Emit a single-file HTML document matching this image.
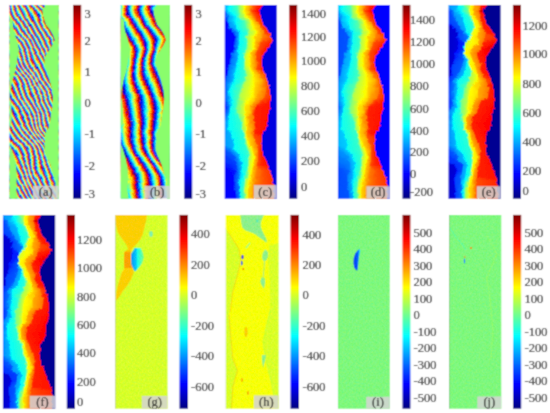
<!DOCTYPE html><html><head><meta charset="utf-8"><style>html,body{margin:0;padding:0;background:#fff;width:550px;height:413px;overflow:hidden}svg{position:absolute;left:0;top:0}text{font-family:"Liberation Serif",serif}.t{font-size:12.5px;fill:#262626;stroke:#262626;stroke-width:0.2px}.l{font-size:12.5px;fill:#1e1e1e;stroke:#1e1e1e;stroke-width:0.15px;text-anchor:middle}</style></head><body>
<svg id="m" width="550" height="413" viewBox="0 0 550 413" xmlns="http://www.w3.org/2000/svg">
<defs><linearGradient id="r0"><stop offset="0.000" stop-color="#333333"/><stop offset="0.153" stop-color="#545454"/><stop offset="0.194" stop-color="#616161"/><stop offset="0.274" stop-color="#6b6b6b"/><stop offset="0.302" stop-color="#737373"/><stop offset="0.323" stop-color="#808080"/><stop offset="0.485" stop-color="#b8b8b8"/><stop offset="0.558" stop-color="#cccccc"/><stop offset="0.617" stop-color="#d6d6d6"/><stop offset="0.657" stop-color="#dbdbdb"/><stop offset="1.000" stop-color="#fdfdfd"/></linearGradient><linearGradient id="r1"><stop offset="0.000" stop-color="#2d2d2d"/><stop offset="0.155" stop-color="#545454"/><stop offset="0.193" stop-color="#616161"/><stop offset="0.277" stop-color="#6b6b6b"/><stop offset="0.306" stop-color="#737373"/><stop offset="0.326" stop-color="#808080"/><stop offset="0.406" stop-color="#9e9e9e"/><stop offset="0.479" stop-color="#b8b8b8"/><stop offset="0.543" stop-color="#cccccc"/><stop offset="0.598" stop-color="#d6d6d6"/><stop offset="0.922" stop-color="#ffffff"/><stop offset="1.000" stop-color="#ffffff"/></linearGradient><linearGradient id="r2"><stop offset="0.000" stop-color="#252525"/><stop offset="0.137" stop-color="#4c4c4c"/><stop offset="0.192" stop-color="#616161"/><stop offset="0.281" stop-color="#6b6b6b"/><stop offset="0.311" stop-color="#737373"/><stop offset="0.328" stop-color="#808080"/><stop offset="0.401" stop-color="#9e9e9e"/><stop offset="0.529" stop-color="#cccccc"/><stop offset="0.579" stop-color="#d6d6d6"/><stop offset="0.827" stop-color="#ffffff"/><stop offset="1.000" stop-color="#ffffff"/></linearGradient><linearGradient id="r3"><stop offset="0.000" stop-color="#1a1a1a"/><stop offset="0.147" stop-color="#4c4c4c"/><stop offset="0.160" stop-color="#545454"/><stop offset="0.191" stop-color="#616161"/><stop offset="0.285" stop-color="#6b6b6b"/><stop offset="0.315" stop-color="#737373"/><stop offset="0.331" stop-color="#808080"/><stop offset="0.355" stop-color="#8c8c8c"/><stop offset="0.396" stop-color="#9e9e9e"/><stop offset="0.467" stop-color="#b8b8b8"/><stop offset="0.514" stop-color="#cccccc"/><stop offset="0.732" stop-color="#ffffff"/><stop offset="1.000" stop-color="#ffffff"/></linearGradient><linearGradient id="r4"><stop offset="0.000" stop-color="#171717"/><stop offset="0.105" stop-color="#363636"/><stop offset="0.163" stop-color="#4c4c4c"/><stop offset="0.230" stop-color="#616161"/><stop offset="0.296" stop-color="#6b6b6b"/><stop offset="0.318" stop-color="#737373"/><stop offset="0.333" stop-color="#808080"/><stop offset="0.409" stop-color="#9e9e9e"/><stop offset="0.483" stop-color="#b8b8b8"/><stop offset="0.534" stop-color="#cccccc"/><stop offset="0.584" stop-color="#d6d6d6"/><stop offset="0.819" stop-color="#ffffff"/><stop offset="1.000" stop-color="#ffffff"/></linearGradient><linearGradient id="r5"><stop offset="0.000" stop-color="#161616"/><stop offset="0.129" stop-color="#363636"/><stop offset="0.149" stop-color="#3d3d3d"/><stop offset="0.178" stop-color="#4c4c4c"/><stop offset="0.269" stop-color="#616161"/><stop offset="0.307" stop-color="#6b6b6b"/><stop offset="0.322" stop-color="#737373"/><stop offset="0.336" stop-color="#808080"/><stop offset="0.376" stop-color="#8c8c8c"/><stop offset="0.421" stop-color="#9e9e9e"/><stop offset="0.498" stop-color="#b8b8b8"/><stop offset="0.553" stop-color="#cccccc"/><stop offset="0.608" stop-color="#d6d6d6"/><stop offset="0.906" stop-color="#ffffff"/><stop offset="1.000" stop-color="#ffffff"/></linearGradient><linearGradient id="r6"><stop offset="0.000" stop-color="#141414"/><stop offset="0.153" stop-color="#363636"/><stop offset="0.172" stop-color="#3d3d3d"/><stop offset="0.194" stop-color="#4c4c4c"/><stop offset="0.308" stop-color="#616161"/><stop offset="0.338" stop-color="#808080"/><stop offset="0.387" stop-color="#8c8c8c"/><stop offset="0.433" stop-color="#9e9e9e"/><stop offset="0.514" stop-color="#b8b8b8"/><stop offset="0.573" stop-color="#cccccc"/><stop offset="0.632" stop-color="#d6d6d6"/><stop offset="1.000" stop-color="#ffffff"/></linearGradient><linearGradient id="r7"><stop offset="0.000" stop-color="#0d0d0d"/><stop offset="0.118" stop-color="#262626"/><stop offset="0.156" stop-color="#363636"/><stop offset="0.167" stop-color="#3d3d3d"/><stop offset="0.175" stop-color="#474747"/><stop offset="0.196" stop-color="#4c4c4c"/><stop offset="0.244" stop-color="#545454"/><stop offset="0.294" stop-color="#616161"/><stop offset="0.346" stop-color="#6b6b6b"/><stop offset="0.367" stop-color="#737373"/><stop offset="0.389" stop-color="#808080"/><stop offset="0.428" stop-color="#8c8c8c"/><stop offset="0.469" stop-color="#9e9e9e"/><stop offset="0.587" stop-color="#cccccc"/><stop offset="0.651" stop-color="#d6d6d6"/><stop offset="0.966" stop-color="#ffffff"/><stop offset="1.000" stop-color="#ffffff"/></linearGradient><linearGradient id="r8"><stop offset="0.000" stop-color="#060606"/><stop offset="0.154" stop-color="#262626"/><stop offset="0.164" stop-color="#474747"/><stop offset="0.251" stop-color="#545454"/><stop offset="0.279" stop-color="#616161"/><stop offset="0.373" stop-color="#6b6b6b"/><stop offset="0.409" stop-color="#737373"/><stop offset="0.441" stop-color="#808080"/><stop offset="0.506" stop-color="#9e9e9e"/><stop offset="0.534" stop-color="#adadad"/><stop offset="0.602" stop-color="#cccccc"/><stop offset="0.940" stop-color="#ffffff"/><stop offset="1.000" stop-color="#ffffff"/></linearGradient><linearGradient id="r9"><stop offset="0.000" stop-color="#080808"/><stop offset="0.117" stop-color="#1f1f1f"/><stop offset="0.146" stop-color="#212121"/><stop offset="0.163" stop-color="#262626"/><stop offset="0.174" stop-color="#474747"/><stop offset="0.226" stop-color="#4c4c4c"/><stop offset="0.262" stop-color="#545454"/><stop offset="0.284" stop-color="#616161"/><stop offset="0.371" stop-color="#6b6b6b"/><stop offset="0.414" stop-color="#737373"/><stop offset="0.468" stop-color="#8c8c8c"/><stop offset="0.517" stop-color="#9e9e9e"/><stop offset="0.549" stop-color="#adadad"/><stop offset="0.583" stop-color="#b8b8b8"/><stop offset="0.622" stop-color="#cccccc"/><stop offset="0.957" stop-color="#ffffff"/><stop offset="1.000" stop-color="#ffffff"/></linearGradient><linearGradient id="r10"><stop offset="0.000" stop-color="#090909"/><stop offset="0.117" stop-color="#1f1f1f"/><stop offset="0.163" stop-color="#212121"/><stop offset="0.172" stop-color="#262626"/><stop offset="0.184" stop-color="#474747"/><stop offset="0.252" stop-color="#4c4c4c"/><stop offset="0.273" stop-color="#545454"/><stop offset="0.289" stop-color="#616161"/><stop offset="0.370" stop-color="#6b6b6b"/><stop offset="0.419" stop-color="#737373"/><stop offset="0.467" stop-color="#8c8c8c"/><stop offset="0.528" stop-color="#9e9e9e"/><stop offset="0.565" stop-color="#adadad"/><stop offset="0.612" stop-color="#b8b8b8"/><stop offset="0.641" stop-color="#cccccc"/><stop offset="0.974" stop-color="#ffffff"/><stop offset="1.000" stop-color="#ffffff"/></linearGradient><linearGradient id="r11"><stop offset="0.000" stop-color="#0a0a0a"/><stop offset="0.117" stop-color="#1f1f1f"/><stop offset="0.179" stop-color="#212121"/><stop offset="0.194" stop-color="#474747"/><stop offset="0.279" stop-color="#4c4c4c"/><stop offset="0.294" stop-color="#616161"/><stop offset="0.424" stop-color="#737373"/><stop offset="0.467" stop-color="#8c8c8c"/><stop offset="0.539" stop-color="#9e9e9e"/><stop offset="0.580" stop-color="#adadad"/><stop offset="0.640" stop-color="#b8b8b8"/><stop offset="0.661" stop-color="#cccccc"/><stop offset="0.991" stop-color="#ffffff"/><stop offset="1.000" stop-color="#ffffff"/></linearGradient><linearGradient id="r12"><stop offset="0.000" stop-color="#0a0a0a"/><stop offset="0.117" stop-color="#1f1f1f"/><stop offset="0.198" stop-color="#212121"/><stop offset="0.210" stop-color="#363636"/><stop offset="0.220" stop-color="#3d3d3d"/><stop offset="0.237" stop-color="#474747"/><stop offset="0.295" stop-color="#4c4c4c"/><stop offset="0.308" stop-color="#616161"/><stop offset="0.397" stop-color="#6b6b6b"/><stop offset="0.437" stop-color="#737373"/><stop offset="0.477" stop-color="#8c8c8c"/><stop offset="0.554" stop-color="#9e9e9e"/><stop offset="0.589" stop-color="#adadad"/><stop offset="0.643" stop-color="#b8b8b8"/><stop offset="0.664" stop-color="#c2c2c2"/><stop offset="0.675" stop-color="#cccccc"/><stop offset="1.000" stop-color="#fbfbfb"/></linearGradient><linearGradient id="r13"><stop offset="0.000" stop-color="#0a0a0a"/><stop offset="0.117" stop-color="#1f1f1f"/><stop offset="0.217" stop-color="#212121"/><stop offset="0.232" stop-color="#363636"/><stop offset="0.249" stop-color="#3d3d3d"/><stop offset="0.280" stop-color="#474747"/><stop offset="0.310" stop-color="#4c4c4c"/><stop offset="0.323" stop-color="#616161"/><stop offset="0.425" stop-color="#6b6b6b"/><stop offset="0.451" stop-color="#737373"/><stop offset="0.487" stop-color="#8c8c8c"/><stop offset="0.568" stop-color="#9e9e9e"/><stop offset="0.599" stop-color="#adadad"/><stop offset="0.647" stop-color="#b8b8b8"/><stop offset="0.677" stop-color="#c2c2c2"/><stop offset="0.690" stop-color="#cccccc"/><stop offset="1.000" stop-color="#f6f6f6"/></linearGradient><linearGradient id="r14"><stop offset="0.000" stop-color="#0a0a0a"/><stop offset="0.117" stop-color="#1f1f1f"/><stop offset="0.236" stop-color="#212121"/><stop offset="0.255" stop-color="#363636"/><stop offset="0.279" stop-color="#3d3d3d"/><stop offset="0.323" stop-color="#474747"/><stop offset="0.338" stop-color="#616161"/><stop offset="0.454" stop-color="#6b6b6b"/><stop offset="0.496" stop-color="#8c8c8c"/><stop offset="0.583" stop-color="#9e9e9e"/><stop offset="0.608" stop-color="#adadad"/><stop offset="0.690" stop-color="#c2c2c2"/><stop offset="0.705" stop-color="#cccccc"/><stop offset="1.000" stop-color="#f2f2f2"/></linearGradient><linearGradient id="r15"><stop offset="0.000" stop-color="#0a0a0a"/><stop offset="0.117" stop-color="#1f1f1f"/><stop offset="0.251" stop-color="#212121"/><stop offset="0.269" stop-color="#363636"/><stop offset="0.287" stop-color="#3d3d3d"/><stop offset="0.318" stop-color="#474747"/><stop offset="0.325" stop-color="#4c4c4c"/><stop offset="0.338" stop-color="#616161"/><stop offset="0.439" stop-color="#6b6b6b"/><stop offset="0.475" stop-color="#8c8c8c"/><stop offset="0.561" stop-color="#9e9e9e"/><stop offset="0.583" stop-color="#adadad"/><stop offset="0.652" stop-color="#b8b8b8"/><stop offset="0.684" stop-color="#c2c2c2"/><stop offset="0.759" stop-color="#cccccc"/><stop offset="1.000" stop-color="#e2e2e2"/></linearGradient><linearGradient id="r16"><stop offset="0.000" stop-color="#0a0a0a"/><stop offset="0.117" stop-color="#1f1f1f"/><stop offset="0.266" stop-color="#212121"/><stop offset="0.284" stop-color="#363636"/><stop offset="0.296" stop-color="#3d3d3d"/><stop offset="0.323" stop-color="#4c4c4c"/><stop offset="0.338" stop-color="#616161"/><stop offset="0.424" stop-color="#6b6b6b"/><stop offset="0.454" stop-color="#8c8c8c"/><stop offset="0.539" stop-color="#9e9e9e"/><stop offset="0.558" stop-color="#adadad"/><stop offset="0.655" stop-color="#b8b8b8"/><stop offset="0.677" stop-color="#c2c2c2"/><stop offset="1.000" stop-color="#d9d9d9"/></linearGradient><linearGradient id="r17"><stop offset="0.000" stop-color="#0a0a0a"/><stop offset="0.117" stop-color="#1f1f1f"/><stop offset="0.261" stop-color="#212121"/><stop offset="0.279" stop-color="#363636"/><stop offset="0.292" stop-color="#3d3d3d"/><stop offset="0.323" stop-color="#4c4c4c"/><stop offset="0.338" stop-color="#616161"/><stop offset="0.429" stop-color="#6b6b6b"/><stop offset="0.458" stop-color="#8c8c8c"/><stop offset="0.539" stop-color="#9e9e9e"/><stop offset="0.559" stop-color="#adadad"/><stop offset="0.636" stop-color="#b8b8b8"/><stop offset="0.662" stop-color="#c2c2c2"/><stop offset="0.758" stop-color="#cccccc"/><stop offset="1.000" stop-color="#dddddd"/></linearGradient><linearGradient id="r18"><stop offset="0.000" stop-color="#0a0a0a"/><stop offset="0.117" stop-color="#1f1f1f"/><stop offset="0.256" stop-color="#212121"/><stop offset="0.274" stop-color="#363636"/><stop offset="0.288" stop-color="#3d3d3d"/><stop offset="0.323" stop-color="#4c4c4c"/><stop offset="0.338" stop-color="#616161"/><stop offset="0.434" stop-color="#6b6b6b"/><stop offset="0.463" stop-color="#8c8c8c"/><stop offset="0.539" stop-color="#9e9e9e"/><stop offset="0.560" stop-color="#adadad"/><stop offset="0.616" stop-color="#b8b8b8"/><stop offset="0.647" stop-color="#c2c2c2"/><stop offset="0.702" stop-color="#cccccc"/><stop offset="1.000" stop-color="#e2e2e2"/></linearGradient><linearGradient id="r19"><stop offset="0.000" stop-color="#0a0a0a"/><stop offset="0.117" stop-color="#1f1f1f"/><stop offset="0.251" stop-color="#212121"/><stop offset="0.269" stop-color="#363636"/><stop offset="0.285" stop-color="#3d3d3d"/><stop offset="0.323" stop-color="#4c4c4c"/><stop offset="0.338" stop-color="#616161"/><stop offset="0.439" stop-color="#6b6b6b"/><stop offset="0.467" stop-color="#8c8c8c"/><stop offset="0.539" stop-color="#9e9e9e"/><stop offset="0.561" stop-color="#adadad"/><stop offset="0.632" stop-color="#c2c2c2"/><stop offset="0.646" stop-color="#cccccc"/><stop offset="1.000" stop-color="#e6e6e6"/></linearGradient><linearGradient id="r20"><stop offset="0.000" stop-color="#0a0a0a"/><stop offset="0.117" stop-color="#1f1f1f"/><stop offset="0.251" stop-color="#212121"/><stop offset="0.269" stop-color="#363636"/><stop offset="0.283" stop-color="#3d3d3d"/><stop offset="0.318" stop-color="#4c4c4c"/><stop offset="0.333" stop-color="#616161"/><stop offset="0.434" stop-color="#6b6b6b"/><stop offset="0.463" stop-color="#8c8c8c"/><stop offset="0.539" stop-color="#9e9e9e"/><stop offset="0.558" stop-color="#adadad"/><stop offset="0.623" stop-color="#c2c2c2"/><stop offset="0.636" stop-color="#cccccc"/><stop offset="1.000" stop-color="#ebebeb"/></linearGradient><linearGradient id="r21"><stop offset="0.000" stop-color="#0a0a0a"/><stop offset="0.117" stop-color="#1f1f1f"/><stop offset="0.251" stop-color="#212121"/><stop offset="0.269" stop-color="#363636"/><stop offset="0.282" stop-color="#3d3d3d"/><stop offset="0.313" stop-color="#4c4c4c"/><stop offset="0.328" stop-color="#616161"/><stop offset="0.429" stop-color="#6b6b6b"/><stop offset="0.458" stop-color="#8c8c8c"/><stop offset="0.539" stop-color="#9e9e9e"/><stop offset="0.556" stop-color="#adadad"/><stop offset="0.613" stop-color="#c2c2c2"/><stop offset="0.627" stop-color="#cccccc"/><stop offset="1.000" stop-color="#f0f0f0"/></linearGradient><linearGradient id="r22"><stop offset="0.000" stop-color="#0a0a0a"/><stop offset="0.117" stop-color="#1f1f1f"/><stop offset="0.251" stop-color="#212121"/><stop offset="0.269" stop-color="#363636"/><stop offset="0.281" stop-color="#3d3d3d"/><stop offset="0.308" stop-color="#4c4c4c"/><stop offset="0.323" stop-color="#616161"/><stop offset="0.424" stop-color="#6b6b6b"/><stop offset="0.454" stop-color="#8c8c8c"/><stop offset="0.539" stop-color="#9e9e9e"/><stop offset="0.553" stop-color="#adadad"/><stop offset="0.604" stop-color="#c2c2c2"/><stop offset="0.617" stop-color="#cccccc"/><stop offset="1.000" stop-color="#f8f8f8"/></linearGradient><linearGradient id="r23"><stop offset="0.000" stop-color="#0a0a0a"/><stop offset="0.117" stop-color="#1f1f1f"/><stop offset="0.236" stop-color="#212121"/><stop offset="0.253" stop-color="#363636"/><stop offset="0.262" stop-color="#3d3d3d"/><stop offset="0.308" stop-color="#4c4c4c"/><stop offset="0.323" stop-color="#616161"/><stop offset="0.410" stop-color="#6b6b6b"/><stop offset="0.436" stop-color="#8c8c8c"/><stop offset="0.510" stop-color="#9e9e9e"/><stop offset="0.527" stop-color="#adadad"/><stop offset="0.589" stop-color="#c2c2c2"/><stop offset="0.602" stop-color="#cccccc"/><stop offset="1.000" stop-color="#fafafa"/></linearGradient><linearGradient id="r24"><stop offset="0.000" stop-color="#0a0a0a"/><stop offset="0.117" stop-color="#1f1f1f"/><stop offset="0.222" stop-color="#212121"/><stop offset="0.242" stop-color="#3d3d3d"/><stop offset="0.308" stop-color="#4c4c4c"/><stop offset="0.323" stop-color="#616161"/><stop offset="0.396" stop-color="#6b6b6b"/><stop offset="0.419" stop-color="#8c8c8c"/><stop offset="0.482" stop-color="#9e9e9e"/><stop offset="0.500" stop-color="#adadad"/><stop offset="0.575" stop-color="#c2c2c2"/><stop offset="0.587" stop-color="#cccccc"/><stop offset="1.000" stop-color="#fcfcfc"/></linearGradient><linearGradient id="r25"><stop offset="0.000" stop-color="#0a0a0a"/><stop offset="0.117" stop-color="#1f1f1f"/><stop offset="0.212" stop-color="#212121"/><stop offset="0.233" stop-color="#3d3d3d"/><stop offset="0.289" stop-color="#474747"/><stop offset="0.305" stop-color="#4c4c4c"/><stop offset="0.323" stop-color="#616161"/><stop offset="0.396" stop-color="#6b6b6b"/><stop offset="0.419" stop-color="#8c8c8c"/><stop offset="0.439" stop-color="#949494"/><stop offset="0.482" stop-color="#9e9e9e"/><stop offset="0.502" stop-color="#adadad"/><stop offset="0.575" stop-color="#c2c2c2"/><stop offset="0.587" stop-color="#cccccc"/><stop offset="1.000" stop-color="#ffffff"/></linearGradient><linearGradient id="r26"><stop offset="0.000" stop-color="#0a0a0a"/><stop offset="0.117" stop-color="#1f1f1f"/><stop offset="0.203" stop-color="#212121"/><stop offset="0.223" stop-color="#3d3d3d"/><stop offset="0.291" stop-color="#474747"/><stop offset="0.302" stop-color="#4c4c4c"/><stop offset="0.323" stop-color="#616161"/><stop offset="0.396" stop-color="#6b6b6b"/><stop offset="0.419" stop-color="#8c8c8c"/><stop offset="0.431" stop-color="#949494"/><stop offset="0.482" stop-color="#9e9e9e"/><stop offset="0.504" stop-color="#adadad"/><stop offset="0.575" stop-color="#c2c2c2"/><stop offset="0.587" stop-color="#cccccc"/><stop offset="0.959" stop-color="#ffffff"/><stop offset="1.000" stop-color="#ffffff"/></linearGradient><linearGradient id="r27"><stop offset="0.000" stop-color="#0a0a0a"/><stop offset="0.117" stop-color="#1f1f1f"/><stop offset="0.194" stop-color="#212121"/><stop offset="0.213" stop-color="#3d3d3d"/><stop offset="0.294" stop-color="#474747"/><stop offset="0.323" stop-color="#616161"/><stop offset="0.396" stop-color="#6b6b6b"/><stop offset="0.424" stop-color="#949494"/><stop offset="0.482" stop-color="#9e9e9e"/><stop offset="0.506" stop-color="#adadad"/><stop offset="0.575" stop-color="#c2c2c2"/><stop offset="0.587" stop-color="#cccccc"/><stop offset="0.925" stop-color="#ffffff"/><stop offset="1.000" stop-color="#ffffff"/></linearGradient><linearGradient id="r28"><stop offset="0.000" stop-color="#0a0a0a"/><stop offset="0.117" stop-color="#1f1f1f"/><stop offset="0.189" stop-color="#212121"/><stop offset="0.208" stop-color="#3d3d3d"/><stop offset="0.289" stop-color="#474747"/><stop offset="0.318" stop-color="#616161"/><stop offset="0.396" stop-color="#6b6b6b"/><stop offset="0.424" stop-color="#949494"/><stop offset="0.482" stop-color="#9e9e9e"/><stop offset="0.506" stop-color="#adadad"/><stop offset="0.580" stop-color="#c2c2c2"/><stop offset="0.592" stop-color="#cccccc"/><stop offset="0.930" stop-color="#ffffff"/><stop offset="1.000" stop-color="#ffffff"/></linearGradient><linearGradient id="r29"><stop offset="0.000" stop-color="#0a0a0a"/><stop offset="0.117" stop-color="#1f1f1f"/><stop offset="0.184" stop-color="#212121"/><stop offset="0.203" stop-color="#3d3d3d"/><stop offset="0.284" stop-color="#474747"/><stop offset="0.313" stop-color="#616161"/><stop offset="0.396" stop-color="#6b6b6b"/><stop offset="0.424" stop-color="#949494"/><stop offset="0.482" stop-color="#9e9e9e"/><stop offset="0.506" stop-color="#adadad"/><stop offset="0.584" stop-color="#c2c2c2"/><stop offset="0.597" stop-color="#cccccc"/><stop offset="0.935" stop-color="#ffffff"/><stop offset="1.000" stop-color="#ffffff"/></linearGradient><linearGradient id="r30"><stop offset="0.000" stop-color="#0a0a0a"/><stop offset="0.117" stop-color="#1f1f1f"/><stop offset="0.179" stop-color="#212121"/><stop offset="0.198" stop-color="#3d3d3d"/><stop offset="0.279" stop-color="#474747"/><stop offset="0.308" stop-color="#616161"/><stop offset="0.396" stop-color="#6b6b6b"/><stop offset="0.424" stop-color="#949494"/><stop offset="0.482" stop-color="#9e9e9e"/><stop offset="0.506" stop-color="#adadad"/><stop offset="0.589" stop-color="#c2c2c2"/><stop offset="0.602" stop-color="#cccccc"/><stop offset="0.940" stop-color="#ffffff"/><stop offset="1.000" stop-color="#ffffff"/></linearGradient><linearGradient id="r31"><stop offset="0.000" stop-color="#0a0a0a"/><stop offset="0.117" stop-color="#1f1f1f"/><stop offset="0.172" stop-color="#212121"/><stop offset="0.190" stop-color="#3d3d3d"/><stop offset="0.256" stop-color="#474747"/><stop offset="0.275" stop-color="#4c4c4c"/><stop offset="0.301" stop-color="#616161"/><stop offset="0.396" stop-color="#6b6b6b"/><stop offset="0.422" stop-color="#8c8c8c"/><stop offset="0.440" stop-color="#949494"/><stop offset="0.489" stop-color="#9e9e9e"/><stop offset="0.513" stop-color="#adadad"/><stop offset="0.582" stop-color="#c2c2c2"/><stop offset="0.595" stop-color="#cccccc"/><stop offset="0.969" stop-color="#ffffff"/><stop offset="1.000" stop-color="#ffffff"/></linearGradient><linearGradient id="r32"><stop offset="0.000" stop-color="#0a0a0a"/><stop offset="0.117" stop-color="#1f1f1f"/><stop offset="0.164" stop-color="#212121"/><stop offset="0.182" stop-color="#3d3d3d"/><stop offset="0.233" stop-color="#474747"/><stop offset="0.266" stop-color="#4c4c4c"/><stop offset="0.294" stop-color="#616161"/><stop offset="0.396" stop-color="#6b6b6b"/><stop offset="0.426" stop-color="#8c8c8c"/><stop offset="0.496" stop-color="#9e9e9e"/><stop offset="0.521" stop-color="#adadad"/><stop offset="0.575" stop-color="#c2c2c2"/><stop offset="0.587" stop-color="#cccccc"/><stop offset="1.000" stop-color="#ffffff"/></linearGradient><linearGradient id="r33"><stop offset="0.000" stop-color="#0a0a0a"/><stop offset="0.117" stop-color="#1f1f1f"/><stop offset="0.160" stop-color="#212121"/><stop offset="0.177" stop-color="#3d3d3d"/><stop offset="0.228" stop-color="#474747"/><stop offset="0.261" stop-color="#4c4c4c"/><stop offset="0.286" stop-color="#616161"/><stop offset="0.396" stop-color="#6b6b6b"/><stop offset="0.412" stop-color="#737373"/><stop offset="0.436" stop-color="#8c8c8c"/><stop offset="0.511" stop-color="#9e9e9e"/><stop offset="0.538" stop-color="#adadad"/><stop offset="0.574" stop-color="#b8b8b8"/><stop offset="0.597" stop-color="#c2c2c2"/><stop offset="0.629" stop-color="#cccccc"/><stop offset="1.000" stop-color="#f9f9f9"/></linearGradient><linearGradient id="r34"><stop offset="0.000" stop-color="#0a0a0a"/><stop offset="0.117" stop-color="#1f1f1f"/><stop offset="0.155" stop-color="#212121"/><stop offset="0.172" stop-color="#3d3d3d"/><stop offset="0.223" stop-color="#474747"/><stop offset="0.256" stop-color="#4c4c4c"/><stop offset="0.279" stop-color="#616161"/><stop offset="0.395" stop-color="#6b6b6b"/><stop offset="0.421" stop-color="#737373"/><stop offset="0.445" stop-color="#8c8c8c"/><stop offset="0.525" stop-color="#9e9e9e"/><stop offset="0.555" stop-color="#adadad"/><stop offset="0.600" stop-color="#b8b8b8"/><stop offset="0.620" stop-color="#c2c2c2"/><stop offset="0.671" stop-color="#cccccc"/><stop offset="1.000" stop-color="#f3f3f3"/></linearGradient><linearGradient id="r35"><stop offset="0.000" stop-color="#0a0a0a"/><stop offset="0.117" stop-color="#1f1f1f"/><stop offset="0.150" stop-color="#212121"/><stop offset="0.167" stop-color="#3d3d3d"/><stop offset="0.218" stop-color="#474747"/><stop offset="0.251" stop-color="#4c4c4c"/><stop offset="0.272" stop-color="#616161"/><stop offset="0.394" stop-color="#6b6b6b"/><stop offset="0.430" stop-color="#737373"/><stop offset="0.455" stop-color="#8c8c8c"/><stop offset="0.539" stop-color="#9e9e9e"/><stop offset="0.573" stop-color="#adadad"/><stop offset="0.626" stop-color="#b8b8b8"/><stop offset="0.642" stop-color="#c2c2c2"/><stop offset="0.712" stop-color="#cccccc"/><stop offset="1.000" stop-color="#ededed"/></linearGradient><linearGradient id="r36"><stop offset="0.000" stop-color="#0c0c0c"/><stop offset="0.094" stop-color="#1f1f1f"/><stop offset="0.118" stop-color="#212121"/><stop offset="0.162" stop-color="#3d3d3d"/><stop offset="0.246" stop-color="#4c4c4c"/><stop offset="0.267" stop-color="#616161"/><stop offset="0.385" stop-color="#6b6b6b"/><stop offset="0.420" stop-color="#737373"/><stop offset="0.445" stop-color="#8c8c8c"/><stop offset="0.539" stop-color="#9e9e9e"/><stop offset="0.559" stop-color="#a6a6a6"/><stop offset="0.586" stop-color="#adadad"/><stop offset="0.639" stop-color="#b8b8b8"/><stop offset="0.662" stop-color="#c2c2c2"/><stop offset="0.726" stop-color="#cccccc"/><stop offset="1.000" stop-color="#f1f1f1"/></linearGradient><linearGradient id="r37"><stop offset="0.000" stop-color="#0e0e0e"/><stop offset="0.070" stop-color="#1f1f1f"/><stop offset="0.087" stop-color="#212121"/><stop offset="0.158" stop-color="#3d3d3d"/><stop offset="0.241" stop-color="#4c4c4c"/><stop offset="0.262" stop-color="#616161"/><stop offset="0.377" stop-color="#6b6b6b"/><stop offset="0.411" stop-color="#737373"/><stop offset="0.436" stop-color="#8c8c8c"/><stop offset="0.539" stop-color="#9e9e9e"/><stop offset="0.561" stop-color="#a6a6a6"/><stop offset="0.652" stop-color="#b8b8b8"/><stop offset="0.682" stop-color="#c2c2c2"/><stop offset="1.000" stop-color="#f5f5f5"/></linearGradient><linearGradient id="r38"><stop offset="0.000" stop-color="#111111"/><stop offset="0.153" stop-color="#3d3d3d"/><stop offset="0.236" stop-color="#4c4c4c"/><stop offset="0.257" stop-color="#616161"/><stop offset="0.369" stop-color="#6b6b6b"/><stop offset="0.401" stop-color="#737373"/><stop offset="0.426" stop-color="#8c8c8c"/><stop offset="0.539" stop-color="#9e9e9e"/><stop offset="0.564" stop-color="#a6a6a6"/><stop offset="0.614" stop-color="#adadad"/><stop offset="0.665" stop-color="#b8b8b8"/><stop offset="0.702" stop-color="#c2c2c2"/><stop offset="1.000" stop-color="#fbfbfb"/></linearGradient><linearGradient id="r39"><stop offset="0.000" stop-color="#151515"/><stop offset="0.145" stop-color="#3d3d3d"/><stop offset="0.215" stop-color="#4c4c4c"/><stop offset="0.239" stop-color="#616161"/><stop offset="0.337" stop-color="#6b6b6b"/><stop offset="0.384" stop-color="#737373"/><stop offset="0.411" stop-color="#8c8c8c"/><stop offset="0.539" stop-color="#9e9e9e"/><stop offset="0.560" stop-color="#a6a6a6"/><stop offset="0.593" stop-color="#adadad"/><stop offset="0.656" stop-color="#b8b8b8"/><stop offset="0.698" stop-color="#c2c2c2"/><stop offset="0.756" stop-color="#cccccc"/><stop offset="1.000" stop-color="#ececec"/></linearGradient><linearGradient id="r40"><stop offset="0.000" stop-color="#191919"/><stop offset="0.194" stop-color="#4c4c4c"/><stop offset="0.222" stop-color="#616161"/><stop offset="0.367" stop-color="#737373"/><stop offset="0.396" stop-color="#8c8c8c"/><stop offset="0.539" stop-color="#9e9e9e"/><stop offset="0.573" stop-color="#adadad"/><stop offset="0.646" stop-color="#b8b8b8"/><stop offset="0.694" stop-color="#c2c2c2"/><stop offset="0.756" stop-color="#cccccc"/><stop offset="1.000" stop-color="#e4e4e4"/></linearGradient><linearGradient id="r41"><stop offset="0.000" stop-color="#1d1d1d"/><stop offset="0.141" stop-color="#3d3d3d"/><stop offset="0.188" stop-color="#4c4c4c"/><stop offset="0.212" stop-color="#616161"/><stop offset="0.357" stop-color="#737373"/><stop offset="0.387" stop-color="#8c8c8c"/><stop offset="0.532" stop-color="#9e9e9e"/><stop offset="0.553" stop-color="#a6a6a6"/><stop offset="0.569" stop-color="#adadad"/><stop offset="0.701" stop-color="#c2c2c2"/><stop offset="0.749" stop-color="#cccccc"/><stop offset="1.000" stop-color="#e5e5e5"/></linearGradient><linearGradient id="r42"><stop offset="0.000" stop-color="#212121"/><stop offset="0.145" stop-color="#3d3d3d"/><stop offset="0.172" stop-color="#474747"/><stop offset="0.182" stop-color="#4c4c4c"/><stop offset="0.203" stop-color="#616161"/><stop offset="0.348" stop-color="#737373"/><stop offset="0.377" stop-color="#8c8c8c"/><stop offset="0.525" stop-color="#9e9e9e"/><stop offset="0.551" stop-color="#a6a6a6"/><stop offset="0.566" stop-color="#adadad"/><stop offset="0.709" stop-color="#c2c2c2"/><stop offset="0.742" stop-color="#cccccc"/><stop offset="1.000" stop-color="#e6e6e6"/></linearGradient><linearGradient id="r43"><stop offset="0.000" stop-color="#242424"/><stop offset="0.149" stop-color="#3d3d3d"/><stop offset="0.171" stop-color="#474747"/><stop offset="0.194" stop-color="#616161"/><stop offset="0.338" stop-color="#737373"/><stop offset="0.367" stop-color="#8c8c8c"/><stop offset="0.517" stop-color="#9e9e9e"/><stop offset="0.549" stop-color="#a6a6a6"/><stop offset="0.563" stop-color="#adadad"/><stop offset="0.628" stop-color="#b8b8b8"/><stop offset="0.717" stop-color="#c2c2c2"/><stop offset="0.734" stop-color="#cccccc"/><stop offset="1.000" stop-color="#e7e7e7"/></linearGradient><linearGradient id="r44"><stop offset="0.000" stop-color="#212121"/><stop offset="0.145" stop-color="#3d3d3d"/><stop offset="0.174" stop-color="#474747"/><stop offset="0.199" stop-color="#616161"/><stop offset="0.328" stop-color="#737373"/><stop offset="0.357" stop-color="#8c8c8c"/><stop offset="0.516" stop-color="#9e9e9e"/><stop offset="0.549" stop-color="#a6a6a6"/><stop offset="0.563" stop-color="#adadad"/><stop offset="0.613" stop-color="#b8b8b8"/><stop offset="0.709" stop-color="#c2c2c2"/><stop offset="0.727" stop-color="#cccccc"/><stop offset="1.000" stop-color="#e4e4e4"/></linearGradient><linearGradient id="r45"><stop offset="0.000" stop-color="#1f1f1f"/><stop offset="0.142" stop-color="#3d3d3d"/><stop offset="0.177" stop-color="#474747"/><stop offset="0.204" stop-color="#616161"/><stop offset="0.318" stop-color="#737373"/><stop offset="0.348" stop-color="#8c8c8c"/><stop offset="0.515" stop-color="#9e9e9e"/><stop offset="0.549" stop-color="#a6a6a6"/><stop offset="0.563" stop-color="#adadad"/><stop offset="0.598" stop-color="#b8b8b8"/><stop offset="0.701" stop-color="#c2c2c2"/><stop offset="0.720" stop-color="#cccccc"/><stop offset="1.000" stop-color="#e2e2e2"/></linearGradient><linearGradient id="r46"><stop offset="0.000" stop-color="#1b1b1b"/><stop offset="0.179" stop-color="#474747"/><stop offset="0.209" stop-color="#616161"/><stop offset="0.308" stop-color="#737373"/><stop offset="0.338" stop-color="#8c8c8c"/><stop offset="0.514" stop-color="#9e9e9e"/><stop offset="0.549" stop-color="#a6a6a6"/><stop offset="0.583" stop-color="#b8b8b8"/><stop offset="0.693" stop-color="#c2c2c2"/><stop offset="0.712" stop-color="#cccccc"/><stop offset="1.000" stop-color="#e0e0e0"/></linearGradient><linearGradient id="r47"><stop offset="0.000" stop-color="#141414"/><stop offset="0.179" stop-color="#474747"/><stop offset="0.189" stop-color="#4c4c4c"/><stop offset="0.215" stop-color="#616161"/><stop offset="0.308" stop-color="#737373"/><stop offset="0.326" stop-color="#808080"/><stop offset="0.359" stop-color="#8c8c8c"/><stop offset="0.419" stop-color="#949494"/><stop offset="0.519" stop-color="#a6a6a6"/><stop offset="0.551" stop-color="#adadad"/><stop offset="0.571" stop-color="#b8b8b8"/><stop offset="0.659" stop-color="#c2c2c2"/><stop offset="0.679" stop-color="#cccccc"/><stop offset="1.000" stop-color="#e5e5e5"/></linearGradient><linearGradient id="r48"><stop offset="0.000" stop-color="#0c0c0c"/><stop offset="0.194" stop-color="#4c4c4c"/><stop offset="0.222" stop-color="#616161"/><stop offset="0.308" stop-color="#737373"/><stop offset="0.329" stop-color="#808080"/><stop offset="0.381" stop-color="#8c8c8c"/><stop offset="0.424" stop-color="#949494"/><stop offset="0.441" stop-color="#9e9e9e"/><stop offset="0.539" stop-color="#adadad"/><stop offset="0.558" stop-color="#b8b8b8"/><stop offset="0.626" stop-color="#c2c2c2"/><stop offset="0.646" stop-color="#cccccc"/><stop offset="1.000" stop-color="#ededed"/></linearGradient><linearGradient id="r49"><stop offset="0.000" stop-color="#090909"/><stop offset="0.140" stop-color="#363636"/><stop offset="0.194" stop-color="#4c4c4c"/><stop offset="0.217" stop-color="#616161"/><stop offset="0.274" stop-color="#6b6b6b"/><stop offset="0.302" stop-color="#737373"/><stop offset="0.322" stop-color="#808080"/><stop offset="0.375" stop-color="#8c8c8c"/><stop offset="0.415" stop-color="#949494"/><stop offset="0.431" stop-color="#9e9e9e"/><stop offset="0.468" stop-color="#a6a6a6"/><stop offset="0.520" stop-color="#adadad"/><stop offset="0.539" stop-color="#b8b8b8"/><stop offset="0.597" stop-color="#c2c2c2"/><stop offset="0.618" stop-color="#cccccc"/><stop offset="0.695" stop-color="#d6d6d6"/><stop offset="0.798" stop-color="#dbdbdb"/><stop offset="1.000" stop-color="#ececec"/></linearGradient><linearGradient id="r50"><stop offset="0.000" stop-color="#070707"/><stop offset="0.155" stop-color="#363636"/><stop offset="0.171" stop-color="#3d3d3d"/><stop offset="0.194" stop-color="#4c4c4c"/><stop offset="0.213" stop-color="#616161"/><stop offset="0.276" stop-color="#6b6b6b"/><stop offset="0.296" stop-color="#737373"/><stop offset="0.315" stop-color="#808080"/><stop offset="0.406" stop-color="#949494"/><stop offset="0.422" stop-color="#9e9e9e"/><stop offset="0.447" stop-color="#a6a6a6"/><stop offset="0.501" stop-color="#adadad"/><stop offset="0.520" stop-color="#b8b8b8"/><stop offset="0.568" stop-color="#c2c2c2"/><stop offset="0.590" stop-color="#cccccc"/><stop offset="0.634" stop-color="#d6d6d6"/><stop offset="0.784" stop-color="#dbdbdb"/><stop offset="1.000" stop-color="#ececec"/></linearGradient><linearGradient id="r51"><stop offset="0.000" stop-color="#040404"/><stop offset="0.170" stop-color="#363636"/><stop offset="0.183" stop-color="#3d3d3d"/><stop offset="0.209" stop-color="#616161"/><stop offset="0.279" stop-color="#6b6b6b"/><stop offset="0.308" stop-color="#808080"/><stop offset="0.396" stop-color="#949494"/><stop offset="0.426" stop-color="#a6a6a6"/><stop offset="0.482" stop-color="#adadad"/><stop offset="0.501" stop-color="#b8b8b8"/><stop offset="0.539" stop-color="#c2c2c2"/><stop offset="0.562" stop-color="#cccccc"/><stop offset="0.573" stop-color="#d6d6d6"/><stop offset="0.769" stop-color="#dbdbdb"/><stop offset="1.000" stop-color="#ebebeb"/></linearGradient><linearGradient id="r52"><stop offset="0.000" stop-color="#0e0e0e"/><stop offset="0.157" stop-color="#363636"/><stop offset="0.177" stop-color="#3d3d3d"/><stop offset="0.188" stop-color="#474747"/><stop offset="0.204" stop-color="#616161"/><stop offset="0.279" stop-color="#6b6b6b"/><stop offset="0.308" stop-color="#808080"/><stop offset="0.396" stop-color="#949494"/><stop offset="0.426" stop-color="#a6a6a6"/><stop offset="0.477" stop-color="#adadad"/><stop offset="0.502" stop-color="#b8b8b8"/><stop offset="0.534" stop-color="#c2c2c2"/><stop offset="0.556" stop-color="#cccccc"/><stop offset="0.567" stop-color="#d6d6d6"/><stop offset="0.765" stop-color="#dbdbdb"/><stop offset="1.000" stop-color="#ececec"/></linearGradient><linearGradient id="r53"><stop offset="0.000" stop-color="#151515"/><stop offset="0.172" stop-color="#3d3d3d"/><stop offset="0.185" stop-color="#474747"/><stop offset="0.199" stop-color="#616161"/><stop offset="0.279" stop-color="#6b6b6b"/><stop offset="0.308" stop-color="#808080"/><stop offset="0.396" stop-color="#949494"/><stop offset="0.426" stop-color="#a6a6a6"/><stop offset="0.473" stop-color="#adadad"/><stop offset="0.503" stop-color="#b8b8b8"/><stop offset="0.550" stop-color="#cccccc"/><stop offset="0.561" stop-color="#d6d6d6"/><stop offset="0.761" stop-color="#dbdbdb"/><stop offset="1.000" stop-color="#ececec"/></linearGradient><linearGradient id="r54"><stop offset="0.000" stop-color="#1b1b1b"/><stop offset="0.167" stop-color="#3d3d3d"/><stop offset="0.183" stop-color="#474747"/><stop offset="0.194" stop-color="#616161"/><stop offset="0.279" stop-color="#6b6b6b"/><stop offset="0.308" stop-color="#808080"/><stop offset="0.396" stop-color="#949494"/><stop offset="0.426" stop-color="#a6a6a6"/><stop offset="0.468" stop-color="#adadad"/><stop offset="0.503" stop-color="#b8b8b8"/><stop offset="0.544" stop-color="#cccccc"/><stop offset="0.555" stop-color="#d6d6d6"/><stop offset="0.756" stop-color="#dbdbdb"/><stop offset="1.000" stop-color="#ececec"/></linearGradient><linearGradient id="r55"><stop offset="0.000" stop-color="#1f1f1f"/><stop offset="0.142" stop-color="#3d3d3d"/><stop offset="0.174" stop-color="#474747"/><stop offset="0.186" stop-color="#616161"/><stop offset="0.301" stop-color="#6b6b6b"/><stop offset="0.330" stop-color="#808080"/><stop offset="0.380" stop-color="#8c8c8c"/><stop offset="0.400" stop-color="#949494"/><stop offset="0.412" stop-color="#9e9e9e"/><stop offset="0.430" stop-color="#a6a6a6"/><stop offset="0.457" stop-color="#adadad"/><stop offset="0.479" stop-color="#b8b8b8"/><stop offset="0.532" stop-color="#c2c2c2"/><stop offset="0.547" stop-color="#cccccc"/><stop offset="0.557" stop-color="#d6d6d6"/><stop offset="0.749" stop-color="#dbdbdb"/><stop offset="1.000" stop-color="#ededed"/></linearGradient><linearGradient id="r56"><stop offset="0.000" stop-color="#242424"/><stop offset="0.164" stop-color="#474747"/><stop offset="0.179" stop-color="#616161"/><stop offset="0.323" stop-color="#6b6b6b"/><stop offset="0.352" stop-color="#808080"/><stop offset="0.396" stop-color="#8c8c8c"/><stop offset="0.411" stop-color="#9e9e9e"/><stop offset="0.433" stop-color="#a6a6a6"/><stop offset="0.445" stop-color="#adadad"/><stop offset="0.455" stop-color="#b8b8b8"/><stop offset="0.541" stop-color="#c2c2c2"/><stop offset="0.558" stop-color="#d6d6d6"/><stop offset="0.742" stop-color="#dbdbdb"/><stop offset="1.000" stop-color="#ededed"/></linearGradient><linearGradient id="r57"><stop offset="0.000" stop-color="#2a2a2a"/><stop offset="0.149" stop-color="#474747"/><stop offset="0.166" stop-color="#4c4c4c"/><stop offset="0.179" stop-color="#616161"/><stop offset="0.333" stop-color="#6b6b6b"/><stop offset="0.358" stop-color="#808080"/><stop offset="0.392" stop-color="#8c8c8c"/><stop offset="0.416" stop-color="#9e9e9e"/><stop offset="0.435" stop-color="#a6a6a6"/><stop offset="0.449" stop-color="#adadad"/><stop offset="0.460" stop-color="#b8b8b8"/><stop offset="0.541" stop-color="#c2c2c2"/><stop offset="0.558" stop-color="#d6d6d6"/><stop offset="0.742" stop-color="#dbdbdb"/><stop offset="1.000" stop-color="#ededed"/></linearGradient><linearGradient id="r58"><stop offset="0.000" stop-color="#2f2f2f"/><stop offset="0.165" stop-color="#4c4c4c"/><stop offset="0.179" stop-color="#616161"/><stop offset="0.343" stop-color="#6b6b6b"/><stop offset="0.364" stop-color="#808080"/><stop offset="0.420" stop-color="#9e9e9e"/><stop offset="0.452" stop-color="#adadad"/><stop offset="0.465" stop-color="#b8b8b8"/><stop offset="0.541" stop-color="#c2c2c2"/><stop offset="0.558" stop-color="#d6d6d6"/><stop offset="0.742" stop-color="#dbdbdb"/><stop offset="1.000" stop-color="#ededed"/></linearGradient><linearGradient id="r59"><stop offset="0.000" stop-color="#333333"/><stop offset="0.117" stop-color="#474747"/><stop offset="0.164" stop-color="#4c4c4c"/><stop offset="0.179" stop-color="#616161"/><stop offset="0.352" stop-color="#6b6b6b"/><stop offset="0.382" stop-color="#8c8c8c"/><stop offset="0.424" stop-color="#9e9e9e"/><stop offset="0.455" stop-color="#adadad"/><stop offset="0.470" stop-color="#b8b8b8"/><stop offset="0.541" stop-color="#c2c2c2"/><stop offset="0.558" stop-color="#d6d6d6"/><stop offset="0.742" stop-color="#dbdbdb"/><stop offset="1.000" stop-color="#ededed"/></linearGradient><linearGradient id="r60"><stop offset="0.000" stop-color="#333333"/><stop offset="0.117" stop-color="#474747"/><stop offset="0.164" stop-color="#4c4c4c"/><stop offset="0.179" stop-color="#616161"/><stop offset="0.357" stop-color="#6b6b6b"/><stop offset="0.387" stop-color="#8c8c8c"/><stop offset="0.429" stop-color="#9e9e9e"/><stop offset="0.454" stop-color="#adadad"/><stop offset="0.481" stop-color="#b8b8b8"/><stop offset="0.546" stop-color="#c2c2c2"/><stop offset="0.563" stop-color="#d6d6d6"/><stop offset="0.727" stop-color="#dbdbdb"/><stop offset="1.000" stop-color="#eeeeee"/></linearGradient><linearGradient id="r61"><stop offset="0.000" stop-color="#333333"/><stop offset="0.117" stop-color="#474747"/><stop offset="0.164" stop-color="#4c4c4c"/><stop offset="0.179" stop-color="#616161"/><stop offset="0.362" stop-color="#6b6b6b"/><stop offset="0.392" stop-color="#8c8c8c"/><stop offset="0.434" stop-color="#9e9e9e"/><stop offset="0.453" stop-color="#adadad"/><stop offset="0.493" stop-color="#b8b8b8"/><stop offset="0.552" stop-color="#c2c2c2"/><stop offset="0.568" stop-color="#d6d6d6"/><stop offset="0.712" stop-color="#dbdbdb"/><stop offset="1.000" stop-color="#efefef"/></linearGradient><linearGradient id="r62"><stop offset="0.000" stop-color="#333333"/><stop offset="0.117" stop-color="#474747"/><stop offset="0.164" stop-color="#4c4c4c"/><stop offset="0.179" stop-color="#616161"/><stop offset="0.367" stop-color="#6b6b6b"/><stop offset="0.396" stop-color="#8c8c8c"/><stop offset="0.439" stop-color="#9e9e9e"/><stop offset="0.451" stop-color="#adadad"/><stop offset="0.557" stop-color="#c2c2c2"/><stop offset="0.573" stop-color="#d6d6d6"/><stop offset="0.698" stop-color="#dbdbdb"/><stop offset="1.000" stop-color="#f0f0f0"/></linearGradient><linearGradient id="r63"><stop offset="0.000" stop-color="#333333"/><stop offset="0.117" stop-color="#474747"/><stop offset="0.179" stop-color="#4c4c4c"/><stop offset="0.194" stop-color="#616161"/><stop offset="0.382" stop-color="#6b6b6b"/><stop offset="0.404" stop-color="#8c8c8c"/><stop offset="0.431" stop-color="#9e9e9e"/><stop offset="0.445" stop-color="#adadad"/><stop offset="0.501" stop-color="#b8b8b8"/><stop offset="0.543" stop-color="#c2c2c2"/><stop offset="0.558" stop-color="#d6d6d6"/><stop offset="0.676" stop-color="#dbdbdb"/><stop offset="1.000" stop-color="#f2f2f2"/></linearGradient><linearGradient id="r64"><stop offset="0.000" stop-color="#333333"/><stop offset="0.117" stop-color="#474747"/><stop offset="0.194" stop-color="#4c4c4c"/><stop offset="0.209" stop-color="#616161"/><stop offset="0.396" stop-color="#6b6b6b"/><stop offset="0.416" stop-color="#949494"/><stop offset="0.424" stop-color="#9e9e9e"/><stop offset="0.439" stop-color="#adadad"/><stop offset="0.497" stop-color="#b8b8b8"/><stop offset="0.529" stop-color="#c2c2c2"/><stop offset="0.543" stop-color="#d6d6d6"/><stop offset="0.655" stop-color="#dbdbdb"/><stop offset="1.000" stop-color="#f3f3f3"/></linearGradient><linearGradient id="r65"><stop offset="0.000" stop-color="#333333"/><stop offset="0.117" stop-color="#474747"/><stop offset="0.203" stop-color="#4c4c4c"/><stop offset="0.218" stop-color="#616161"/><stop offset="0.401" stop-color="#6b6b6b"/><stop offset="0.423" stop-color="#949494"/><stop offset="0.431" stop-color="#9e9e9e"/><stop offset="0.438" stop-color="#a6a6a6"/><stop offset="0.454" stop-color="#adadad"/><stop offset="0.511" stop-color="#b8b8b8"/><stop offset="0.536" stop-color="#c2c2c2"/><stop offset="0.544" stop-color="#cccccc"/><stop offset="0.607" stop-color="#d6d6d6"/><stop offset="0.706" stop-color="#dbdbdb"/><stop offset="1.000" stop-color="#f0f0f0"/></linearGradient><linearGradient id="r66"><stop offset="0.000" stop-color="#333333"/><stop offset="0.117" stop-color="#474747"/><stop offset="0.212" stop-color="#4c4c4c"/><stop offset="0.227" stop-color="#616161"/><stop offset="0.405" stop-color="#6b6b6b"/><stop offset="0.429" stop-color="#949494"/><stop offset="0.438" stop-color="#9e9e9e"/><stop offset="0.445" stop-color="#a6a6a6"/><stop offset="0.468" stop-color="#adadad"/><stop offset="0.525" stop-color="#b8b8b8"/><stop offset="0.542" stop-color="#c2c2c2"/><stop offset="0.551" stop-color="#cccccc"/><stop offset="0.672" stop-color="#d6d6d6"/><stop offset="1.000" stop-color="#ececec"/></linearGradient><linearGradient id="r67"><stop offset="0.000" stop-color="#333333"/><stop offset="0.117" stop-color="#474747"/><stop offset="0.222" stop-color="#4c4c4c"/><stop offset="0.236" stop-color="#616161"/><stop offset="0.410" stop-color="#6b6b6b"/><stop offset="0.436" stop-color="#949494"/><stop offset="0.444" stop-color="#9e9e9e"/><stop offset="0.453" stop-color="#a6a6a6"/><stop offset="0.483" stop-color="#adadad"/><stop offset="0.539" stop-color="#b8b8b8"/><stop offset="0.558" stop-color="#cccccc"/><stop offset="0.736" stop-color="#d6d6d6"/><stop offset="1.000" stop-color="#e9e9e9"/></linearGradient><linearGradient id="r68"><stop offset="0.000" stop-color="#333333"/><stop offset="0.117" stop-color="#474747"/><stop offset="0.232" stop-color="#4c4c4c"/><stop offset="0.246" stop-color="#616161"/><stop offset="0.415" stop-color="#6b6b6b"/><stop offset="0.442" stop-color="#949494"/><stop offset="0.457" stop-color="#9e9e9e"/><stop offset="0.464" stop-color="#a6a6a6"/><stop offset="0.487" stop-color="#adadad"/><stop offset="0.540" stop-color="#b8b8b8"/><stop offset="0.562" stop-color="#c2c2c2"/><stop offset="0.571" stop-color="#cccccc"/><stop offset="1.000" stop-color="#eaeaea"/></linearGradient><linearGradient id="r69"><stop offset="0.000" stop-color="#333333"/><stop offset="0.117" stop-color="#474747"/><stop offset="0.241" stop-color="#4c4c4c"/><stop offset="0.255" stop-color="#616161"/><stop offset="0.419" stop-color="#6b6b6b"/><stop offset="0.448" stop-color="#949494"/><stop offset="0.469" stop-color="#9e9e9e"/><stop offset="0.476" stop-color="#a6a6a6"/><stop offset="0.491" stop-color="#adadad"/><stop offset="0.540" stop-color="#b8b8b8"/><stop offset="0.575" stop-color="#c2c2c2"/><stop offset="0.584" stop-color="#cccccc"/><stop offset="0.700" stop-color="#d6d6d6"/><stop offset="1.000" stop-color="#ebebeb"/></linearGradient><linearGradient id="r70"><stop offset="0.000" stop-color="#333333"/><stop offset="0.117" stop-color="#474747"/><stop offset="0.251" stop-color="#4c4c4c"/><stop offset="0.264" stop-color="#616161"/><stop offset="0.424" stop-color="#6b6b6b"/><stop offset="0.454" stop-color="#949494"/><stop offset="0.482" stop-color="#9e9e9e"/><stop offset="0.495" stop-color="#adadad"/><stop offset="0.588" stop-color="#c2c2c2"/><stop offset="0.597" stop-color="#cccccc"/><stop offset="0.683" stop-color="#d6d6d6"/><stop offset="1.000" stop-color="#ececec"/></linearGradient><linearGradient id="r71"><stop offset="0.000" stop-color="#2b2b2b"/><stop offset="0.170" stop-color="#474747"/><stop offset="0.239" stop-color="#4c4c4c"/><stop offset="0.258" stop-color="#616161"/><stop offset="0.432" stop-color="#6b6b6b"/><stop offset="0.458" stop-color="#8c8c8c"/><stop offset="0.470" stop-color="#949494"/><stop offset="0.496" stop-color="#9e9e9e"/><stop offset="0.513" stop-color="#adadad"/><stop offset="0.594" stop-color="#c2c2c2"/><stop offset="0.602" stop-color="#cccccc"/><stop offset="0.669" stop-color="#d6d6d6"/><stop offset="1.000" stop-color="#ededed"/></linearGradient><linearGradient id="r72"><stop offset="0.000" stop-color="#242424"/><stop offset="0.103" stop-color="#363636"/><stop offset="0.222" stop-color="#474747"/><stop offset="0.251" stop-color="#616161"/><stop offset="0.439" stop-color="#6b6b6b"/><stop offset="0.467" stop-color="#8c8c8c"/><stop offset="0.511" stop-color="#9e9e9e"/><stop offset="0.532" stop-color="#adadad"/><stop offset="0.601" stop-color="#c2c2c2"/><stop offset="0.606" stop-color="#cccccc"/><stop offset="0.654" stop-color="#d6d6d6"/><stop offset="1.000" stop-color="#eeeeee"/></linearGradient><linearGradient id="r73"><stop offset="0.000" stop-color="#222222"/><stop offset="0.083" stop-color="#303030"/><stop offset="0.152" stop-color="#363636"/><stop offset="0.246" stop-color="#474747"/><stop offset="0.259" stop-color="#4c4c4c"/><stop offset="0.280" stop-color="#616161"/><stop offset="0.448" stop-color="#6b6b6b"/><stop offset="0.477" stop-color="#8c8c8c"/><stop offset="0.520" stop-color="#9e9e9e"/><stop offset="0.539" stop-color="#adadad"/><stop offset="0.601" stop-color="#c2c2c2"/><stop offset="0.606" stop-color="#cccccc"/><stop offset="0.654" stop-color="#d6d6d6"/><stop offset="1.000" stop-color="#eeeeee"/></linearGradient><linearGradient id="r74"><stop offset="0.000" stop-color="#202020"/><stop offset="0.093" stop-color="#303030"/><stop offset="0.202" stop-color="#363636"/><stop offset="0.223" stop-color="#3d3d3d"/><stop offset="0.291" stop-color="#4c4c4c"/><stop offset="0.309" stop-color="#616161"/><stop offset="0.458" stop-color="#6b6b6b"/><stop offset="0.487" stop-color="#8c8c8c"/><stop offset="0.530" stop-color="#9e9e9e"/><stop offset="0.546" stop-color="#adadad"/><stop offset="0.601" stop-color="#c2c2c2"/><stop offset="0.606" stop-color="#cccccc"/><stop offset="0.654" stop-color="#d6d6d6"/><stop offset="1.000" stop-color="#eeeeee"/></linearGradient><linearGradient id="r75"><stop offset="0.000" stop-color="#1f1f1f"/><stop offset="0.103" stop-color="#303030"/><stop offset="0.251" stop-color="#363636"/><stop offset="0.259" stop-color="#3d3d3d"/><stop offset="0.294" stop-color="#474747"/><stop offset="0.323" stop-color="#4c4c4c"/><stop offset="0.338" stop-color="#616161"/><stop offset="0.467" stop-color="#6b6b6b"/><stop offset="0.496" stop-color="#8c8c8c"/><stop offset="0.539" stop-color="#9e9e9e"/><stop offset="0.553" stop-color="#adadad"/><stop offset="0.601" stop-color="#c2c2c2"/><stop offset="0.606" stop-color="#cccccc"/><stop offset="0.654" stop-color="#d6d6d6"/><stop offset="1.000" stop-color="#eeeeee"/></linearGradient><linearGradient id="r76"><stop offset="0.000" stop-color="#1d1d1d"/><stop offset="0.083" stop-color="#2b2b2b"/><stop offset="0.262" stop-color="#363636"/><stop offset="0.269" stop-color="#3d3d3d"/><stop offset="0.303" stop-color="#474747"/><stop offset="0.333" stop-color="#4c4c4c"/><stop offset="0.348" stop-color="#616161"/><stop offset="0.463" stop-color="#6b6b6b"/><stop offset="0.490" stop-color="#8c8c8c"/><stop offset="0.504" stop-color="#949494"/><stop offset="0.539" stop-color="#9e9e9e"/><stop offset="0.553" stop-color="#adadad"/><stop offset="0.601" stop-color="#c2c2c2"/><stop offset="0.606" stop-color="#cccccc"/><stop offset="0.657" stop-color="#d6d6d6"/><stop offset="1.000" stop-color="#ededed"/></linearGradient><linearGradient id="r77"><stop offset="0.000" stop-color="#1b1b1b"/><stop offset="0.093" stop-color="#2b2b2b"/><stop offset="0.220" stop-color="#303030"/><stop offset="0.272" stop-color="#363636"/><stop offset="0.279" stop-color="#3d3d3d"/><stop offset="0.313" stop-color="#474747"/><stop offset="0.343" stop-color="#4c4c4c"/><stop offset="0.357" stop-color="#616161"/><stop offset="0.458" stop-color="#6b6b6b"/><stop offset="0.483" stop-color="#8c8c8c"/><stop offset="0.493" stop-color="#949494"/><stop offset="0.539" stop-color="#9e9e9e"/><stop offset="0.553" stop-color="#adadad"/><stop offset="0.601" stop-color="#c2c2c2"/><stop offset="0.606" stop-color="#cccccc"/><stop offset="0.659" stop-color="#d6d6d6"/><stop offset="1.000" stop-color="#ededed"/></linearGradient><linearGradient id="r78"><stop offset="0.000" stop-color="#191919"/><stop offset="0.103" stop-color="#2b2b2b"/><stop offset="0.279" stop-color="#303030"/><stop offset="0.289" stop-color="#3d3d3d"/><stop offset="0.323" stop-color="#474747"/><stop offset="0.352" stop-color="#4c4c4c"/><stop offset="0.367" stop-color="#616161"/><stop offset="0.454" stop-color="#6b6b6b"/><stop offset="0.482" stop-color="#949494"/><stop offset="0.539" stop-color="#9e9e9e"/><stop offset="0.553" stop-color="#adadad"/><stop offset="0.601" stop-color="#c2c2c2"/><stop offset="0.606" stop-color="#cccccc"/><stop offset="0.662" stop-color="#d6d6d6"/><stop offset="1.000" stop-color="#ededed"/></linearGradient><linearGradient id="r79"><stop offset="0.000" stop-color="#161616"/><stop offset="0.095" stop-color="#262626"/><stop offset="0.169" stop-color="#2b2b2b"/><stop offset="0.287" stop-color="#303030"/><stop offset="0.297" stop-color="#3d3d3d"/><stop offset="0.330" stop-color="#474747"/><stop offset="0.360" stop-color="#4c4c4c"/><stop offset="0.374" stop-color="#616161"/><stop offset="0.454" stop-color="#6b6b6b"/><stop offset="0.482" stop-color="#949494"/><stop offset="0.532" stop-color="#9e9e9e"/><stop offset="0.546" stop-color="#adadad"/><stop offset="0.593" stop-color="#c2c2c2"/><stop offset="0.600" stop-color="#cccccc"/><stop offset="0.662" stop-color="#d6d6d6"/><stop offset="0.756" stop-color="#dbdbdb"/><stop offset="1.000" stop-color="#ececec"/></linearGradient><linearGradient id="r80"><stop offset="0.000" stop-color="#121212"/><stop offset="0.117" stop-color="#262626"/><stop offset="0.235" stop-color="#2b2b2b"/><stop offset="0.296" stop-color="#303030"/><stop offset="0.305" stop-color="#3d3d3d"/><stop offset="0.338" stop-color="#474747"/><stop offset="0.367" stop-color="#4c4c4c"/><stop offset="0.380" stop-color="#616161"/><stop offset="0.454" stop-color="#6b6b6b"/><stop offset="0.482" stop-color="#949494"/><stop offset="0.526" stop-color="#9e9e9e"/><stop offset="0.539" stop-color="#adadad"/><stop offset="0.586" stop-color="#c2c2c2"/><stop offset="0.593" stop-color="#cccccc"/><stop offset="0.662" stop-color="#d6d6d6"/><stop offset="0.764" stop-color="#dbdbdb"/><stop offset="1.000" stop-color="#ececec"/></linearGradient><linearGradient id="r81"><stop offset="0.000" stop-color="#0f0f0f"/><stop offset="0.088" stop-color="#1f1f1f"/><stop offset="0.172" stop-color="#262626"/><stop offset="0.251" stop-color="#2b2b2b"/><stop offset="0.293" stop-color="#303030"/><stop offset="0.297" stop-color="#363636"/><stop offset="0.308" stop-color="#3d3d3d"/><stop offset="0.363" stop-color="#4c4c4c"/><stop offset="0.376" stop-color="#616161"/><stop offset="0.449" stop-color="#6b6b6b"/><stop offset="0.477" stop-color="#949494"/><stop offset="0.521" stop-color="#9e9e9e"/><stop offset="0.534" stop-color="#adadad"/><stop offset="0.587" stop-color="#c2c2c2"/><stop offset="0.625" stop-color="#cccccc"/><stop offset="0.740" stop-color="#d6d6d6"/><stop offset="1.000" stop-color="#e7e7e7"/></linearGradient><linearGradient id="r82"><stop offset="0.000" stop-color="#0d0d0d"/><stop offset="0.103" stop-color="#1f1f1f"/><stop offset="0.162" stop-color="#212121"/><stop offset="0.226" stop-color="#262626"/><stop offset="0.268" stop-color="#2b2b2b"/><stop offset="0.291" stop-color="#303030"/><stop offset="0.294" stop-color="#363636"/><stop offset="0.310" stop-color="#3d3d3d"/><stop offset="0.348" stop-color="#474747"/><stop offset="0.359" stop-color="#4c4c4c"/><stop offset="0.372" stop-color="#616161"/><stop offset="0.444" stop-color="#6b6b6b"/><stop offset="0.472" stop-color="#949494"/><stop offset="0.516" stop-color="#9e9e9e"/><stop offset="0.529" stop-color="#adadad"/><stop offset="0.588" stop-color="#c2c2c2"/><stop offset="0.658" stop-color="#cccccc"/><stop offset="1.000" stop-color="#e2e2e2"/></linearGradient><linearGradient id="r83"><stop offset="0.000" stop-color="#0a0a0a"/><stop offset="0.117" stop-color="#1f1f1f"/><stop offset="0.198" stop-color="#212121"/><stop offset="0.281" stop-color="#262626"/><stop offset="0.292" stop-color="#363636"/><stop offset="0.313" stop-color="#3d3d3d"/><stop offset="0.352" stop-color="#474747"/><stop offset="0.367" stop-color="#616161"/><stop offset="0.439" stop-color="#6b6b6b"/><stop offset="0.467" stop-color="#949494"/><stop offset="0.511" stop-color="#9e9e9e"/><stop offset="0.524" stop-color="#adadad"/><stop offset="0.589" stop-color="#c2c2c2"/><stop offset="0.691" stop-color="#cccccc"/><stop offset="0.894" stop-color="#d6d6d6"/><stop offset="1.000" stop-color="#dedede"/></linearGradient><linearGradient id="r84"><stop offset="0.000" stop-color="#0a0a0a"/><stop offset="0.117" stop-color="#1f1f1f"/><stop offset="0.216" stop-color="#212121"/><stop offset="0.272" stop-color="#262626"/><stop offset="0.280" stop-color="#303030"/><stop offset="0.346" stop-color="#474747"/><stop offset="0.349" stop-color="#4c4c4c"/><stop offset="0.356" stop-color="#545454"/><stop offset="0.377" stop-color="#616161"/><stop offset="0.427" stop-color="#6b6b6b"/><stop offset="0.433" stop-color="#737373"/><stop offset="0.453" stop-color="#808080"/><stop offset="0.466" stop-color="#949494"/><stop offset="0.506" stop-color="#9e9e9e"/><stop offset="0.519" stop-color="#adadad"/><stop offset="0.584" stop-color="#c2c2c2"/><stop offset="0.691" stop-color="#cccccc"/><stop offset="0.899" stop-color="#d6d6d6"/><stop offset="1.000" stop-color="#dddddd"/></linearGradient><linearGradient id="r85"><stop offset="0.000" stop-color="#0a0a0a"/><stop offset="0.117" stop-color="#1f1f1f"/><stop offset="0.233" stop-color="#212121"/><stop offset="0.264" stop-color="#262626"/><stop offset="0.271" stop-color="#303030"/><stop offset="0.322" stop-color="#3d3d3d"/><stop offset="0.339" stop-color="#474747"/><stop offset="0.342" stop-color="#4c4c4c"/><stop offset="0.352" stop-color="#545454"/><stop offset="0.416" stop-color="#6b6b6b"/><stop offset="0.421" stop-color="#737373"/><stop offset="0.453" stop-color="#808080"/><stop offset="0.465" stop-color="#949494"/><stop offset="0.501" stop-color="#9e9e9e"/><stop offset="0.514" stop-color="#adadad"/><stop offset="0.579" stop-color="#c2c2c2"/><stop offset="0.691" stop-color="#cccccc"/><stop offset="0.904" stop-color="#d6d6d6"/><stop offset="1.000" stop-color="#dddddd"/></linearGradient><linearGradient id="r86"><stop offset="0.000" stop-color="#0a0a0a"/><stop offset="0.117" stop-color="#1f1f1f"/><stop offset="0.251" stop-color="#212121"/><stop offset="0.262" stop-color="#303030"/><stop offset="0.294" stop-color="#363636"/><stop offset="0.326" stop-color="#3d3d3d"/><stop offset="0.335" stop-color="#4c4c4c"/><stop offset="0.348" stop-color="#545454"/><stop offset="0.396" stop-color="#616161"/><stop offset="0.410" stop-color="#737373"/><stop offset="0.454" stop-color="#808080"/><stop offset="0.464" stop-color="#949494"/><stop offset="0.496" stop-color="#9e9e9e"/><stop offset="0.510" stop-color="#adadad"/><stop offset="0.574" stop-color="#c2c2c2"/><stop offset="0.691" stop-color="#cccccc"/><stop offset="0.909" stop-color="#d6d6d6"/><stop offset="1.000" stop-color="#dddddd"/></linearGradient><linearGradient id="r87"><stop offset="0.000" stop-color="#0a0a0a"/><stop offset="0.117" stop-color="#1f1f1f"/><stop offset="0.251" stop-color="#212121"/><stop offset="0.262" stop-color="#303030"/><stop offset="0.319" stop-color="#3d3d3d"/><stop offset="0.329" stop-color="#474747"/><stop offset="0.332" stop-color="#4c4c4c"/><stop offset="0.340" stop-color="#545454"/><stop offset="0.367" stop-color="#616161"/><stop offset="0.407" stop-color="#6b6b6b"/><stop offset="0.411" stop-color="#737373"/><stop offset="0.436" stop-color="#808080"/><stop offset="0.442" stop-color="#8c8c8c"/><stop offset="0.479" stop-color="#9e9e9e"/><stop offset="0.492" stop-color="#a6a6a6"/><stop offset="0.533" stop-color="#b8b8b8"/><stop offset="0.579" stop-color="#c2c2c2"/><stop offset="0.698" stop-color="#cccccc"/><stop offset="0.916" stop-color="#d6d6d6"/><stop offset="1.000" stop-color="#dcdcdc"/></linearGradient><linearGradient id="r88"><stop offset="0.000" stop-color="#0a0a0a"/><stop offset="0.117" stop-color="#1f1f1f"/><stop offset="0.251" stop-color="#212121"/><stop offset="0.262" stop-color="#303030"/><stop offset="0.276" stop-color="#363636"/><stop offset="0.311" stop-color="#3d3d3d"/><stop offset="0.326" stop-color="#474747"/><stop offset="0.338" stop-color="#616161"/><stop offset="0.410" stop-color="#6b6b6b"/><stop offset="0.424" stop-color="#8c8c8c"/><stop offset="0.454" stop-color="#949494"/><stop offset="0.463" stop-color="#9e9e9e"/><stop offset="0.482" stop-color="#a6a6a6"/><stop offset="0.514" stop-color="#adadad"/><stop offset="0.526" stop-color="#b8b8b8"/><stop offset="0.583" stop-color="#c2c2c2"/><stop offset="0.706" stop-color="#cccccc"/><stop offset="0.924" stop-color="#d6d6d6"/><stop offset="1.000" stop-color="#dcdcdc"/></linearGradient><linearGradient id="r89"><stop offset="0.000" stop-color="#0a0a0a"/><stop offset="0.117" stop-color="#1f1f1f"/><stop offset="0.255" stop-color="#212121"/><stop offset="0.266" stop-color="#303030"/><stop offset="0.280" stop-color="#363636"/><stop offset="0.314" stop-color="#3d3d3d"/><stop offset="0.327" stop-color="#474747"/><stop offset="0.338" stop-color="#616161"/><stop offset="0.400" stop-color="#6b6b6b"/><stop offset="0.409" stop-color="#737373"/><stop offset="0.421" stop-color="#8c8c8c"/><stop offset="0.447" stop-color="#949494"/><stop offset="0.460" stop-color="#9e9e9e"/><stop offset="0.476" stop-color="#a6a6a6"/><stop offset="0.502" stop-color="#adadad"/><stop offset="0.526" stop-color="#b8b8b8"/><stop offset="0.572" stop-color="#c2c2c2"/><stop offset="0.712" stop-color="#cccccc"/><stop offset="0.926" stop-color="#d6d6d6"/><stop offset="1.000" stop-color="#dbdbdb"/></linearGradient><linearGradient id="r90"><stop offset="0.000" stop-color="#0a0a0a"/><stop offset="0.117" stop-color="#1f1f1f"/><stop offset="0.258" stop-color="#212121"/><stop offset="0.270" stop-color="#303030"/><stop offset="0.283" stop-color="#363636"/><stop offset="0.317" stop-color="#3d3d3d"/><stop offset="0.327" stop-color="#474747"/><stop offset="0.338" stop-color="#616161"/><stop offset="0.390" stop-color="#6b6b6b"/><stop offset="0.405" stop-color="#737373"/><stop offset="0.417" stop-color="#8c8c8c"/><stop offset="0.441" stop-color="#949494"/><stop offset="0.471" stop-color="#a6a6a6"/><stop offset="0.490" stop-color="#adadad"/><stop offset="0.560" stop-color="#c2c2c2"/><stop offset="0.717" stop-color="#cccccc"/><stop offset="0.928" stop-color="#d6d6d6"/><stop offset="1.000" stop-color="#dbdbdb"/></linearGradient><linearGradient id="r91"><stop offset="0.000" stop-color="#0a0a0a"/><stop offset="0.117" stop-color="#1f1f1f"/><stop offset="0.262" stop-color="#212121"/><stop offset="0.273" stop-color="#303030"/><stop offset="0.287" stop-color="#363636"/><stop offset="0.320" stop-color="#3d3d3d"/><stop offset="0.327" stop-color="#474747"/><stop offset="0.338" stop-color="#616161"/><stop offset="0.381" stop-color="#6b6b6b"/><stop offset="0.401" stop-color="#737373"/><stop offset="0.413" stop-color="#8c8c8c"/><stop offset="0.435" stop-color="#949494"/><stop offset="0.456" stop-color="#9e9e9e"/><stop offset="0.466" stop-color="#a6a6a6"/><stop offset="0.479" stop-color="#adadad"/><stop offset="0.526" stop-color="#b8b8b8"/><stop offset="0.549" stop-color="#c2c2c2"/><stop offset="0.930" stop-color="#d6d6d6"/><stop offset="1.000" stop-color="#dbdbdb"/></linearGradient><linearGradient id="r92"><stop offset="0.000" stop-color="#0a0a0a"/><stop offset="0.117" stop-color="#1f1f1f"/><stop offset="0.266" stop-color="#212121"/><stop offset="0.277" stop-color="#303030"/><stop offset="0.290" stop-color="#363636"/><stop offset="0.323" stop-color="#3d3d3d"/><stop offset="0.338" stop-color="#616161"/><stop offset="0.396" stop-color="#737373"/><stop offset="0.410" stop-color="#8c8c8c"/><stop offset="0.454" stop-color="#9e9e9e"/><stop offset="0.467" stop-color="#adadad"/><stop offset="0.526" stop-color="#b8b8b8"/><stop offset="0.537" stop-color="#c2c2c2"/><stop offset="0.932" stop-color="#d6d6d6"/><stop offset="1.000" stop-color="#dbdbdb"/></linearGradient><linearGradient id="r93"><stop offset="0.000" stop-color="#0a0a0a"/><stop offset="0.117" stop-color="#1f1f1f"/><stop offset="0.269" stop-color="#212121"/><stop offset="0.281" stop-color="#303030"/><stop offset="0.293" stop-color="#363636"/><stop offset="0.325" stop-color="#3d3d3d"/><stop offset="0.340" stop-color="#616161"/><stop offset="0.398" stop-color="#737373"/><stop offset="0.412" stop-color="#8c8c8c"/><stop offset="0.454" stop-color="#9e9e9e"/><stop offset="0.468" stop-color="#adadad"/><stop offset="0.526" stop-color="#b8b8b8"/><stop offset="0.538" stop-color="#c2c2c2"/><stop offset="0.936" stop-color="#d6d6d6"/><stop offset="1.000" stop-color="#dbdbdb"/></linearGradient><linearGradient id="r94"><stop offset="0.000" stop-color="#0a0a0a"/><stop offset="0.117" stop-color="#1f1f1f"/><stop offset="0.272" stop-color="#212121"/><stop offset="0.284" stop-color="#303030"/><stop offset="0.296" stop-color="#363636"/><stop offset="0.327" stop-color="#3d3d3d"/><stop offset="0.341" stop-color="#616161"/><stop offset="0.400" stop-color="#737373"/><stop offset="0.413" stop-color="#8c8c8c"/><stop offset="0.454" stop-color="#9e9e9e"/><stop offset="0.468" stop-color="#adadad"/><stop offset="0.527" stop-color="#b8b8b8"/><stop offset="0.538" stop-color="#c2c2c2"/><stop offset="0.940" stop-color="#d6d6d6"/><stop offset="1.000" stop-color="#dadada"/></linearGradient><linearGradient id="r95"><stop offset="0.000" stop-color="#0a0a0a"/><stop offset="0.117" stop-color="#1f1f1f"/><stop offset="0.276" stop-color="#212121"/><stop offset="0.288" stop-color="#303030"/><stop offset="0.300" stop-color="#363636"/><stop offset="0.329" stop-color="#3d3d3d"/><stop offset="0.343" stop-color="#616161"/><stop offset="0.402" stop-color="#737373"/><stop offset="0.415" stop-color="#8c8c8c"/><stop offset="0.455" stop-color="#9e9e9e"/><stop offset="0.469" stop-color="#adadad"/><stop offset="0.528" stop-color="#b8b8b8"/><stop offset="0.538" stop-color="#c2c2c2"/><stop offset="0.943" stop-color="#d6d6d6"/><stop offset="1.000" stop-color="#dadada"/></linearGradient><linearGradient id="r96"><stop offset="0.000" stop-color="#0a0a0a"/><stop offset="0.117" stop-color="#1f1f1f"/><stop offset="0.279" stop-color="#212121"/><stop offset="0.292" stop-color="#303030"/><stop offset="0.303" stop-color="#363636"/><stop offset="0.330" stop-color="#3d3d3d"/><stop offset="0.345" stop-color="#616161"/><stop offset="0.404" stop-color="#737373"/><stop offset="0.417" stop-color="#8c8c8c"/><stop offset="0.455" stop-color="#9e9e9e"/><stop offset="0.470" stop-color="#adadad"/><stop offset="0.529" stop-color="#b8b8b8"/><stop offset="0.538" stop-color="#c2c2c2"/><stop offset="0.947" stop-color="#d6d6d6"/><stop offset="1.000" stop-color="#dadada"/></linearGradient><g id="hf" shape-rendering="crispEdges"><rect x="-8" y="-0.5" width="68.1" height="3.2" fill="url(#r0)"/><rect x="-8" y="1.5" width="68.1" height="3.2" fill="url(#r1)"/><rect x="-8" y="3.5" width="68.1" height="3.2" fill="url(#r2)"/><rect x="-8" y="5.5" width="68.1" height="3.2" fill="url(#r3)"/><rect x="-8" y="7.5" width="68.1" height="3.2" fill="url(#r4)"/><rect x="-8" y="9.5" width="68.1" height="3.2" fill="url(#r5)"/><rect x="-8" y="11.5" width="68.1" height="3.2" fill="url(#r6)"/><rect x="-8" y="13.5" width="68.1" height="3.2" fill="url(#r7)"/><rect x="-8" y="15.5" width="68.1" height="3.2" fill="url(#r8)"/><rect x="-8" y="17.5" width="68.1" height="3.2" fill="url(#r9)"/><rect x="-8" y="19.5" width="68.1" height="3.2" fill="url(#r10)"/><rect x="-8" y="21.5" width="68.1" height="3.2" fill="url(#r11)"/><rect x="-8" y="23.5" width="68.1" height="3.2" fill="url(#r12)"/><rect x="-8" y="25.5" width="68.1" height="3.2" fill="url(#r13)"/><rect x="-8" y="27.5" width="68.1" height="3.2" fill="url(#r14)"/><rect x="-8" y="29.5" width="68.1" height="3.2" fill="url(#r15)"/><rect x="-8" y="31.5" width="68.1" height="3.2" fill="url(#r16)"/><rect x="-8" y="33.5" width="68.1" height="3.2" fill="url(#r17)"/><rect x="-8" y="35.5" width="68.1" height="3.2" fill="url(#r18)"/><rect x="-8" y="37.5" width="68.1" height="3.2" fill="url(#r19)"/><rect x="-8" y="39.5" width="68.1" height="3.2" fill="url(#r20)"/><rect x="-8" y="41.5" width="68.1" height="3.2" fill="url(#r21)"/><rect x="-8" y="43.5" width="68.1" height="3.2" fill="url(#r22)"/><rect x="-8" y="45.5" width="68.1" height="3.2" fill="url(#r23)"/><rect x="-8" y="47.5" width="68.1" height="3.2" fill="url(#r24)"/><rect x="-8" y="49.5" width="68.1" height="3.2" fill="url(#r25)"/><rect x="-8" y="51.5" width="68.1" height="3.2" fill="url(#r26)"/><rect x="-8" y="53.5" width="68.1" height="3.2" fill="url(#r27)"/><rect x="-8" y="55.5" width="68.1" height="3.2" fill="url(#r28)"/><rect x="-8" y="57.5" width="68.1" height="3.2" fill="url(#r29)"/><rect x="-8" y="59.5" width="68.1" height="3.2" fill="url(#r30)"/><rect x="-8" y="61.5" width="68.1" height="3.2" fill="url(#r31)"/><rect x="-8" y="63.5" width="68.1" height="3.2" fill="url(#r32)"/><rect x="-8" y="65.5" width="68.1" height="3.2" fill="url(#r33)"/><rect x="-8" y="67.5" width="68.1" height="3.2" fill="url(#r34)"/><rect x="-8" y="69.5" width="68.1" height="3.2" fill="url(#r35)"/><rect x="-8" y="71.5" width="68.1" height="3.2" fill="url(#r36)"/><rect x="-8" y="73.5" width="68.1" height="3.2" fill="url(#r37)"/><rect x="-8" y="75.5" width="68.1" height="3.2" fill="url(#r38)"/><rect x="-8" y="77.5" width="68.1" height="3.2" fill="url(#r39)"/><rect x="-8" y="79.5" width="68.1" height="3.2" fill="url(#r40)"/><rect x="-8" y="81.5" width="68.1" height="3.2" fill="url(#r41)"/><rect x="-8" y="83.5" width="68.1" height="3.2" fill="url(#r42)"/><rect x="-8" y="85.5" width="68.1" height="3.2" fill="url(#r43)"/><rect x="-8" y="87.5" width="68.1" height="3.2" fill="url(#r44)"/><rect x="-8" y="89.5" width="68.1" height="3.2" fill="url(#r45)"/><rect x="-8" y="91.5" width="68.1" height="3.2" fill="url(#r46)"/><rect x="-8" y="93.5" width="68.1" height="3.2" fill="url(#r47)"/><rect x="-8" y="95.5" width="68.1" height="3.2" fill="url(#r48)"/><rect x="-8" y="97.5" width="68.1" height="3.2" fill="url(#r49)"/><rect x="-8" y="99.5" width="68.1" height="3.2" fill="url(#r50)"/><rect x="-8" y="101.5" width="68.1" height="3.2" fill="url(#r51)"/><rect x="-8" y="103.5" width="68.1" height="3.2" fill="url(#r52)"/><rect x="-8" y="105.5" width="68.1" height="3.2" fill="url(#r53)"/><rect x="-8" y="107.5" width="68.1" height="3.2" fill="url(#r54)"/><rect x="-8" y="109.5" width="68.1" height="3.2" fill="url(#r55)"/><rect x="-8" y="111.5" width="68.1" height="3.2" fill="url(#r56)"/><rect x="-8" y="113.5" width="68.1" height="3.2" fill="url(#r57)"/><rect x="-8" y="115.5" width="68.1" height="3.2" fill="url(#r58)"/><rect x="-8" y="117.5" width="68.1" height="3.2" fill="url(#r59)"/><rect x="-8" y="119.5" width="68.1" height="3.2" fill="url(#r60)"/><rect x="-8" y="121.5" width="68.1" height="3.2" fill="url(#r61)"/><rect x="-8" y="123.5" width="68.1" height="3.2" fill="url(#r62)"/><rect x="-8" y="125.5" width="68.1" height="3.2" fill="url(#r63)"/><rect x="-8" y="127.5" width="68.1" height="3.2" fill="url(#r64)"/><rect x="-8" y="129.5" width="68.1" height="3.2" fill="url(#r65)"/><rect x="-8" y="131.5" width="68.1" height="3.2" fill="url(#r66)"/><rect x="-8" y="133.5" width="68.1" height="3.2" fill="url(#r67)"/><rect x="-8" y="135.5" width="68.1" height="3.2" fill="url(#r68)"/><rect x="-8" y="137.5" width="68.1" height="3.2" fill="url(#r69)"/><rect x="-8" y="139.5" width="68.1" height="3.2" fill="url(#r70)"/><rect x="-8" y="141.5" width="68.1" height="3.2" fill="url(#r71)"/><rect x="-8" y="143.5" width="68.1" height="3.2" fill="url(#r72)"/><rect x="-8" y="145.5" width="68.1" height="3.2" fill="url(#r73)"/><rect x="-8" y="147.5" width="68.1" height="3.2" fill="url(#r74)"/><rect x="-8" y="149.5" width="68.1" height="3.2" fill="url(#r75)"/><rect x="-8" y="151.5" width="68.1" height="3.2" fill="url(#r76)"/><rect x="-8" y="153.5" width="68.1" height="3.2" fill="url(#r77)"/><rect x="-8" y="155.5" width="68.1" height="3.2" fill="url(#r78)"/><rect x="-8" y="157.5" width="68.1" height="3.2" fill="url(#r79)"/><rect x="-8" y="159.5" width="68.1" height="3.2" fill="url(#r80)"/><rect x="-8" y="161.5" width="68.1" height="3.2" fill="url(#r81)"/><rect x="-8" y="163.5" width="68.1" height="3.2" fill="url(#r82)"/><rect x="-8" y="165.5" width="68.1" height="3.2" fill="url(#r83)"/><rect x="-8" y="167.5" width="68.1" height="3.2" fill="url(#r84)"/><rect x="-8" y="169.5" width="68.1" height="3.2" fill="url(#r85)"/><rect x="-8" y="171.5" width="68.1" height="3.2" fill="url(#r86)"/><rect x="-8" y="173.5" width="68.1" height="3.2" fill="url(#r87)"/><rect x="-8" y="175.5" width="68.1" height="3.2" fill="url(#r88)"/><rect x="-8" y="177.5" width="68.1" height="3.2" fill="url(#r89)"/><rect x="-8" y="179.5" width="68.1" height="3.2" fill="url(#r90)"/><rect x="-8" y="181.5" width="68.1" height="3.2" fill="url(#r91)"/><rect x="-8" y="183.5" width="68.1" height="3.2" fill="url(#r92)"/><rect x="-8" y="185.5" width="68.1" height="3.2" fill="url(#r93)"/><rect x="-8" y="187.5" width="68.1" height="3.2" fill="url(#r94)"/><rect x="-8" y="189.5" width="68.1" height="3.2" fill="url(#r95)"/><rect x="-8" y="191.5" width="68.1" height="3.2" fill="url(#r96)"/></g><linearGradient id="s0"><stop offset="0.000" stop-color="#333333"/><stop offset="0.117" stop-color="#474747"/><stop offset="0.254" stop-color="#4c4c4c"/><stop offset="0.269" stop-color="#616161"/><stop offset="0.355" stop-color="#6b6b6b"/><stop offset="0.370" stop-color="#808080"/><stop offset="0.427" stop-color="#8c8c8c"/><stop offset="0.441" stop-color="#9e9e9e"/><stop offset="0.474" stop-color="#a6a6a6"/><stop offset="0.489" stop-color="#adadad"/><stop offset="0.499" stop-color="#b8b8b8"/><stop offset="0.586" stop-color="#c2c2c2"/><stop offset="0.601" stop-color="#d6d6d6"/><stop offset="1.000" stop-color="#f9f9f9"/></linearGradient><linearGradient id="s1"><stop offset="0.000" stop-color="#2c2c2c"/><stop offset="0.101" stop-color="#3d3d3d"/><stop offset="0.143" stop-color="#474747"/><stop offset="0.235" stop-color="#4c4c4c"/><stop offset="0.283" stop-color="#616161"/><stop offset="0.346" stop-color="#6b6b6b"/><stop offset="0.384" stop-color="#808080"/><stop offset="0.424" stop-color="#8c8c8c"/><stop offset="0.436" stop-color="#9e9e9e"/><stop offset="0.472" stop-color="#a6a6a6"/><stop offset="0.485" stop-color="#adadad"/><stop offset="0.494" stop-color="#b8b8b8"/><stop offset="0.576" stop-color="#c2c2c2"/><stop offset="0.589" stop-color="#d6d6d6"/><stop offset="0.706" stop-color="#e6e6e6"/><stop offset="0.954" stop-color="#ffffff"/><stop offset="1.000" stop-color="#ffffff"/></linearGradient><linearGradient id="s2"><stop offset="0.000" stop-color="#252525"/><stop offset="0.064" stop-color="#303030"/><stop offset="0.105" stop-color="#363636"/><stop offset="0.143" stop-color="#3d3d3d"/><stop offset="0.168" stop-color="#474747"/><stop offset="0.216" stop-color="#4c4c4c"/><stop offset="0.336" stop-color="#6b6b6b"/><stop offset="0.398" stop-color="#808080"/><stop offset="0.422" stop-color="#8c8c8c"/><stop offset="0.432" stop-color="#9e9e9e"/><stop offset="0.471" stop-color="#a6a6a6"/><stop offset="0.481" stop-color="#adadad"/><stop offset="0.489" stop-color="#b8b8b8"/><stop offset="0.566" stop-color="#c2c2c2"/><stop offset="0.577" stop-color="#d6d6d6"/><stop offset="0.639" stop-color="#e6e6e6"/><stop offset="0.846" stop-color="#ffffff"/><stop offset="1.000" stop-color="#ffffff"/></linearGradient><linearGradient id="s3"><stop offset="0.000" stop-color="#1f1f1f"/><stop offset="0.103" stop-color="#303030"/><stop offset="0.150" stop-color="#363636"/><stop offset="0.186" stop-color="#3d3d3d"/><stop offset="0.197" stop-color="#4c4c4c"/><stop offset="0.311" stop-color="#616161"/><stop offset="0.326" stop-color="#6b6b6b"/><stop offset="0.413" stop-color="#808080"/><stop offset="0.427" stop-color="#9e9e9e"/><stop offset="0.470" stop-color="#a6a6a6"/><stop offset="0.485" stop-color="#b8b8b8"/><stop offset="0.557" stop-color="#c2c2c2"/><stop offset="0.571" stop-color="#e6e6e6"/><stop offset="0.738" stop-color="#ffffff"/><stop offset="1.000" stop-color="#ffffff"/></linearGradient><linearGradient id="s4"><stop offset="0.000" stop-color="#1d1d1d"/><stop offset="0.114" stop-color="#303030"/><stop offset="0.159" stop-color="#363636"/><stop offset="0.191" stop-color="#3d3d3d"/><stop offset="0.199" stop-color="#474747"/><stop offset="0.240" stop-color="#4c4c4c"/><stop offset="0.360" stop-color="#6b6b6b"/><stop offset="0.421" stop-color="#808080"/><stop offset="0.437" stop-color="#9e9e9e"/><stop offset="0.480" stop-color="#a6a6a6"/><stop offset="0.494" stop-color="#b8b8b8"/><stop offset="0.566" stop-color="#c2c2c2"/><stop offset="0.577" stop-color="#d6d6d6"/><stop offset="0.646" stop-color="#e6e6e6"/><stop offset="0.864" stop-color="#ffffff"/><stop offset="1.000" stop-color="#ffffff"/></linearGradient><linearGradient id="s5"><stop offset="0.000" stop-color="#1b1b1b"/><stop offset="0.126" stop-color="#303030"/><stop offset="0.168" stop-color="#363636"/><stop offset="0.196" stop-color="#3d3d3d"/><stop offset="0.205" stop-color="#474747"/><stop offset="0.283" stop-color="#4c4c4c"/><stop offset="0.331" stop-color="#616161"/><stop offset="0.394" stop-color="#6b6b6b"/><stop offset="0.430" stop-color="#808080"/><stop offset="0.446" stop-color="#9e9e9e"/><stop offset="0.489" stop-color="#a6a6a6"/><stop offset="0.504" stop-color="#b8b8b8"/><stop offset="0.576" stop-color="#c2c2c2"/><stop offset="0.589" stop-color="#d6d6d6"/><stop offset="0.720" stop-color="#e6e6e6"/><stop offset="1.000" stop-color="#ffffff"/></linearGradient><linearGradient id="s6"><stop offset="0.000" stop-color="#191919"/><stop offset="0.103" stop-color="#2b2b2b"/><stop offset="0.177" stop-color="#363636"/><stop offset="0.202" stop-color="#3d3d3d"/><stop offset="0.211" stop-color="#474747"/><stop offset="0.326" stop-color="#4c4c4c"/><stop offset="0.341" stop-color="#616161"/><stop offset="0.427" stop-color="#6b6b6b"/><stop offset="0.455" stop-color="#9e9e9e"/><stop offset="0.499" stop-color="#a6a6a6"/><stop offset="0.514" stop-color="#b8b8b8"/><stop offset="0.586" stop-color="#c2c2c2"/><stop offset="0.601" stop-color="#d6d6d6"/><stop offset="1.000" stop-color="#f6f6f6"/></linearGradient><linearGradient id="s7"><stop offset="0.000" stop-color="#1c1c1c"/><stop offset="0.120" stop-color="#303030"/><stop offset="0.202" stop-color="#363636"/><stop offset="0.217" stop-color="#3d3d3d"/><stop offset="0.225" stop-color="#474747"/><stop offset="0.326" stop-color="#4c4c4c"/><stop offset="0.341" stop-color="#616161"/><stop offset="0.441" stop-color="#6b6b6b"/><stop offset="0.470" stop-color="#9e9e9e"/><stop offset="0.521" stop-color="#a6a6a6"/><stop offset="0.535" stop-color="#b8b8b8"/><stop offset="0.586" stop-color="#c2c2c2"/><stop offset="0.601" stop-color="#d6d6d6"/><stop offset="1.000" stop-color="#f3f3f3"/></linearGradient><linearGradient id="s8"><stop offset="0.000" stop-color="#1f1f1f"/><stop offset="0.103" stop-color="#303030"/><stop offset="0.226" stop-color="#363636"/><stop offset="0.239" stop-color="#474747"/><stop offset="0.326" stop-color="#4c4c4c"/><stop offset="0.341" stop-color="#616161"/><stop offset="0.455" stop-color="#6b6b6b"/><stop offset="0.485" stop-color="#9e9e9e"/><stop offset="0.543" stop-color="#a6a6a6"/><stop offset="0.557" stop-color="#b8b8b8"/><stop offset="0.586" stop-color="#c2c2c2"/><stop offset="0.601" stop-color="#d6d6d6"/><stop offset="1.000" stop-color="#f1f1f1"/></linearGradient><linearGradient id="s9"><stop offset="0.000" stop-color="#141414"/><stop offset="0.031" stop-color="#171717"/><stop offset="0.134" stop-color="#303030"/><stop offset="0.245" stop-color="#363636"/><stop offset="0.259" stop-color="#474747"/><stop offset="0.336" stop-color="#4c4c4c"/><stop offset="0.350" stop-color="#616161"/><stop offset="0.465" stop-color="#6b6b6b"/><stop offset="0.494" stop-color="#9e9e9e"/><stop offset="0.553" stop-color="#a6a6a6"/><stop offset="0.566" stop-color="#b8b8b8"/><stop offset="0.595" stop-color="#c2c2c2"/><stop offset="0.610" stop-color="#d6d6d6"/><stop offset="0.706" stop-color="#dbdbdb"/><stop offset="1.000" stop-color="#f0f0f0"/></linearGradient><linearGradient id="s10"><stop offset="0.000" stop-color="#0a0a0a"/><stop offset="0.059" stop-color="#141414"/><stop offset="0.107" stop-color="#171717"/><stop offset="0.165" stop-color="#303030"/><stop offset="0.264" stop-color="#363636"/><stop offset="0.279" stop-color="#474747"/><stop offset="0.346" stop-color="#4c4c4c"/><stop offset="0.360" stop-color="#616161"/><stop offset="0.475" stop-color="#6b6b6b"/><stop offset="0.504" stop-color="#9e9e9e"/><stop offset="0.562" stop-color="#a6a6a6"/><stop offset="0.576" stop-color="#b8b8b8"/><stop offset="0.605" stop-color="#c2c2c2"/><stop offset="0.619" stop-color="#d6d6d6"/><stop offset="0.725" stop-color="#dbdbdb"/><stop offset="1.000" stop-color="#eeeeee"/></linearGradient><linearGradient id="s11"><stop offset="0.000" stop-color="#000000"/><stop offset="0.117" stop-color="#141414"/><stop offset="0.182" stop-color="#171717"/><stop offset="0.195" stop-color="#303030"/><stop offset="0.283" stop-color="#363636"/><stop offset="0.298" stop-color="#474747"/><stop offset="0.355" stop-color="#4c4c4c"/><stop offset="0.370" stop-color="#616161"/><stop offset="0.485" stop-color="#6b6b6b"/><stop offset="0.514" stop-color="#9e9e9e"/><stop offset="0.571" stop-color="#a6a6a6"/><stop offset="0.586" stop-color="#b8b8b8"/><stop offset="0.614" stop-color="#c2c2c2"/><stop offset="0.628" stop-color="#d6d6d6"/><stop offset="0.744" stop-color="#dbdbdb"/><stop offset="1.000" stop-color="#ededed"/></linearGradient><linearGradient id="s12"><stop offset="0.000" stop-color="#000000"/><stop offset="0.117" stop-color="#141414"/><stop offset="0.206" stop-color="#171717"/><stop offset="0.219" stop-color="#303030"/><stop offset="0.298" stop-color="#363636"/><stop offset="0.312" stop-color="#474747"/><stop offset="0.365" stop-color="#4c4c4c"/><stop offset="0.379" stop-color="#616161"/><stop offset="0.470" stop-color="#6b6b6b"/><stop offset="0.490" stop-color="#949494"/><stop offset="0.509" stop-color="#9e9e9e"/><stop offset="0.562" stop-color="#a6a6a6"/><stop offset="0.576" stop-color="#b8b8b8"/><stop offset="0.628" stop-color="#c2c2c2"/><stop offset="0.643" stop-color="#d6d6d6"/><stop offset="0.759" stop-color="#dbdbdb"/><stop offset="1.000" stop-color="#ececec"/></linearGradient><linearGradient id="s13"><stop offset="0.000" stop-color="#000000"/><stop offset="0.117" stop-color="#141414"/><stop offset="0.230" stop-color="#171717"/><stop offset="0.243" stop-color="#303030"/><stop offset="0.312" stop-color="#363636"/><stop offset="0.326" stop-color="#474747"/><stop offset="0.374" stop-color="#4c4c4c"/><stop offset="0.389" stop-color="#616161"/><stop offset="0.456" stop-color="#6b6b6b"/><stop offset="0.472" stop-color="#949494"/><stop offset="0.504" stop-color="#9e9e9e"/><stop offset="0.554" stop-color="#a6a6a6"/><stop offset="0.566" stop-color="#b8b8b8"/><stop offset="0.643" stop-color="#c2c2c2"/><stop offset="0.658" stop-color="#d6d6d6"/><stop offset="0.773" stop-color="#dbdbdb"/><stop offset="1.000" stop-color="#ebebeb"/></linearGradient><linearGradient id="s14"><stop offset="0.000" stop-color="#000000"/><stop offset="0.117" stop-color="#141414"/><stop offset="0.254" stop-color="#171717"/><stop offset="0.267" stop-color="#303030"/><stop offset="0.326" stop-color="#363636"/><stop offset="0.341" stop-color="#474747"/><stop offset="0.383" stop-color="#4c4c4c"/><stop offset="0.398" stop-color="#616161"/><stop offset="0.442" stop-color="#6b6b6b"/><stop offset="0.454" stop-color="#949494"/><stop offset="0.499" stop-color="#9e9e9e"/><stop offset="0.545" stop-color="#a6a6a6"/><stop offset="0.557" stop-color="#b8b8b8"/><stop offset="0.658" stop-color="#c2c2c2"/><stop offset="0.673" stop-color="#d6d6d6"/><stop offset="0.787" stop-color="#dbdbdb"/><stop offset="1.000" stop-color="#eaeaea"/></linearGradient><linearGradient id="s15"><stop offset="0.000" stop-color="#000000"/><stop offset="0.117" stop-color="#141414"/><stop offset="0.247" stop-color="#171717"/><stop offset="0.260" stop-color="#303030"/><stop offset="0.326" stop-color="#363636"/><stop offset="0.367" stop-color="#3d3d3d"/><stop offset="0.374" stop-color="#474747"/><stop offset="0.396" stop-color="#4c4c4c"/><stop offset="0.404" stop-color="#545454"/><stop offset="0.420" stop-color="#616161"/><stop offset="0.444" stop-color="#6b6b6b"/><stop offset="0.453" stop-color="#949494"/><stop offset="0.477" stop-color="#9e9e9e"/><stop offset="0.533" stop-color="#a6a6a6"/><stop offset="0.549" stop-color="#adadad"/><stop offset="0.557" stop-color="#b8b8b8"/><stop offset="0.651" stop-color="#c2c2c2"/><stop offset="0.662" stop-color="#cccccc"/><stop offset="0.774" stop-color="#d6d6d6"/><stop offset="1.000" stop-color="#e4e4e4"/></linearGradient><linearGradient id="s16"><stop offset="0.000" stop-color="#000000"/><stop offset="0.117" stop-color="#141414"/><stop offset="0.239" stop-color="#171717"/><stop offset="0.253" stop-color="#303030"/><stop offset="0.326" stop-color="#363636"/><stop offset="0.401" stop-color="#3d3d3d"/><stop offset="0.410" stop-color="#4c4c4c"/><stop offset="0.420" stop-color="#545454"/><stop offset="0.443" stop-color="#616161"/><stop offset="0.455" stop-color="#9e9e9e"/><stop offset="0.521" stop-color="#a6a6a6"/><stop offset="0.548" stop-color="#adadad"/><stop offset="0.557" stop-color="#b8b8b8"/><stop offset="0.643" stop-color="#c2c2c2"/><stop offset="0.658" stop-color="#cccccc"/><stop offset="0.875" stop-color="#d6d6d6"/><stop offset="1.000" stop-color="#dfdfdf"/></linearGradient><linearGradient id="s17"><stop offset="0.000" stop-color="#000000"/><stop offset="0.117" stop-color="#141414"/><stop offset="0.244" stop-color="#171717"/><stop offset="0.254" stop-color="#262626"/><stop offset="0.285" stop-color="#2b2b2b"/><stop offset="0.287" stop-color="#303030"/><stop offset="0.336" stop-color="#363636"/><stop offset="0.387" stop-color="#3d3d3d"/><stop offset="0.393" stop-color="#4c4c4c"/><stop offset="0.400" stop-color="#545454"/><stop offset="0.416" stop-color="#616161"/><stop offset="0.425" stop-color="#949494"/><stop offset="0.456" stop-color="#9e9e9e"/><stop offset="0.529" stop-color="#a6a6a6"/><stop offset="0.548" stop-color="#adadad"/><stop offset="0.557" stop-color="#b8b8b8"/><stop offset="0.633" stop-color="#c2c2c2"/><stop offset="0.646" stop-color="#cccccc"/><stop offset="1.000" stop-color="#e3e3e3"/></linearGradient><linearGradient id="s18"><stop offset="0.000" stop-color="#000000"/><stop offset="0.117" stop-color="#141414"/><stop offset="0.249" stop-color="#171717"/><stop offset="0.262" stop-color="#262626"/><stop offset="0.320" stop-color="#2b2b2b"/><stop offset="0.322" stop-color="#303030"/><stop offset="0.346" stop-color="#363636"/><stop offset="0.372" stop-color="#3d3d3d"/><stop offset="0.376" stop-color="#4c4c4c"/><stop offset="0.381" stop-color="#545454"/><stop offset="0.389" stop-color="#616161"/><stop offset="0.397" stop-color="#949494"/><stop offset="0.456" stop-color="#9e9e9e"/><stop offset="0.537" stop-color="#a6a6a6"/><stop offset="0.549" stop-color="#adadad"/><stop offset="0.557" stop-color="#b8b8b8"/><stop offset="0.624" stop-color="#c2c2c2"/><stop offset="0.633" stop-color="#cccccc"/><stop offset="0.711" stop-color="#d6d6d6"/><stop offset="0.831" stop-color="#dbdbdb"/><stop offset="1.000" stop-color="#e7e7e7"/></linearGradient><linearGradient id="s19"><stop offset="0.000" stop-color="#000000"/><stop offset="0.117" stop-color="#141414"/><stop offset="0.254" stop-color="#171717"/><stop offset="0.269" stop-color="#262626"/><stop offset="0.355" stop-color="#2b2b2b"/><stop offset="0.369" stop-color="#949494"/><stop offset="0.457" stop-color="#9e9e9e"/><stop offset="0.545" stop-color="#a6a6a6"/><stop offset="0.557" stop-color="#b8b8b8"/><stop offset="0.614" stop-color="#c2c2c2"/><stop offset="0.628" stop-color="#d6d6d6"/><stop offset="0.772" stop-color="#dbdbdb"/><stop offset="1.000" stop-color="#ebebeb"/></linearGradient><linearGradient id="s20"><stop offset="0.000" stop-color="#000000"/><stop offset="0.117" stop-color="#141414"/><stop offset="0.249" stop-color="#171717"/><stop offset="0.264" stop-color="#262626"/><stop offset="0.350" stop-color="#2b2b2b"/><stop offset="0.364" stop-color="#949494"/><stop offset="0.437" stop-color="#9e9e9e"/><stop offset="0.511" stop-color="#a6a6a6"/><stop offset="0.523" stop-color="#b8b8b8"/><stop offset="0.605" stop-color="#c2c2c2"/><stop offset="0.618" stop-color="#d6d6d6"/><stop offset="0.715" stop-color="#dbdbdb"/><stop offset="1.000" stop-color="#f1f1f1"/></linearGradient><linearGradient id="s21"><stop offset="0.000" stop-color="#000000"/><stop offset="0.117" stop-color="#141414"/><stop offset="0.244" stop-color="#171717"/><stop offset="0.259" stop-color="#262626"/><stop offset="0.346" stop-color="#2b2b2b"/><stop offset="0.360" stop-color="#949494"/><stop offset="0.418" stop-color="#9e9e9e"/><stop offset="0.477" stop-color="#a6a6a6"/><stop offset="0.489" stop-color="#b8b8b8"/><stop offset="0.595" stop-color="#c2c2c2"/><stop offset="0.608" stop-color="#d6d6d6"/><stop offset="0.658" stop-color="#dbdbdb"/><stop offset="1.000" stop-color="#f7f7f7"/></linearGradient><linearGradient id="s22"><stop offset="0.000" stop-color="#000000"/><stop offset="0.117" stop-color="#141414"/><stop offset="0.239" stop-color="#171717"/><stop offset="0.254" stop-color="#262626"/><stop offset="0.341" stop-color="#2b2b2b"/><stop offset="0.355" stop-color="#949494"/><stop offset="0.399" stop-color="#9e9e9e"/><stop offset="0.444" stop-color="#a6a6a6"/><stop offset="0.455" stop-color="#b8b8b8"/><stop offset="0.586" stop-color="#c2c2c2"/><stop offset="0.601" stop-color="#dbdbdb"/><stop offset="1.000" stop-color="#ffffff"/></linearGradient><linearGradient id="s23"><stop offset="0.000" stop-color="#000000"/><stop offset="0.117" stop-color="#141414"/><stop offset="0.225" stop-color="#171717"/><stop offset="0.240" stop-color="#262626"/><stop offset="0.303" stop-color="#2b2b2b"/><stop offset="0.324" stop-color="#303030"/><stop offset="0.334" stop-color="#363636"/><stop offset="0.347" stop-color="#949494"/><stop offset="0.370" stop-color="#9e9e9e"/><stop offset="0.435" stop-color="#a6a6a6"/><stop offset="0.449" stop-color="#b8b8b8"/><stop offset="0.557" stop-color="#c2c2c2"/><stop offset="0.570" stop-color="#d6d6d6"/><stop offset="0.608" stop-color="#dbdbdb"/><stop offset="1.000" stop-color="#fafafa"/></linearGradient><linearGradient id="s24"><stop offset="0.000" stop-color="#000000"/><stop offset="0.117" stop-color="#141414"/><stop offset="0.211" stop-color="#171717"/><stop offset="0.226" stop-color="#262626"/><stop offset="0.306" stop-color="#303030"/><stop offset="0.326" stop-color="#363636"/><stop offset="0.341" stop-color="#9e9e9e"/><stop offset="0.427" stop-color="#a6a6a6"/><stop offset="0.442" stop-color="#b8b8b8"/><stop offset="0.529" stop-color="#c2c2c2"/><stop offset="0.543" stop-color="#d6d6d6"/><stop offset="1.000" stop-color="#f7f7f7"/></linearGradient><linearGradient id="s25"><stop offset="0.000" stop-color="#000000"/><stop offset="0.117" stop-color="#141414"/><stop offset="0.207" stop-color="#171717"/><stop offset="0.220" stop-color="#262626"/><stop offset="0.247" stop-color="#2b2b2b"/><stop offset="0.332" stop-color="#363636"/><stop offset="0.338" stop-color="#474747"/><stop offset="0.347" stop-color="#4c4c4c"/><stop offset="0.358" stop-color="#8c8c8c"/><stop offset="0.379" stop-color="#9e9e9e"/><stop offset="0.438" stop-color="#a6a6a6"/><stop offset="0.451" stop-color="#b8b8b8"/><stop offset="0.534" stop-color="#c2c2c2"/><stop offset="0.548" stop-color="#d6d6d6"/><stop offset="1.000" stop-color="#f6f6f6"/></linearGradient><linearGradient id="s26"><stop offset="0.000" stop-color="#000000"/><stop offset="0.117" stop-color="#141414"/><stop offset="0.202" stop-color="#171717"/><stop offset="0.213" stop-color="#262626"/><stop offset="0.229" stop-color="#2b2b2b"/><stop offset="0.337" stop-color="#363636"/><stop offset="0.347" stop-color="#474747"/><stop offset="0.365" stop-color="#4c4c4c"/><stop offset="0.378" stop-color="#8c8c8c"/><stop offset="0.417" stop-color="#9e9e9e"/><stop offset="0.449" stop-color="#a6a6a6"/><stop offset="0.461" stop-color="#b8b8b8"/><stop offset="0.538" stop-color="#c2c2c2"/><stop offset="0.552" stop-color="#d6d6d6"/><stop offset="1.000" stop-color="#f5f5f5"/></linearGradient><linearGradient id="s27"><stop offset="0.000" stop-color="#000000"/><stop offset="0.117" stop-color="#141414"/><stop offset="0.197" stop-color="#171717"/><stop offset="0.210" stop-color="#2b2b2b"/><stop offset="0.343" stop-color="#363636"/><stop offset="0.355" stop-color="#474747"/><stop offset="0.383" stop-color="#4c4c4c"/><stop offset="0.398" stop-color="#8c8c8c"/><stop offset="0.455" stop-color="#9e9e9e"/><stop offset="0.470" stop-color="#b8b8b8"/><stop offset="0.543" stop-color="#c2c2c2"/><stop offset="0.557" stop-color="#d6d6d6"/><stop offset="0.651" stop-color="#dbdbdb"/><stop offset="1.000" stop-color="#f4f4f4"/></linearGradient><linearGradient id="s28"><stop offset="0.000" stop-color="#000000"/><stop offset="0.117" stop-color="#141414"/><stop offset="0.187" stop-color="#171717"/><stop offset="0.199" stop-color="#2b2b2b"/><stop offset="0.244" stop-color="#303030"/><stop offset="0.332" stop-color="#363636"/><stop offset="0.346" stop-color="#474747"/><stop offset="0.379" stop-color="#4c4c4c"/><stop offset="0.386" stop-color="#616161"/><stop offset="0.398" stop-color="#6b6b6b"/><stop offset="0.406" stop-color="#8c8c8c"/><stop offset="0.446" stop-color="#9e9e9e"/><stop offset="0.473" stop-color="#a6a6a6"/><stop offset="0.485" stop-color="#b8b8b8"/><stop offset="0.558" stop-color="#c2c2c2"/><stop offset="0.571" stop-color="#d6d6d6"/><stop offset="1.000" stop-color="#f4f4f4"/></linearGradient><linearGradient id="s29"><stop offset="0.000" stop-color="#000000"/><stop offset="0.117" stop-color="#141414"/><stop offset="0.177" stop-color="#171717"/><stop offset="0.189" stop-color="#2b2b2b"/><stop offset="0.213" stop-color="#303030"/><stop offset="0.322" stop-color="#363636"/><stop offset="0.336" stop-color="#474747"/><stop offset="0.374" stop-color="#4c4c4c"/><stop offset="0.385" stop-color="#616161"/><stop offset="0.405" stop-color="#6b6b6b"/><stop offset="0.414" stop-color="#8c8c8c"/><stop offset="0.437" stop-color="#9e9e9e"/><stop offset="0.486" stop-color="#a6a6a6"/><stop offset="0.499" stop-color="#b8b8b8"/><stop offset="0.572" stop-color="#c2c2c2"/><stop offset="0.586" stop-color="#d6d6d6"/><stop offset="1.000" stop-color="#f5f5f5"/></linearGradient><linearGradient id="s30"><stop offset="0.000" stop-color="#000000"/><stop offset="0.117" stop-color="#141414"/><stop offset="0.167" stop-color="#171717"/><stop offset="0.181" stop-color="#303030"/><stop offset="0.311" stop-color="#363636"/><stop offset="0.326" stop-color="#474747"/><stop offset="0.370" stop-color="#4c4c4c"/><stop offset="0.383" stop-color="#616161"/><stop offset="0.413" stop-color="#6b6b6b"/><stop offset="0.427" stop-color="#9e9e9e"/><stop offset="0.499" stop-color="#a6a6a6"/><stop offset="0.514" stop-color="#b8b8b8"/><stop offset="0.586" stop-color="#c2c2c2"/><stop offset="0.601" stop-color="#d6d6d6"/><stop offset="1.000" stop-color="#f6f6f6"/></linearGradient><linearGradient id="s31"><stop offset="0.000" stop-color="#000000"/><stop offset="0.117" stop-color="#141414"/><stop offset="0.160" stop-color="#171717"/><stop offset="0.173" stop-color="#303030"/><stop offset="0.305" stop-color="#363636"/><stop offset="0.319" stop-color="#474747"/><stop offset="0.363" stop-color="#4c4c4c"/><stop offset="0.377" stop-color="#616161"/><stop offset="0.427" stop-color="#6b6b6b"/><stop offset="0.441" stop-color="#9e9e9e"/><stop offset="0.507" stop-color="#a6a6a6"/><stop offset="0.521" stop-color="#b8b8b8"/><stop offset="0.579" stop-color="#c2c2c2"/><stop offset="0.593" stop-color="#d6d6d6"/><stop offset="1.000" stop-color="#f4f4f4"/></linearGradient><linearGradient id="s32"><stop offset="0.000" stop-color="#000000"/><stop offset="0.117" stop-color="#141414"/><stop offset="0.153" stop-color="#171717"/><stop offset="0.166" stop-color="#303030"/><stop offset="0.298" stop-color="#363636"/><stop offset="0.311" stop-color="#474747"/><stop offset="0.355" stop-color="#4c4c4c"/><stop offset="0.370" stop-color="#616161"/><stop offset="0.442" stop-color="#6b6b6b"/><stop offset="0.455" stop-color="#9e9e9e"/><stop offset="0.514" stop-color="#a6a6a6"/><stop offset="0.529" stop-color="#b8b8b8"/><stop offset="0.571" stop-color="#c2c2c2"/><stop offset="0.586" stop-color="#d6d6d6"/><stop offset="1.000" stop-color="#f2f2f2"/></linearGradient><linearGradient id="s33"><stop offset="0.000" stop-color="#000000"/><stop offset="0.117" stop-color="#141414"/><stop offset="0.153" stop-color="#171717"/><stop offset="0.166" stop-color="#303030"/><stop offset="0.283" stop-color="#363636"/><stop offset="0.297" stop-color="#474747"/><stop offset="0.346" stop-color="#4c4c4c"/><stop offset="0.360" stop-color="#616161"/><stop offset="0.442" stop-color="#6b6b6b"/><stop offset="0.452" stop-color="#8c8c8c"/><stop offset="0.485" stop-color="#9e9e9e"/><stop offset="0.525" stop-color="#a6a6a6"/><stop offset="0.538" stop-color="#b8b8b8"/><stop offset="0.585" stop-color="#c2c2c2"/><stop offset="0.600" stop-color="#d6d6d6"/><stop offset="1.000" stop-color="#f2f2f2"/></linearGradient><linearGradient id="s34"><stop offset="0.000" stop-color="#000000"/><stop offset="0.117" stop-color="#141414"/><stop offset="0.153" stop-color="#171717"/><stop offset="0.166" stop-color="#303030"/><stop offset="0.269" stop-color="#363636"/><stop offset="0.283" stop-color="#474747"/><stop offset="0.336" stop-color="#4c4c4c"/><stop offset="0.350" stop-color="#616161"/><stop offset="0.442" stop-color="#6b6b6b"/><stop offset="0.454" stop-color="#8c8c8c"/><stop offset="0.536" stop-color="#a6a6a6"/><stop offset="0.547" stop-color="#b8b8b8"/><stop offset="0.600" stop-color="#c2c2c2"/><stop offset="0.614" stop-color="#d6d6d6"/><stop offset="1.000" stop-color="#f1f1f1"/></linearGradient><linearGradient id="s35"><stop offset="0.000" stop-color="#000000"/><stop offset="0.117" stop-color="#141414"/><stop offset="0.153" stop-color="#171717"/><stop offset="0.166" stop-color="#303030"/><stop offset="0.254" stop-color="#363636"/><stop offset="0.269" stop-color="#474747"/><stop offset="0.326" stop-color="#4c4c4c"/><stop offset="0.341" stop-color="#616161"/><stop offset="0.442" stop-color="#6b6b6b"/><stop offset="0.455" stop-color="#8c8c8c"/><stop offset="0.543" stop-color="#9e9e9e"/><stop offset="0.557" stop-color="#b8b8b8"/><stop offset="0.614" stop-color="#c2c2c2"/><stop offset="0.628" stop-color="#d6d6d6"/><stop offset="1.000" stop-color="#f1f1f1"/></linearGradient><linearGradient id="s36"><stop offset="0.000" stop-color="#080808"/><stop offset="0.069" stop-color="#141414"/><stop offset="0.097" stop-color="#171717"/><stop offset="0.143" stop-color="#2b2b2b"/><stop offset="0.158" stop-color="#303030"/><stop offset="0.226" stop-color="#363636"/><stop offset="0.240" stop-color="#474747"/><stop offset="0.297" stop-color="#4c4c4c"/><stop offset="0.312" stop-color="#616161"/><stop offset="0.427" stop-color="#6b6b6b"/><stop offset="0.446" stop-color="#8c8c8c"/><stop offset="0.543" stop-color="#9e9e9e"/><stop offset="0.556" stop-color="#adadad"/><stop offset="0.576" stop-color="#b8b8b8"/><stop offset="0.630" stop-color="#c2c2c2"/><stop offset="0.638" stop-color="#cccccc"/><stop offset="0.681" stop-color="#d6d6d6"/><stop offset="1.000" stop-color="#eeeeee"/></linearGradient><linearGradient id="s37"><stop offset="0.000" stop-color="#111111"/><stop offset="0.041" stop-color="#171717"/><stop offset="0.123" stop-color="#2b2b2b"/><stop offset="0.150" stop-color="#303030"/><stop offset="0.198" stop-color="#363636"/><stop offset="0.211" stop-color="#474747"/><stop offset="0.268" stop-color="#4c4c4c"/><stop offset="0.283" stop-color="#616161"/><stop offset="0.413" stop-color="#6b6b6b"/><stop offset="0.437" stop-color="#8c8c8c"/><stop offset="0.543" stop-color="#9e9e9e"/><stop offset="0.560" stop-color="#adadad"/><stop offset="0.595" stop-color="#b8b8b8"/><stop offset="0.646" stop-color="#c2c2c2"/><stop offset="0.655" stop-color="#cccccc"/><stop offset="0.734" stop-color="#d6d6d6"/><stop offset="1.000" stop-color="#ececec"/></linearGradient><linearGradient id="s38"><stop offset="0.000" stop-color="#191919"/><stop offset="0.103" stop-color="#2b2b2b"/><stop offset="0.142" stop-color="#303030"/><stop offset="0.169" stop-color="#363636"/><stop offset="0.182" stop-color="#474747"/><stop offset="0.239" stop-color="#4c4c4c"/><stop offset="0.254" stop-color="#616161"/><stop offset="0.398" stop-color="#6b6b6b"/><stop offset="0.427" stop-color="#8c8c8c"/><stop offset="0.543" stop-color="#9e9e9e"/><stop offset="0.564" stop-color="#adadad"/><stop offset="0.663" stop-color="#c2c2c2"/><stop offset="0.673" stop-color="#cccccc"/><stop offset="1.000" stop-color="#e9e9e9"/></linearGradient><linearGradient id="s39"><stop offset="0.000" stop-color="#1c1c1c"/><stop offset="0.088" stop-color="#2b2b2b"/><stop offset="0.163" stop-color="#363636"/><stop offset="0.188" stop-color="#3d3d3d"/><stop offset="0.197" stop-color="#474747"/><stop offset="0.239" stop-color="#4c4c4c"/><stop offset="0.254" stop-color="#616161"/><stop offset="0.359" stop-color="#6b6b6b"/><stop offset="0.387" stop-color="#737373"/><stop offset="0.413" stop-color="#8c8c8c"/><stop offset="0.466" stop-color="#949494"/><stop offset="0.503" stop-color="#9e9e9e"/><stop offset="0.512" stop-color="#a6a6a6"/><stop offset="0.568" stop-color="#adadad"/><stop offset="0.600" stop-color="#b8b8b8"/><stop offset="0.675" stop-color="#c2c2c2"/><stop offset="0.683" stop-color="#cccccc"/><stop offset="0.744" stop-color="#d6d6d6"/><stop offset="1.000" stop-color="#ededed"/></linearGradient><linearGradient id="s40"><stop offset="0.000" stop-color="#1f1f1f"/><stop offset="0.103" stop-color="#303030"/><stop offset="0.157" stop-color="#363636"/><stop offset="0.202" stop-color="#3d3d3d"/><stop offset="0.211" stop-color="#474747"/><stop offset="0.239" stop-color="#4c4c4c"/><stop offset="0.254" stop-color="#616161"/><stop offset="0.370" stop-color="#737373"/><stop offset="0.398" stop-color="#8c8c8c"/><stop offset="0.455" stop-color="#949494"/><stop offset="0.470" stop-color="#a6a6a6"/><stop offset="0.571" stop-color="#adadad"/><stop offset="0.586" stop-color="#b8b8b8"/><stop offset="0.687" stop-color="#c2c2c2"/><stop offset="0.700" stop-color="#d6d6d6"/><stop offset="1.000" stop-color="#f0f0f0"/></linearGradient><linearGradient id="s41"><stop offset="0.000" stop-color="#1f1f1f"/><stop offset="0.103" stop-color="#303030"/><stop offset="0.155" stop-color="#363636"/><stop offset="0.197" stop-color="#3d3d3d"/><stop offset="0.207" stop-color="#474747"/><stop offset="0.239" stop-color="#4c4c4c"/><stop offset="0.254" stop-color="#616161"/><stop offset="0.327" stop-color="#6b6b6b"/><stop offset="0.362" stop-color="#737373"/><stop offset="0.373" stop-color="#808080"/><stop offset="0.398" stop-color="#8c8c8c"/><stop offset="0.443" stop-color="#949494"/><stop offset="0.452" stop-color="#9e9e9e"/><stop offset="0.494" stop-color="#a6a6a6"/><stop offset="0.564" stop-color="#adadad"/><stop offset="0.576" stop-color="#b8b8b8"/><stop offset="0.692" stop-color="#c2c2c2"/><stop offset="0.705" stop-color="#d6d6d6"/><stop offset="1.000" stop-color="#eeeeee"/></linearGradient><linearGradient id="s42"><stop offset="0.000" stop-color="#1f1f1f"/><stop offset="0.103" stop-color="#303030"/><stop offset="0.152" stop-color="#363636"/><stop offset="0.192" stop-color="#3d3d3d"/><stop offset="0.202" stop-color="#474747"/><stop offset="0.239" stop-color="#4c4c4c"/><stop offset="0.254" stop-color="#616161"/><stop offset="0.334" stop-color="#6b6b6b"/><stop offset="0.353" stop-color="#737373"/><stop offset="0.363" stop-color="#808080"/><stop offset="0.398" stop-color="#8c8c8c"/><stop offset="0.430" stop-color="#949494"/><stop offset="0.439" stop-color="#9e9e9e"/><stop offset="0.519" stop-color="#a6a6a6"/><stop offset="0.556" stop-color="#adadad"/><stop offset="0.566" stop-color="#b8b8b8"/><stop offset="0.696" stop-color="#c2c2c2"/><stop offset="0.710" stop-color="#d6d6d6"/><stop offset="1.000" stop-color="#ececec"/></linearGradient><linearGradient id="s43"><stop offset="0.000" stop-color="#1f1f1f"/><stop offset="0.103" stop-color="#303030"/><stop offset="0.150" stop-color="#363636"/><stop offset="0.187" stop-color="#3d3d3d"/><stop offset="0.197" stop-color="#474747"/><stop offset="0.239" stop-color="#4c4c4c"/><stop offset="0.254" stop-color="#616161"/><stop offset="0.341" stop-color="#6b6b6b"/><stop offset="0.352" stop-color="#808080"/><stop offset="0.398" stop-color="#8c8c8c"/><stop offset="0.418" stop-color="#949494"/><stop offset="0.427" stop-color="#9e9e9e"/><stop offset="0.543" stop-color="#a6a6a6"/><stop offset="0.557" stop-color="#b8b8b8"/><stop offset="0.700" stop-color="#c2c2c2"/><stop offset="0.715" stop-color="#d6d6d6"/><stop offset="1.000" stop-color="#eaeaea"/></linearGradient><linearGradient id="s44"><stop offset="0.000" stop-color="#1f1f1f"/><stop offset="0.103" stop-color="#303030"/><stop offset="0.150" stop-color="#363636"/><stop offset="0.189" stop-color="#3d3d3d"/><stop offset="0.202" stop-color="#474747"/><stop offset="0.232" stop-color="#4c4c4c"/><stop offset="0.249" stop-color="#616161"/><stop offset="0.336" stop-color="#6b6b6b"/><stop offset="0.348" stop-color="#808080"/><stop offset="0.393" stop-color="#8c8c8c"/><stop offset="0.413" stop-color="#949494"/><stop offset="0.422" stop-color="#9e9e9e"/><stop offset="0.532" stop-color="#a6a6a6"/><stop offset="0.549" stop-color="#adadad"/><stop offset="0.557" stop-color="#b8b8b8"/><stop offset="0.696" stop-color="#c2c2c2"/><stop offset="0.710" stop-color="#d6d6d6"/><stop offset="1.000" stop-color="#eaeaea"/></linearGradient><linearGradient id="s45"><stop offset="0.000" stop-color="#1f1f1f"/><stop offset="0.103" stop-color="#303030"/><stop offset="0.150" stop-color="#363636"/><stop offset="0.190" stop-color="#3d3d3d"/><stop offset="0.207" stop-color="#474747"/><stop offset="0.224" stop-color="#4c4c4c"/><stop offset="0.244" stop-color="#616161"/><stop offset="0.331" stop-color="#6b6b6b"/><stop offset="0.343" stop-color="#808080"/><stop offset="0.389" stop-color="#8c8c8c"/><stop offset="0.408" stop-color="#949494"/><stop offset="0.418" stop-color="#9e9e9e"/><stop offset="0.522" stop-color="#a6a6a6"/><stop offset="0.548" stop-color="#adadad"/><stop offset="0.557" stop-color="#b8b8b8"/><stop offset="0.692" stop-color="#c2c2c2"/><stop offset="0.705" stop-color="#d6d6d6"/><stop offset="1.000" stop-color="#eaeaea"/></linearGradient><linearGradient id="s46"><stop offset="0.000" stop-color="#1f1f1f"/><stop offset="0.103" stop-color="#303030"/><stop offset="0.150" stop-color="#363636"/><stop offset="0.192" stop-color="#3d3d3d"/><stop offset="0.211" stop-color="#474747"/><stop offset="0.239" stop-color="#616161"/><stop offset="0.326" stop-color="#6b6b6b"/><stop offset="0.338" stop-color="#808080"/><stop offset="0.384" stop-color="#8c8c8c"/><stop offset="0.403" stop-color="#949494"/><stop offset="0.413" stop-color="#9e9e9e"/><stop offset="0.511" stop-color="#a6a6a6"/><stop offset="0.548" stop-color="#adadad"/><stop offset="0.557" stop-color="#b8b8b8"/><stop offset="0.687" stop-color="#c2c2c2"/><stop offset="0.700" stop-color="#d6d6d6"/><stop offset="0.794" stop-color="#dbdbdb"/><stop offset="1.000" stop-color="#eaeaea"/></linearGradient><linearGradient id="s47"><stop offset="0.000" stop-color="#1c1c1c"/><stop offset="0.088" stop-color="#2b2b2b"/><stop offset="0.167" stop-color="#363636"/><stop offset="0.190" stop-color="#3d3d3d"/><stop offset="0.203" stop-color="#474747"/><stop offset="0.207" stop-color="#4c4c4c"/><stop offset="0.227" stop-color="#545454"/><stop offset="0.239" stop-color="#616161"/><stop offset="0.312" stop-color="#6b6b6b"/><stop offset="0.325" stop-color="#808080"/><stop offset="0.384" stop-color="#8c8c8c"/><stop offset="0.403" stop-color="#949494"/><stop offset="0.413" stop-color="#9e9e9e"/><stop offset="0.498" stop-color="#a6a6a6"/><stop offset="0.519" stop-color="#adadad"/><stop offset="0.528" stop-color="#b8b8b8"/><stop offset="0.637" stop-color="#c2c2c2"/><stop offset="0.651" stop-color="#d6d6d6"/><stop offset="0.791" stop-color="#dbdbdb"/><stop offset="1.000" stop-color="#eaeaea"/></linearGradient><linearGradient id="s48"><stop offset="0.000" stop-color="#191919"/><stop offset="0.103" stop-color="#2b2b2b"/><stop offset="0.184" stop-color="#363636"/><stop offset="0.197" stop-color="#4c4c4c"/><stop offset="0.228" stop-color="#545454"/><stop offset="0.239" stop-color="#616161"/><stop offset="0.298" stop-color="#6b6b6b"/><stop offset="0.311" stop-color="#808080"/><stop offset="0.384" stop-color="#8c8c8c"/><stop offset="0.403" stop-color="#949494"/><stop offset="0.413" stop-color="#9e9e9e"/><stop offset="0.485" stop-color="#a6a6a6"/><stop offset="0.499" stop-color="#b8b8b8"/><stop offset="0.586" stop-color="#c2c2c2"/><stop offset="0.601" stop-color="#d6d6d6"/><stop offset="0.787" stop-color="#dbdbdb"/><stop offset="1.000" stop-color="#eaeaea"/></linearGradient><linearGradient id="s49"><stop offset="0.000" stop-color="#191919"/><stop offset="0.103" stop-color="#2b2b2b"/><stop offset="0.179" stop-color="#363636"/><stop offset="0.190" stop-color="#474747"/><stop offset="0.211" stop-color="#4c4c4c"/><stop offset="0.234" stop-color="#545454"/><stop offset="0.244" stop-color="#616161"/><stop offset="0.298" stop-color="#6b6b6b"/><stop offset="0.310" stop-color="#808080"/><stop offset="0.377" stop-color="#8c8c8c"/><stop offset="0.398" stop-color="#949494"/><stop offset="0.408" stop-color="#9e9e9e"/><stop offset="0.475" stop-color="#a6a6a6"/><stop offset="0.489" stop-color="#b8b8b8"/><stop offset="0.572" stop-color="#c2c2c2"/><stop offset="0.586" stop-color="#d6d6d6"/><stop offset="0.758" stop-color="#dbdbdb"/><stop offset="1.000" stop-color="#ebebeb"/></linearGradient><linearGradient id="s50"><stop offset="0.000" stop-color="#191919"/><stop offset="0.103" stop-color="#2b2b2b"/><stop offset="0.145" stop-color="#303030"/><stop offset="0.174" stop-color="#363636"/><stop offset="0.186" stop-color="#474747"/><stop offset="0.225" stop-color="#4c4c4c"/><stop offset="0.239" stop-color="#545454"/><stop offset="0.249" stop-color="#616161"/><stop offset="0.298" stop-color="#6b6b6b"/><stop offset="0.310" stop-color="#808080"/><stop offset="0.371" stop-color="#8c8c8c"/><stop offset="0.393" stop-color="#949494"/><stop offset="0.403" stop-color="#9e9e9e"/><stop offset="0.465" stop-color="#a6a6a6"/><stop offset="0.480" stop-color="#b8b8b8"/><stop offset="0.558" stop-color="#c2c2c2"/><stop offset="0.571" stop-color="#d6d6d6"/><stop offset="0.729" stop-color="#dbdbdb"/><stop offset="0.826" stop-color="#e0e0e0"/><stop offset="1.000" stop-color="#ececec"/></linearGradient><linearGradient id="s51"><stop offset="0.000" stop-color="#191919"/><stop offset="0.103" stop-color="#2b2b2b"/><stop offset="0.142" stop-color="#303030"/><stop offset="0.169" stop-color="#363636"/><stop offset="0.182" stop-color="#474747"/><stop offset="0.239" stop-color="#4c4c4c"/><stop offset="0.254" stop-color="#616161"/><stop offset="0.298" stop-color="#6b6b6b"/><stop offset="0.309" stop-color="#808080"/><stop offset="0.365" stop-color="#8c8c8c"/><stop offset="0.388" stop-color="#949494"/><stop offset="0.398" stop-color="#9e9e9e"/><stop offset="0.455" stop-color="#a6a6a6"/><stop offset="0.470" stop-color="#b8b8b8"/><stop offset="0.543" stop-color="#c2c2c2"/><stop offset="0.557" stop-color="#d6d6d6"/><stop offset="0.809" stop-color="#e0e0e0"/><stop offset="1.000" stop-color="#eeeeee"/></linearGradient><linearGradient id="s52"><stop offset="0.000" stop-color="#202020"/><stop offset="0.128" stop-color="#363636"/><stop offset="0.171" stop-color="#474747"/><stop offset="0.220" stop-color="#4c4c4c"/><stop offset="0.235" stop-color="#616161"/><stop offset="0.298" stop-color="#6b6b6b"/><stop offset="0.309" stop-color="#808080"/><stop offset="0.365" stop-color="#8c8c8c"/><stop offset="0.388" stop-color="#949494"/><stop offset="0.398" stop-color="#9e9e9e"/><stop offset="0.451" stop-color="#a6a6a6"/><stop offset="0.465" stop-color="#b8b8b8"/><stop offset="0.538" stop-color="#c2c2c2"/><stop offset="0.551" stop-color="#d6d6d6"/><stop offset="0.805" stop-color="#e0e0e0"/><stop offset="1.000" stop-color="#eeeeee"/></linearGradient><linearGradient id="s53"><stop offset="0.000" stop-color="#272727"/><stop offset="0.086" stop-color="#363636"/><stop offset="0.161" stop-color="#474747"/><stop offset="0.201" stop-color="#4c4c4c"/><stop offset="0.216" stop-color="#616161"/><stop offset="0.298" stop-color="#6b6b6b"/><stop offset="0.309" stop-color="#808080"/><stop offset="0.365" stop-color="#8c8c8c"/><stop offset="0.388" stop-color="#949494"/><stop offset="0.398" stop-color="#9e9e9e"/><stop offset="0.446" stop-color="#a6a6a6"/><stop offset="0.460" stop-color="#b8b8b8"/><stop offset="0.534" stop-color="#c2c2c2"/><stop offset="0.546" stop-color="#d6d6d6"/><stop offset="0.800" stop-color="#e0e0e0"/><stop offset="1.000" stop-color="#eeeeee"/></linearGradient><linearGradient id="s54"><stop offset="0.000" stop-color="#2e2e2e"/><stop offset="0.182" stop-color="#4c4c4c"/><stop offset="0.197" stop-color="#616161"/><stop offset="0.298" stop-color="#6b6b6b"/><stop offset="0.309" stop-color="#808080"/><stop offset="0.365" stop-color="#8c8c8c"/><stop offset="0.388" stop-color="#949494"/><stop offset="0.398" stop-color="#9e9e9e"/><stop offset="0.442" stop-color="#a6a6a6"/><stop offset="0.455" stop-color="#b8b8b8"/><stop offset="0.529" stop-color="#c2c2c2"/><stop offset="0.540" stop-color="#d6d6d6"/><stop offset="0.796" stop-color="#e0e0e0"/><stop offset="1.000" stop-color="#efefef"/></linearGradient><linearGradient id="s55"><stop offset="0.000" stop-color="#2a2a2a"/><stop offset="0.159" stop-color="#474747"/><stop offset="0.176" stop-color="#4c4c4c"/><stop offset="0.189" stop-color="#616161"/><stop offset="0.305" stop-color="#6b6b6b"/><stop offset="0.315" stop-color="#808080"/><stop offset="0.367" stop-color="#949494"/><stop offset="0.384" stop-color="#9e9e9e"/><stop offset="0.408" stop-color="#a6a6a6"/><stop offset="0.419" stop-color="#b8b8b8"/><stop offset="0.492" stop-color="#c2c2c2"/><stop offset="0.505" stop-color="#d6d6d6"/><stop offset="0.781" stop-color="#e0e0e0"/><stop offset="1.000" stop-color="#f0f0f0"/></linearGradient><linearGradient id="s56"><stop offset="0.000" stop-color="#252525"/><stop offset="0.167" stop-color="#474747"/><stop offset="0.182" stop-color="#616161"/><stop offset="0.311" stop-color="#6b6b6b"/><stop offset="0.326" stop-color="#8c8c8c"/><stop offset="0.370" stop-color="#9e9e9e"/><stop offset="0.383" stop-color="#b8b8b8"/><stop offset="0.455" stop-color="#c2c2c2"/><stop offset="0.470" stop-color="#d6d6d6"/><stop offset="0.767" stop-color="#e0e0e0"/><stop offset="1.000" stop-color="#f1f1f1"/></linearGradient><linearGradient id="s57"><stop offset="0.000" stop-color="#292929"/><stop offset="0.156" stop-color="#474747"/><stop offset="0.169" stop-color="#4c4c4c"/><stop offset="0.182" stop-color="#616161"/><stop offset="0.316" stop-color="#6b6b6b"/><stop offset="0.330" stop-color="#8c8c8c"/><stop offset="0.343" stop-color="#949494"/><stop offset="0.370" stop-color="#9e9e9e"/><stop offset="0.383" stop-color="#b8b8b8"/><stop offset="0.451" stop-color="#c2c2c2"/><stop offset="0.465" stop-color="#d6d6d6"/><stop offset="0.754" stop-color="#e0e0e0"/><stop offset="1.000" stop-color="#f1f1f1"/></linearGradient><linearGradient id="s58"><stop offset="0.000" stop-color="#2d2d2d"/><stop offset="0.168" stop-color="#4c4c4c"/><stop offset="0.182" stop-color="#616161"/><stop offset="0.321" stop-color="#6b6b6b"/><stop offset="0.334" stop-color="#8c8c8c"/><stop offset="0.342" stop-color="#949494"/><stop offset="0.370" stop-color="#9e9e9e"/><stop offset="0.383" stop-color="#b8b8b8"/><stop offset="0.446" stop-color="#c2c2c2"/><stop offset="0.459" stop-color="#d6d6d6"/><stop offset="0.742" stop-color="#e0e0e0"/><stop offset="1.000" stop-color="#f2f2f2"/></linearGradient><linearGradient id="s59"><stop offset="0.000" stop-color="#303030"/><stop offset="0.167" stop-color="#4c4c4c"/><stop offset="0.182" stop-color="#616161"/><stop offset="0.326" stop-color="#6b6b6b"/><stop offset="0.341" stop-color="#949494"/><stop offset="0.370" stop-color="#9e9e9e"/><stop offset="0.383" stop-color="#b8b8b8"/><stop offset="0.442" stop-color="#c2c2c2"/><stop offset="0.454" stop-color="#d6d6d6"/><stop offset="0.547" stop-color="#dbdbdb"/><stop offset="0.730" stop-color="#e0e0e0"/><stop offset="1.000" stop-color="#f3f3f3"/></linearGradient><linearGradient id="s60"><stop offset="0.000" stop-color="#303030"/><stop offset="0.172" stop-color="#4c4c4c"/><stop offset="0.187" stop-color="#616161"/><stop offset="0.331" stop-color="#6b6b6b"/><stop offset="0.346" stop-color="#949494"/><stop offset="0.374" stop-color="#9e9e9e"/><stop offset="0.388" stop-color="#b8b8b8"/><stop offset="0.446" stop-color="#c2c2c2"/><stop offset="0.459" stop-color="#d6d6d6"/><stop offset="0.560" stop-color="#dbdbdb"/><stop offset="0.732" stop-color="#e0e0e0"/><stop offset="1.000" stop-color="#f3f3f3"/></linearGradient><linearGradient id="s61"><stop offset="0.000" stop-color="#303030"/><stop offset="0.137" stop-color="#474747"/><stop offset="0.177" stop-color="#4c4c4c"/><stop offset="0.192" stop-color="#616161"/><stop offset="0.336" stop-color="#6b6b6b"/><stop offset="0.350" stop-color="#949494"/><stop offset="0.379" stop-color="#9e9e9e"/><stop offset="0.393" stop-color="#b8b8b8"/><stop offset="0.451" stop-color="#c2c2c2"/><stop offset="0.463" stop-color="#d6d6d6"/><stop offset="0.572" stop-color="#dbdbdb"/><stop offset="0.735" stop-color="#e0e0e0"/><stop offset="1.000" stop-color="#f3f3f3"/></linearGradient><linearGradient id="s62"><stop offset="0.000" stop-color="#303030"/><stop offset="0.139" stop-color="#474747"/><stop offset="0.182" stop-color="#4c4c4c"/><stop offset="0.197" stop-color="#616161"/><stop offset="0.341" stop-color="#6b6b6b"/><stop offset="0.355" stop-color="#949494"/><stop offset="0.383" stop-color="#9e9e9e"/><stop offset="0.398" stop-color="#b8b8b8"/><stop offset="0.455" stop-color="#c2c2c2"/><stop offset="0.468" stop-color="#d6d6d6"/><stop offset="0.737" stop-color="#e0e0e0"/><stop offset="1.000" stop-color="#f3f3f3"/></linearGradient><linearGradient id="s63"><stop offset="0.000" stop-color="#303030"/><stop offset="0.141" stop-color="#474747"/><stop offset="0.189" stop-color="#4c4c4c"/><stop offset="0.204" stop-color="#616161"/><stop offset="0.362" stop-color="#6b6b6b"/><stop offset="0.377" stop-color="#949494"/><stop offset="0.405" stop-color="#9e9e9e"/><stop offset="0.420" stop-color="#b8b8b8"/><stop offset="0.470" stop-color="#c2c2c2"/><stop offset="0.483" stop-color="#d6d6d6"/><stop offset="0.716" stop-color="#e0e0e0"/><stop offset="1.000" stop-color="#f4f4f4"/></linearGradient><linearGradient id="s64"><stop offset="0.000" stop-color="#303030"/><stop offset="0.073" stop-color="#3d3d3d"/><stop offset="0.144" stop-color="#474747"/><stop offset="0.197" stop-color="#4c4c4c"/><stop offset="0.211" stop-color="#616161"/><stop offset="0.383" stop-color="#6b6b6b"/><stop offset="0.398" stop-color="#949494"/><stop offset="0.427" stop-color="#9e9e9e"/><stop offset="0.442" stop-color="#b8b8b8"/><stop offset="0.485" stop-color="#c2c2c2"/><stop offset="0.498" stop-color="#d6d6d6"/><stop offset="0.579" stop-color="#dbdbdb"/><stop offset="0.695" stop-color="#e0e0e0"/><stop offset="1.000" stop-color="#f6f6f6"/></linearGradient><linearGradient id="s65"><stop offset="0.000" stop-color="#303030"/><stop offset="0.073" stop-color="#3d3d3d"/><stop offset="0.146" stop-color="#474747"/><stop offset="0.202" stop-color="#4c4c4c"/><stop offset="0.216" stop-color="#616161"/><stop offset="0.388" stop-color="#6b6b6b"/><stop offset="0.403" stop-color="#949494"/><stop offset="0.432" stop-color="#9e9e9e"/><stop offset="0.446" stop-color="#b8b8b8"/><stop offset="0.494" stop-color="#c2c2c2"/><stop offset="0.508" stop-color="#d6d6d6"/><stop offset="0.709" stop-color="#e0e0e0"/><stop offset="1.000" stop-color="#f5f5f5"/></linearGradient><linearGradient id="s66"><stop offset="0.000" stop-color="#303030"/><stop offset="0.073" stop-color="#3d3d3d"/><stop offset="0.147" stop-color="#474747"/><stop offset="0.207" stop-color="#4c4c4c"/><stop offset="0.221" stop-color="#616161"/><stop offset="0.393" stop-color="#6b6b6b"/><stop offset="0.408" stop-color="#949494"/><stop offset="0.437" stop-color="#9e9e9e"/><stop offset="0.451" stop-color="#b8b8b8"/><stop offset="0.504" stop-color="#c2c2c2"/><stop offset="0.518" stop-color="#d6d6d6"/><stop offset="0.636" stop-color="#dbdbdb"/><stop offset="1.000" stop-color="#f4f4f4"/></linearGradient><linearGradient id="s67"><stop offset="0.000" stop-color="#303030"/><stop offset="0.073" stop-color="#3d3d3d"/><stop offset="0.149" stop-color="#474747"/><stop offset="0.211" stop-color="#4c4c4c"/><stop offset="0.226" stop-color="#616161"/><stop offset="0.398" stop-color="#6b6b6b"/><stop offset="0.413" stop-color="#949494"/><stop offset="0.442" stop-color="#9e9e9e"/><stop offset="0.455" stop-color="#b8b8b8"/><stop offset="0.514" stop-color="#c2c2c2"/><stop offset="0.529" stop-color="#d6d6d6"/><stop offset="0.665" stop-color="#dbdbdb"/><stop offset="1.000" stop-color="#f3f3f3"/></linearGradient><linearGradient id="s68"><stop offset="0.000" stop-color="#303030"/><stop offset="0.073" stop-color="#3d3d3d"/><stop offset="0.150" stop-color="#474747"/><stop offset="0.216" stop-color="#4c4c4c"/><stop offset="0.231" stop-color="#616161"/><stop offset="0.403" stop-color="#6b6b6b"/><stop offset="0.417" stop-color="#949494"/><stop offset="0.444" stop-color="#9e9e9e"/><stop offset="0.455" stop-color="#a6a6a6"/><stop offset="0.465" stop-color="#b8b8b8"/><stop offset="0.528" stop-color="#c2c2c2"/><stop offset="0.543" stop-color="#d6d6d6"/><stop offset="0.673" stop-color="#dbdbdb"/><stop offset="1.000" stop-color="#f2f2f2"/></linearGradient><linearGradient id="s69"><stop offset="0.000" stop-color="#303030"/><stop offset="0.073" stop-color="#3d3d3d"/><stop offset="0.152" stop-color="#474747"/><stop offset="0.221" stop-color="#4c4c4c"/><stop offset="0.235" stop-color="#616161"/><stop offset="0.408" stop-color="#6b6b6b"/><stop offset="0.421" stop-color="#949494"/><stop offset="0.463" stop-color="#a6a6a6"/><stop offset="0.475" stop-color="#b8b8b8"/><stop offset="0.542" stop-color="#c2c2c2"/><stop offset="0.557" stop-color="#d6d6d6"/><stop offset="0.680" stop-color="#dbdbdb"/><stop offset="1.000" stop-color="#f2f2f2"/></linearGradient><linearGradient id="s70"><stop offset="0.000" stop-color="#303030"/><stop offset="0.073" stop-color="#3d3d3d"/><stop offset="0.154" stop-color="#474747"/><stop offset="0.226" stop-color="#4c4c4c"/><stop offset="0.239" stop-color="#616161"/><stop offset="0.413" stop-color="#6b6b6b"/><stop offset="0.426" stop-color="#949494"/><stop offset="0.449" stop-color="#9e9e9e"/><stop offset="0.472" stop-color="#a6a6a6"/><stop offset="0.485" stop-color="#b8b8b8"/><stop offset="0.557" stop-color="#c2c2c2"/><stop offset="0.571" stop-color="#d6d6d6"/><stop offset="0.687" stop-color="#dbdbdb"/><stop offset="1.000" stop-color="#f1f1f1"/></linearGradient><linearGradient id="s71"><stop offset="0.000" stop-color="#2a2a2a"/><stop offset="0.114" stop-color="#3d3d3d"/><stop offset="0.229" stop-color="#4c4c4c"/><stop offset="0.247" stop-color="#616161"/><stop offset="0.427" stop-color="#6b6b6b"/><stop offset="0.440" stop-color="#949494"/><stop offset="0.463" stop-color="#9e9e9e"/><stop offset="0.486" stop-color="#a6a6a6"/><stop offset="0.499" stop-color="#b8b8b8"/><stop offset="0.564" stop-color="#c2c2c2"/><stop offset="0.579" stop-color="#d6d6d6"/><stop offset="0.694" stop-color="#dbdbdb"/><stop offset="1.000" stop-color="#f1f1f1"/></linearGradient><linearGradient id="s72"><stop offset="0.000" stop-color="#242424"/><stop offset="0.103" stop-color="#363636"/><stop offset="0.226" stop-color="#474747"/><stop offset="0.254" stop-color="#616161"/><stop offset="0.442" stop-color="#6b6b6b"/><stop offset="0.454" stop-color="#949494"/><stop offset="0.477" stop-color="#9e9e9e"/><stop offset="0.501" stop-color="#a6a6a6"/><stop offset="0.514" stop-color="#b8b8b8"/><stop offset="0.571" stop-color="#c2c2c2"/><stop offset="0.586" stop-color="#d6d6d6"/><stop offset="0.700" stop-color="#dbdbdb"/><stop offset="1.000" stop-color="#f0f0f0"/></linearGradient><linearGradient id="s73"><stop offset="0.000" stop-color="#212121"/><stop offset="0.088" stop-color="#303030"/><stop offset="0.148" stop-color="#363636"/><stop offset="0.263" stop-color="#4c4c4c"/><stop offset="0.283" stop-color="#616161"/><stop offset="0.446" stop-color="#6b6b6b"/><stop offset="0.462" stop-color="#949494"/><stop offset="0.480" stop-color="#9e9e9e"/><stop offset="0.510" stop-color="#a6a6a6"/><stop offset="0.524" stop-color="#b8b8b8"/><stop offset="0.571" stop-color="#c2c2c2"/><stop offset="0.586" stop-color="#d6d6d6"/><stop offset="0.700" stop-color="#dbdbdb"/><stop offset="1.000" stop-color="#f0f0f0"/></linearGradient><linearGradient id="s74"><stop offset="0.000" stop-color="#1f1f1f"/><stop offset="0.103" stop-color="#303030"/><stop offset="0.194" stop-color="#363636"/><stop offset="0.245" stop-color="#474747"/><stop offset="0.295" stop-color="#4c4c4c"/><stop offset="0.312" stop-color="#616161"/><stop offset="0.451" stop-color="#6b6b6b"/><stop offset="0.470" stop-color="#949494"/><stop offset="0.482" stop-color="#9e9e9e"/><stop offset="0.519" stop-color="#a6a6a6"/><stop offset="0.534" stop-color="#b8b8b8"/><stop offset="0.571" stop-color="#c2c2c2"/><stop offset="0.586" stop-color="#d6d6d6"/><stop offset="0.700" stop-color="#dbdbdb"/><stop offset="1.000" stop-color="#f0f0f0"/></linearGradient><linearGradient id="s75"><stop offset="0.000" stop-color="#1c1c1c"/><stop offset="0.117" stop-color="#303030"/><stop offset="0.239" stop-color="#363636"/><stop offset="0.254" stop-color="#474747"/><stop offset="0.326" stop-color="#4c4c4c"/><stop offset="0.341" stop-color="#616161"/><stop offset="0.455" stop-color="#6b6b6b"/><stop offset="0.485" stop-color="#9e9e9e"/><stop offset="0.529" stop-color="#a6a6a6"/><stop offset="0.543" stop-color="#b8b8b8"/><stop offset="0.571" stop-color="#c2c2c2"/><stop offset="0.586" stop-color="#d6d6d6"/><stop offset="0.700" stop-color="#dbdbdb"/><stop offset="1.000" stop-color="#f0f0f0"/></linearGradient><linearGradient id="s76"><stop offset="0.000" stop-color="#1a1a1a"/><stop offset="0.098" stop-color="#2b2b2b"/><stop offset="0.245" stop-color="#363636"/><stop offset="0.259" stop-color="#474747"/><stop offset="0.336" stop-color="#4c4c4c"/><stop offset="0.350" stop-color="#616161"/><stop offset="0.455" stop-color="#6b6b6b"/><stop offset="0.485" stop-color="#9e9e9e"/><stop offset="0.529" stop-color="#a6a6a6"/><stop offset="0.543" stop-color="#b8b8b8"/><stop offset="0.571" stop-color="#c2c2c2"/><stop offset="0.586" stop-color="#d6d6d6"/><stop offset="0.705" stop-color="#dbdbdb"/><stop offset="1.000" stop-color="#f0f0f0"/></linearGradient><linearGradient id="s77"><stop offset="0.000" stop-color="#191919"/><stop offset="0.108" stop-color="#2b2b2b"/><stop offset="0.209" stop-color="#303030"/><stop offset="0.251" stop-color="#363636"/><stop offset="0.264" stop-color="#474747"/><stop offset="0.346" stop-color="#4c4c4c"/><stop offset="0.360" stop-color="#616161"/><stop offset="0.455" stop-color="#6b6b6b"/><stop offset="0.485" stop-color="#9e9e9e"/><stop offset="0.529" stop-color="#a6a6a6"/><stop offset="0.543" stop-color="#b8b8b8"/><stop offset="0.571" stop-color="#c2c2c2"/><stop offset="0.586" stop-color="#d6d6d6"/><stop offset="0.710" stop-color="#dbdbdb"/><stop offset="1.000" stop-color="#efefef"/></linearGradient><linearGradient id="s78"><stop offset="0.000" stop-color="#171717"/><stop offset="0.117" stop-color="#2b2b2b"/><stop offset="0.254" stop-color="#303030"/><stop offset="0.269" stop-color="#474747"/><stop offset="0.355" stop-color="#4c4c4c"/><stop offset="0.370" stop-color="#616161"/><stop offset="0.455" stop-color="#6b6b6b"/><stop offset="0.485" stop-color="#9e9e9e"/><stop offset="0.529" stop-color="#a6a6a6"/><stop offset="0.543" stop-color="#b8b8b8"/><stop offset="0.571" stop-color="#c2c2c2"/><stop offset="0.586" stop-color="#d6d6d6"/><stop offset="0.715" stop-color="#dbdbdb"/><stop offset="1.000" stop-color="#efefef"/></linearGradient><linearGradient id="s79"><stop offset="0.000" stop-color="#0b0b0b"/><stop offset="0.051" stop-color="#141414"/><stop offset="0.098" stop-color="#171717"/><stop offset="0.164" stop-color="#2b2b2b"/><stop offset="0.290" stop-color="#303030"/><stop offset="0.305" stop-color="#474747"/><stop offset="0.369" stop-color="#4c4c4c"/><stop offset="0.384" stop-color="#616161"/><stop offset="0.455" stop-color="#6b6b6b"/><stop offset="0.477" stop-color="#9e9e9e"/><stop offset="0.514" stop-color="#a6a6a6"/><stop offset="0.529" stop-color="#b8b8b8"/><stop offset="0.564" stop-color="#c2c2c2"/><stop offset="0.579" stop-color="#d6d6d6"/><stop offset="0.722" stop-color="#dbdbdb"/><stop offset="1.000" stop-color="#efefef"/></linearGradient><linearGradient id="s80"><stop offset="0.000" stop-color="#000000"/><stop offset="0.117" stop-color="#141414"/><stop offset="0.197" stop-color="#171717"/><stop offset="0.210" stop-color="#2b2b2b"/><stop offset="0.326" stop-color="#303030"/><stop offset="0.341" stop-color="#474747"/><stop offset="0.383" stop-color="#4c4c4c"/><stop offset="0.398" stop-color="#616161"/><stop offset="0.455" stop-color="#6b6b6b"/><stop offset="0.470" stop-color="#9e9e9e"/><stop offset="0.499" stop-color="#a6a6a6"/><stop offset="0.514" stop-color="#b8b8b8"/><stop offset="0.557" stop-color="#c2c2c2"/><stop offset="0.571" stop-color="#d6d6d6"/><stop offset="0.730" stop-color="#dbdbdb"/><stop offset="1.000" stop-color="#eeeeee"/></linearGradient><linearGradient id="s81"><stop offset="0.000" stop-color="#000000"/><stop offset="0.117" stop-color="#141414"/><stop offset="0.211" stop-color="#171717"/><stop offset="0.224" stop-color="#2b2b2b"/><stop offset="0.321" stop-color="#303030"/><stop offset="0.336" stop-color="#474747"/><stop offset="0.379" stop-color="#4c4c4c"/><stop offset="0.392" stop-color="#616161"/><stop offset="0.451" stop-color="#6b6b6b"/><stop offset="0.465" stop-color="#9e9e9e"/><stop offset="0.494" stop-color="#a6a6a6"/><stop offset="0.509" stop-color="#b8b8b8"/><stop offset="0.552" stop-color="#c2c2c2"/><stop offset="0.566" stop-color="#d6d6d6"/><stop offset="0.749" stop-color="#dbdbdb"/><stop offset="1.000" stop-color="#ededed"/></linearGradient><linearGradient id="s82"><stop offset="0.000" stop-color="#000000"/><stop offset="0.117" stop-color="#141414"/><stop offset="0.225" stop-color="#171717"/><stop offset="0.238" stop-color="#2b2b2b"/><stop offset="0.316" stop-color="#303030"/><stop offset="0.331" stop-color="#474747"/><stop offset="0.374" stop-color="#4c4c4c"/><stop offset="0.386" stop-color="#616161"/><stop offset="0.446" stop-color="#6b6b6b"/><stop offset="0.460" stop-color="#9e9e9e"/><stop offset="0.489" stop-color="#a6a6a6"/><stop offset="0.504" stop-color="#b8b8b8"/><stop offset="0.547" stop-color="#c2c2c2"/><stop offset="0.561" stop-color="#d6d6d6"/><stop offset="0.768" stop-color="#dbdbdb"/><stop offset="1.000" stop-color="#ebebeb"/></linearGradient><linearGradient id="s83"><stop offset="0.000" stop-color="#000000"/><stop offset="0.117" stop-color="#141414"/><stop offset="0.239" stop-color="#171717"/><stop offset="0.252" stop-color="#2b2b2b"/><stop offset="0.311" stop-color="#303030"/><stop offset="0.326" stop-color="#474747"/><stop offset="0.370" stop-color="#4c4c4c"/><stop offset="0.381" stop-color="#616161"/><stop offset="0.442" stop-color="#6b6b6b"/><stop offset="0.455" stop-color="#9e9e9e"/><stop offset="0.485" stop-color="#a6a6a6"/><stop offset="0.499" stop-color="#b8b8b8"/><stop offset="0.542" stop-color="#c2c2c2"/><stop offset="0.557" stop-color="#d6d6d6"/><stop offset="0.787" stop-color="#dbdbdb"/><stop offset="1.000" stop-color="#eaeaea"/></linearGradient><linearGradient id="s84"><stop offset="0.000" stop-color="#000000"/><stop offset="0.117" stop-color="#141414"/><stop offset="0.225" stop-color="#171717"/><stop offset="0.237" stop-color="#2b2b2b"/><stop offset="0.309" stop-color="#363636"/><stop offset="0.321" stop-color="#474747"/><stop offset="0.365" stop-color="#4c4c4c"/><stop offset="0.376" stop-color="#616161"/><stop offset="0.437" stop-color="#6b6b6b"/><stop offset="0.451" stop-color="#9e9e9e"/><stop offset="0.480" stop-color="#a6a6a6"/><stop offset="0.494" stop-color="#b8b8b8"/><stop offset="0.537" stop-color="#c2c2c2"/><stop offset="0.552" stop-color="#d6d6d6"/><stop offset="0.799" stop-color="#dbdbdb"/><stop offset="1.000" stop-color="#e9e9e9"/></linearGradient><linearGradient id="s85"><stop offset="0.000" stop-color="#000000"/><stop offset="0.117" stop-color="#141414"/><stop offset="0.211" stop-color="#171717"/><stop offset="0.222" stop-color="#2b2b2b"/><stop offset="0.244" stop-color="#303030"/><stop offset="0.304" stop-color="#363636"/><stop offset="0.316" stop-color="#474747"/><stop offset="0.360" stop-color="#4c4c4c"/><stop offset="0.372" stop-color="#616161"/><stop offset="0.432" stop-color="#6b6b6b"/><stop offset="0.446" stop-color="#9e9e9e"/><stop offset="0.475" stop-color="#a6a6a6"/><stop offset="0.489" stop-color="#b8b8b8"/><stop offset="0.533" stop-color="#c2c2c2"/><stop offset="0.548" stop-color="#d6d6d6"/><stop offset="0.812" stop-color="#dbdbdb"/><stop offset="1.000" stop-color="#e8e8e8"/></linearGradient><linearGradient id="s86"><stop offset="0.000" stop-color="#000000"/><stop offset="0.117" stop-color="#141414"/><stop offset="0.197" stop-color="#171717"/><stop offset="0.210" stop-color="#303030"/><stop offset="0.298" stop-color="#363636"/><stop offset="0.311" stop-color="#474747"/><stop offset="0.355" stop-color="#4c4c4c"/><stop offset="0.367" stop-color="#616161"/><stop offset="0.427" stop-color="#6b6b6b"/><stop offset="0.442" stop-color="#9e9e9e"/><stop offset="0.470" stop-color="#a6a6a6"/><stop offset="0.485" stop-color="#b8b8b8"/><stop offset="0.529" stop-color="#c2c2c2"/><stop offset="0.543" stop-color="#d6d6d6"/><stop offset="0.824" stop-color="#dbdbdb"/><stop offset="1.000" stop-color="#e8e8e8"/></linearGradient><linearGradient id="s87"><stop offset="0.000" stop-color="#000000"/><stop offset="0.117" stop-color="#141414"/><stop offset="0.197" stop-color="#171717"/><stop offset="0.210" stop-color="#303030"/><stop offset="0.298" stop-color="#363636"/><stop offset="0.309" stop-color="#474747"/><stop offset="0.332" stop-color="#4c4c4c"/><stop offset="0.347" stop-color="#545454"/><stop offset="0.364" stop-color="#616161"/><stop offset="0.397" stop-color="#6b6b6b"/><stop offset="0.400" stop-color="#737373"/><stop offset="0.423" stop-color="#808080"/><stop offset="0.435" stop-color="#9e9e9e"/><stop offset="0.463" stop-color="#a6a6a6"/><stop offset="0.477" stop-color="#b8b8b8"/><stop offset="0.521" stop-color="#c2c2c2"/><stop offset="0.532" stop-color="#cccccc"/><stop offset="0.687" stop-color="#d6d6d6"/><stop offset="0.864" stop-color="#dbdbdb"/><stop offset="1.000" stop-color="#e5e5e5"/></linearGradient><linearGradient id="s88"><stop offset="0.000" stop-color="#000000"/><stop offset="0.117" stop-color="#141414"/><stop offset="0.197" stop-color="#171717"/><stop offset="0.210" stop-color="#303030"/><stop offset="0.298" stop-color="#363636"/><stop offset="0.309" stop-color="#4c4c4c"/><stop offset="0.333" stop-color="#545454"/><stop offset="0.361" stop-color="#616161"/><stop offset="0.370" stop-color="#737373"/><stop offset="0.413" stop-color="#808080"/><stop offset="0.427" stop-color="#9e9e9e"/><stop offset="0.455" stop-color="#a6a6a6"/><stop offset="0.470" stop-color="#b8b8b8"/><stop offset="0.514" stop-color="#c2c2c2"/><stop offset="0.529" stop-color="#cccccc"/><stop offset="0.831" stop-color="#d6d6d6"/><stop offset="1.000" stop-color="#e2e2e2"/></linearGradient><linearGradient id="s89"><stop offset="0.000" stop-color="#000000"/><stop offset="0.117" stop-color="#141414"/><stop offset="0.200" stop-color="#171717"/><stop offset="0.214" stop-color="#303030"/><stop offset="0.291" stop-color="#363636"/><stop offset="0.305" stop-color="#3d3d3d"/><stop offset="0.311" stop-color="#4c4c4c"/><stop offset="0.330" stop-color="#545454"/><stop offset="0.352" stop-color="#616161"/><stop offset="0.366" stop-color="#737373"/><stop offset="0.400" stop-color="#808080"/><stop offset="0.407" stop-color="#8c8c8c"/><stop offset="0.416" stop-color="#949494"/><stop offset="0.425" stop-color="#9e9e9e"/><stop offset="0.448" stop-color="#a6a6a6"/><stop offset="0.472" stop-color="#b8b8b8"/><stop offset="0.512" stop-color="#c2c2c2"/><stop offset="0.530" stop-color="#cccccc"/><stop offset="0.833" stop-color="#d6d6d6"/><stop offset="1.000" stop-color="#e2e2e2"/></linearGradient><linearGradient id="s90"><stop offset="0.000" stop-color="#000000"/><stop offset="0.117" stop-color="#141414"/><stop offset="0.204" stop-color="#171717"/><stop offset="0.217" stop-color="#303030"/><stop offset="0.283" stop-color="#363636"/><stop offset="0.307" stop-color="#3d3d3d"/><stop offset="0.314" stop-color="#4c4c4c"/><stop offset="0.327" stop-color="#545454"/><stop offset="0.343" stop-color="#616161"/><stop offset="0.363" stop-color="#737373"/><stop offset="0.388" stop-color="#808080"/><stop offset="0.394" stop-color="#8c8c8c"/><stop offset="0.409" stop-color="#949494"/><stop offset="0.422" stop-color="#9e9e9e"/><stop offset="0.440" stop-color="#a6a6a6"/><stop offset="0.474" stop-color="#b8b8b8"/><stop offset="0.510" stop-color="#c2c2c2"/><stop offset="0.532" stop-color="#cccccc"/><stop offset="0.834" stop-color="#d6d6d6"/><stop offset="1.000" stop-color="#e2e2e2"/></linearGradient><linearGradient id="s91"><stop offset="0.000" stop-color="#000000"/><stop offset="0.117" stop-color="#141414"/><stop offset="0.208" stop-color="#171717"/><stop offset="0.221" stop-color="#303030"/><stop offset="0.276" stop-color="#363636"/><stop offset="0.310" stop-color="#3d3d3d"/><stop offset="0.316" stop-color="#4c4c4c"/><stop offset="0.324" stop-color="#545454"/><stop offset="0.335" stop-color="#616161"/><stop offset="0.375" stop-color="#808080"/><stop offset="0.382" stop-color="#8c8c8c"/><stop offset="0.402" stop-color="#949494"/><stop offset="0.432" stop-color="#a6a6a6"/><stop offset="0.475" stop-color="#b8b8b8"/><stop offset="0.508" stop-color="#c2c2c2"/><stop offset="0.534" stop-color="#cccccc"/><stop offset="0.836" stop-color="#d6d6d6"/><stop offset="1.000" stop-color="#e2e2e2"/></linearGradient><linearGradient id="s92"><stop offset="0.000" stop-color="#000000"/><stop offset="0.117" stop-color="#141414"/><stop offset="0.211" stop-color="#171717"/><stop offset="0.225" stop-color="#303030"/><stop offset="0.269" stop-color="#363636"/><stop offset="0.313" stop-color="#3d3d3d"/><stop offset="0.326" stop-color="#616161"/><stop offset="0.355" stop-color="#737373"/><stop offset="0.370" stop-color="#8c8c8c"/><stop offset="0.396" stop-color="#949494"/><stop offset="0.418" stop-color="#9e9e9e"/><stop offset="0.425" stop-color="#a6a6a6"/><stop offset="0.536" stop-color="#cccccc"/><stop offset="0.837" stop-color="#d6d6d6"/><stop offset="1.000" stop-color="#e2e2e2"/></linearGradient><linearGradient id="s93"><stop offset="0.000" stop-color="#000000"/><stop offset="0.117" stop-color="#141414"/><stop offset="0.211" stop-color="#171717"/><stop offset="0.225" stop-color="#303030"/><stop offset="0.269" stop-color="#363636"/><stop offset="0.313" stop-color="#3d3d3d"/><stop offset="0.326" stop-color="#616161"/><stop offset="0.355" stop-color="#737373"/><stop offset="0.370" stop-color="#8c8c8c"/><stop offset="0.396" stop-color="#949494"/><stop offset="0.418" stop-color="#9e9e9e"/><stop offset="0.425" stop-color="#a6a6a6"/><stop offset="0.536" stop-color="#cccccc"/><stop offset="0.837" stop-color="#d6d6d6"/><stop offset="1.000" stop-color="#e2e2e2"/></linearGradient><linearGradient id="s94"><stop offset="0.000" stop-color="#000000"/><stop offset="0.117" stop-color="#141414"/><stop offset="0.211" stop-color="#171717"/><stop offset="0.225" stop-color="#303030"/><stop offset="0.269" stop-color="#363636"/><stop offset="0.313" stop-color="#3d3d3d"/><stop offset="0.326" stop-color="#616161"/><stop offset="0.355" stop-color="#737373"/><stop offset="0.370" stop-color="#8c8c8c"/><stop offset="0.396" stop-color="#949494"/><stop offset="0.418" stop-color="#9e9e9e"/><stop offset="0.425" stop-color="#a6a6a6"/><stop offset="0.536" stop-color="#cccccc"/><stop offset="0.837" stop-color="#d6d6d6"/><stop offset="1.000" stop-color="#e2e2e2"/></linearGradient><linearGradient id="s95"><stop offset="0.000" stop-color="#000000"/><stop offset="0.117" stop-color="#141414"/><stop offset="0.211" stop-color="#171717"/><stop offset="0.225" stop-color="#303030"/><stop offset="0.269" stop-color="#363636"/><stop offset="0.313" stop-color="#3d3d3d"/><stop offset="0.326" stop-color="#616161"/><stop offset="0.355" stop-color="#737373"/><stop offset="0.370" stop-color="#8c8c8c"/><stop offset="0.396" stop-color="#949494"/><stop offset="0.418" stop-color="#9e9e9e"/><stop offset="0.425" stop-color="#a6a6a6"/><stop offset="0.536" stop-color="#cccccc"/><stop offset="0.837" stop-color="#d6d6d6"/><stop offset="1.000" stop-color="#e2e2e2"/></linearGradient><linearGradient id="s96"><stop offset="0.000" stop-color="#000000"/><stop offset="0.117" stop-color="#141414"/><stop offset="0.211" stop-color="#171717"/><stop offset="0.225" stop-color="#303030"/><stop offset="0.269" stop-color="#363636"/><stop offset="0.313" stop-color="#3d3d3d"/><stop offset="0.326" stop-color="#616161"/><stop offset="0.355" stop-color="#737373"/><stop offset="0.370" stop-color="#8c8c8c"/><stop offset="0.396" stop-color="#949494"/><stop offset="0.418" stop-color="#9e9e9e"/><stop offset="0.425" stop-color="#a6a6a6"/><stop offset="0.536" stop-color="#cccccc"/><stop offset="0.837" stop-color="#d6d6d6"/><stop offset="1.000" stop-color="#e2e2e2"/></linearGradient><g id="hfe" shape-rendering="crispEdges"><rect x="-8" y="-0.5" width="68.1" height="3.2" fill="url(#s0)"/><rect x="-8" y="1.5" width="68.1" height="3.2" fill="url(#s1)"/><rect x="-8" y="3.5" width="68.1" height="3.2" fill="url(#s2)"/><rect x="-8" y="5.5" width="68.1" height="3.2" fill="url(#s3)"/><rect x="-8" y="7.5" width="68.1" height="3.2" fill="url(#s4)"/><rect x="-8" y="9.5" width="68.1" height="3.2" fill="url(#s5)"/><rect x="-8" y="11.5" width="68.1" height="3.2" fill="url(#s6)"/><rect x="-8" y="13.5" width="68.1" height="3.2" fill="url(#s7)"/><rect x="-8" y="15.5" width="68.1" height="3.2" fill="url(#s8)"/><rect x="-8" y="17.5" width="68.1" height="3.2" fill="url(#s9)"/><rect x="-8" y="19.5" width="68.1" height="3.2" fill="url(#s10)"/><rect x="-8" y="21.5" width="68.1" height="3.2" fill="url(#s11)"/><rect x="-8" y="23.5" width="68.1" height="3.2" fill="url(#s12)"/><rect x="-8" y="25.5" width="68.1" height="3.2" fill="url(#s13)"/><rect x="-8" y="27.5" width="68.1" height="3.2" fill="url(#s14)"/><rect x="-8" y="29.5" width="68.1" height="3.2" fill="url(#s15)"/><rect x="-8" y="31.5" width="68.1" height="3.2" fill="url(#s16)"/><rect x="-8" y="33.5" width="68.1" height="3.2" fill="url(#s17)"/><rect x="-8" y="35.5" width="68.1" height="3.2" fill="url(#s18)"/><rect x="-8" y="37.5" width="68.1" height="3.2" fill="url(#s19)"/><rect x="-8" y="39.5" width="68.1" height="3.2" fill="url(#s20)"/><rect x="-8" y="41.5" width="68.1" height="3.2" fill="url(#s21)"/><rect x="-8" y="43.5" width="68.1" height="3.2" fill="url(#s22)"/><rect x="-8" y="45.5" width="68.1" height="3.2" fill="url(#s23)"/><rect x="-8" y="47.5" width="68.1" height="3.2" fill="url(#s24)"/><rect x="-8" y="49.5" width="68.1" height="3.2" fill="url(#s25)"/><rect x="-8" y="51.5" width="68.1" height="3.2" fill="url(#s26)"/><rect x="-8" y="53.5" width="68.1" height="3.2" fill="url(#s27)"/><rect x="-8" y="55.5" width="68.1" height="3.2" fill="url(#s28)"/><rect x="-8" y="57.5" width="68.1" height="3.2" fill="url(#s29)"/><rect x="-8" y="59.5" width="68.1" height="3.2" fill="url(#s30)"/><rect x="-8" y="61.5" width="68.1" height="3.2" fill="url(#s31)"/><rect x="-8" y="63.5" width="68.1" height="3.2" fill="url(#s32)"/><rect x="-8" y="65.5" width="68.1" height="3.2" fill="url(#s33)"/><rect x="-8" y="67.5" width="68.1" height="3.2" fill="url(#s34)"/><rect x="-8" y="69.5" width="68.1" height="3.2" fill="url(#s35)"/><rect x="-8" y="71.5" width="68.1" height="3.2" fill="url(#s36)"/><rect x="-8" y="73.5" width="68.1" height="3.2" fill="url(#s37)"/><rect x="-8" y="75.5" width="68.1" height="3.2" fill="url(#s38)"/><rect x="-8" y="77.5" width="68.1" height="3.2" fill="url(#s39)"/><rect x="-8" y="79.5" width="68.1" height="3.2" fill="url(#s40)"/><rect x="-8" y="81.5" width="68.1" height="3.2" fill="url(#s41)"/><rect x="-8" y="83.5" width="68.1" height="3.2" fill="url(#s42)"/><rect x="-8" y="85.5" width="68.1" height="3.2" fill="url(#s43)"/><rect x="-8" y="87.5" width="68.1" height="3.2" fill="url(#s44)"/><rect x="-8" y="89.5" width="68.1" height="3.2" fill="url(#s45)"/><rect x="-8" y="91.5" width="68.1" height="3.2" fill="url(#s46)"/><rect x="-8" y="93.5" width="68.1" height="3.2" fill="url(#s47)"/><rect x="-8" y="95.5" width="68.1" height="3.2" fill="url(#s48)"/><rect x="-8" y="97.5" width="68.1" height="3.2" fill="url(#s49)"/><rect x="-8" y="99.5" width="68.1" height="3.2" fill="url(#s50)"/><rect x="-8" y="101.5" width="68.1" height="3.2" fill="url(#s51)"/><rect x="-8" y="103.5" width="68.1" height="3.2" fill="url(#s52)"/><rect x="-8" y="105.5" width="68.1" height="3.2" fill="url(#s53)"/><rect x="-8" y="107.5" width="68.1" height="3.2" fill="url(#s54)"/><rect x="-8" y="109.5" width="68.1" height="3.2" fill="url(#s55)"/><rect x="-8" y="111.5" width="68.1" height="3.2" fill="url(#s56)"/><rect x="-8" y="113.5" width="68.1" height="3.2" fill="url(#s57)"/><rect x="-8" y="115.5" width="68.1" height="3.2" fill="url(#s58)"/><rect x="-8" y="117.5" width="68.1" height="3.2" fill="url(#s59)"/><rect x="-8" y="119.5" width="68.1" height="3.2" fill="url(#s60)"/><rect x="-8" y="121.5" width="68.1" height="3.2" fill="url(#s61)"/><rect x="-8" y="123.5" width="68.1" height="3.2" fill="url(#s62)"/><rect x="-8" y="125.5" width="68.1" height="3.2" fill="url(#s63)"/><rect x="-8" y="127.5" width="68.1" height="3.2" fill="url(#s64)"/><rect x="-8" y="129.5" width="68.1" height="3.2" fill="url(#s65)"/><rect x="-8" y="131.5" width="68.1" height="3.2" fill="url(#s66)"/><rect x="-8" y="133.5" width="68.1" height="3.2" fill="url(#s67)"/><rect x="-8" y="135.5" width="68.1" height="3.2" fill="url(#s68)"/><rect x="-8" y="137.5" width="68.1" height="3.2" fill="url(#s69)"/><rect x="-8" y="139.5" width="68.1" height="3.2" fill="url(#s70)"/><rect x="-8" y="141.5" width="68.1" height="3.2" fill="url(#s71)"/><rect x="-8" y="143.5" width="68.1" height="3.2" fill="url(#s72)"/><rect x="-8" y="145.5" width="68.1" height="3.2" fill="url(#s73)"/><rect x="-8" y="147.5" width="68.1" height="3.2" fill="url(#s74)"/><rect x="-8" y="149.5" width="68.1" height="3.2" fill="url(#s75)"/><rect x="-8" y="151.5" width="68.1" height="3.2" fill="url(#s76)"/><rect x="-8" y="153.5" width="68.1" height="3.2" fill="url(#s77)"/><rect x="-8" y="155.5" width="68.1" height="3.2" fill="url(#s78)"/><rect x="-8" y="157.5" width="68.1" height="3.2" fill="url(#s79)"/><rect x="-8" y="159.5" width="68.1" height="3.2" fill="url(#s80)"/><rect x="-8" y="161.5" width="68.1" height="3.2" fill="url(#s81)"/><rect x="-8" y="163.5" width="68.1" height="3.2" fill="url(#s82)"/><rect x="-8" y="165.5" width="68.1" height="3.2" fill="url(#s83)"/><rect x="-8" y="167.5" width="68.1" height="3.2" fill="url(#s84)"/><rect x="-8" y="169.5" width="68.1" height="3.2" fill="url(#s85)"/><rect x="-8" y="171.5" width="68.1" height="3.2" fill="url(#s86)"/><rect x="-8" y="173.5" width="68.1" height="3.2" fill="url(#s87)"/><rect x="-8" y="175.5" width="68.1" height="3.2" fill="url(#s88)"/><rect x="-8" y="177.5" width="68.1" height="3.2" fill="url(#s89)"/><rect x="-8" y="179.5" width="68.1" height="3.2" fill="url(#s90)"/><rect x="-8" y="181.5" width="68.1" height="3.2" fill="url(#s91)"/><rect x="-8" y="183.5" width="68.1" height="3.2" fill="url(#s92)"/><rect x="-8" y="185.5" width="68.1" height="3.2" fill="url(#s93)"/><rect x="-8" y="187.5" width="68.1" height="3.2" fill="url(#s94)"/><rect x="-8" y="189.5" width="68.1" height="3.2" fill="url(#s95)"/><rect x="-8" y="191.5" width="68.1" height="3.2" fill="url(#s96)"/></g><linearGradient id="q0"><stop offset="0.110" stop-color="#7b7b7b"/><stop offset="0.682" stop-color="#fefefe"/></linearGradient><linearGradient id="q1"><stop offset="0.110" stop-color="#797979"/><stop offset="0.658" stop-color="#fdfdfd"/></linearGradient><linearGradient id="q2"><stop offset="0.110" stop-color="#787878"/><stop offset="0.633" stop-color="#fcfcfc"/></linearGradient><linearGradient id="q3"><stop offset="0.110" stop-color="#777777"/><stop offset="0.637" stop-color="#fbfbfb"/></linearGradient><linearGradient id="q4"><stop offset="0.110" stop-color="#767676"/><stop offset="0.641" stop-color="#f9f9f9"/></linearGradient><linearGradient id="q5"><stop offset="0.112" stop-color="#747474"/><stop offset="0.648" stop-color="#f8f8f8"/></linearGradient><linearGradient id="q6"><stop offset="0.131" stop-color="#737373"/><stop offset="0.658" stop-color="#f7f7f7"/></linearGradient><linearGradient id="q7"><stop offset="0.157" stop-color="#727272"/><stop offset="0.668" stop-color="#f5f5f5"/></linearGradient><linearGradient id="q8"><stop offset="0.161" stop-color="#717171"/><stop offset="0.679" stop-color="#f4f4f4"/></linearGradient><linearGradient id="q9"><stop offset="0.164" stop-color="#6f6f6f"/><stop offset="0.689" stop-color="#f3f3f3"/></linearGradient><linearGradient id="q10"><stop offset="0.167" stop-color="#6e6e6e"/><stop offset="0.707" stop-color="#f2f2f2"/></linearGradient><linearGradient id="q11"><stop offset="0.171" stop-color="#6d6d6d"/><stop offset="0.732" stop-color="#f0f0f0"/></linearGradient><linearGradient id="q12"><stop offset="0.174" stop-color="#6b6b6b"/><stop offset="0.758" stop-color="#efefef"/></linearGradient><linearGradient id="q13"><stop offset="0.183" stop-color="#6a6a6a"/><stop offset="0.775" stop-color="#eeeeee"/></linearGradient><linearGradient id="q14"><stop offset="0.193" stop-color="#696969"/><stop offset="0.793" stop-color="#ededed"/></linearGradient><linearGradient id="q15"><stop offset="0.202" stop-color="#686868"/><stop offset="0.807" stop-color="#ebebeb"/></linearGradient><linearGradient id="q16"><stop offset="0.212" stop-color="#666666"/><stop offset="0.818" stop-color="#eaeaea"/></linearGradient><linearGradient id="q17"><stop offset="0.222" stop-color="#656565"/><stop offset="0.828" stop-color="#e9e9e9"/></linearGradient><linearGradient id="q18"><stop offset="0.230" stop-color="#646464"/><stop offset="0.813" stop-color="#e7e7e7"/></linearGradient><linearGradient id="q19"><stop offset="0.239" stop-color="#636363"/><stop offset="0.798" stop-color="#e6e6e6"/></linearGradient><linearGradient id="q20"><stop offset="0.247" stop-color="#616161"/><stop offset="0.781" stop-color="#e5e5e5"/></linearGradient><linearGradient id="q21"><stop offset="0.256" stop-color="#606060"/><stop offset="0.764" stop-color="#e4e4e4"/></linearGradient><linearGradient id="q22"><stop offset="0.260" stop-color="#5f5f5f"/><stop offset="0.746" stop-color="#e2e2e2"/></linearGradient><linearGradient id="q23"><stop offset="0.254" stop-color="#5d5d5d"/><stop offset="0.725" stop-color="#e1e1e1"/></linearGradient><linearGradient id="q24"><stop offset="0.248" stop-color="#5c5c5c"/><stop offset="0.705" stop-color="#e0e0e0"/></linearGradient><linearGradient id="q25"><stop offset="0.242" stop-color="#5b5b5b"/><stop offset="0.689" stop-color="#dfdfdf"/></linearGradient><linearGradient id="q26"><stop offset="0.236" stop-color="#5a5a5a"/><stop offset="0.679" stop-color="#dddddd"/></linearGradient><linearGradient id="q27"><stop offset="0.230" stop-color="#585858"/><stop offset="0.668" stop-color="#dcdcdc"/></linearGradient><linearGradient id="q28"><stop offset="0.225" stop-color="#575757"/><stop offset="0.668" stop-color="#dbdbdb"/></linearGradient><linearGradient id="q29"><stop offset="0.220" stop-color="#565656"/><stop offset="0.668" stop-color="#d9d9d9"/></linearGradient><linearGradient id="q30"><stop offset="0.214" stop-color="#555555"/><stop offset="0.673" stop-color="#d8d8d8"/></linearGradient><linearGradient id="q31"><stop offset="0.209" stop-color="#535353"/><stop offset="0.684" stop-color="#d7d7d7"/></linearGradient><linearGradient id="q32"><stop offset="0.204" stop-color="#525252"/><stop offset="0.695" stop-color="#d6d6d6"/></linearGradient><linearGradient id="q33"><stop offset="0.195" stop-color="#515151"/><stop offset="0.705" stop-color="#d4d4d4"/></linearGradient><linearGradient id="q34"><stop offset="0.186" stop-color="#505050"/><stop offset="0.716" stop-color="#d3d3d3"/></linearGradient><linearGradient id="q35"><stop offset="0.177" stop-color="#4e4e4e"/><stop offset="0.727" stop-color="#d2d2d2"/></linearGradient><linearGradient id="q36"><stop offset="0.168" stop-color="#4d4d4d"/><stop offset="0.738" stop-color="#d1d1d1"/></linearGradient><linearGradient id="q37"><stop offset="0.158" stop-color="#4c4c4c"/><stop offset="0.749" stop-color="#cfcfcf"/></linearGradient><linearGradient id="q38"><stop offset="0.152" stop-color="#4a4a4a"/><stop offset="0.756" stop-color="#cecece"/></linearGradient><linearGradient id="q39"><stop offset="0.146" stop-color="#494949"/><stop offset="0.763" stop-color="#cdcdcd"/></linearGradient><linearGradient id="q40"><stop offset="0.140" stop-color="#484848"/><stop offset="0.771" stop-color="#cbcbcb"/></linearGradient><linearGradient id="q41"><stop offset="0.134" stop-color="#474747"/><stop offset="0.779" stop-color="#cacaca"/></linearGradient><linearGradient id="q42"><stop offset="0.128" stop-color="#454545"/><stop offset="0.787" stop-color="#c9c9c9"/></linearGradient><linearGradient id="q43"><stop offset="0.125" stop-color="#444444"/><stop offset="0.791" stop-color="#c8c8c8"/></linearGradient><linearGradient id="q44"><stop offset="0.123" stop-color="#434343"/><stop offset="0.795" stop-color="#c6c6c6"/></linearGradient><linearGradient id="q45"><stop offset="0.121" stop-color="#424242"/><stop offset="0.798" stop-color="#c5c5c5"/></linearGradient><linearGradient id="q46"><stop offset="0.119" stop-color="#404040"/><stop offset="0.800" stop-color="#c4c4c4"/></linearGradient><linearGradient id="q47"><stop offset="0.128" stop-color="#3f3f3f"/><stop offset="0.802" stop-color="#c3c3c3"/></linearGradient><linearGradient id="q48"><stop offset="0.130" stop-color="#3e3e3e"/><stop offset="0.798" stop-color="#c1c1c1"/></linearGradient><linearGradient id="q49"><stop offset="0.133" stop-color="#3c3c3c"/><stop offset="0.795" stop-color="#c0c0c0"/></linearGradient><linearGradient id="q50"><stop offset="0.136" stop-color="#3b3b3b"/><stop offset="0.791" stop-color="#bfbfbf"/></linearGradient><linearGradient id="q51"><stop offset="0.139" stop-color="#3a3a3a"/><stop offset="0.788" stop-color="#bdbdbd"/></linearGradient><linearGradient id="q52"><stop offset="0.141" stop-color="#393939"/><stop offset="0.784" stop-color="#bcbcbc"/></linearGradient><linearGradient id="q53"><stop offset="0.142" stop-color="#373737"/><stop offset="0.777" stop-color="#bbbbbb"/></linearGradient><linearGradient id="q54"><stop offset="0.143" stop-color="#363636"/><stop offset="0.770" stop-color="#bababa"/></linearGradient><linearGradient id="q55"><stop offset="0.144" stop-color="#353535"/><stop offset="0.765" stop-color="#b8b8b8"/></linearGradient><linearGradient id="q56"><stop offset="0.145" stop-color="#343434"/><stop offset="0.761" stop-color="#b7b7b7"/></linearGradient><linearGradient id="q57"><stop offset="0.145" stop-color="#323232"/><stop offset="0.758" stop-color="#b6b6b6"/></linearGradient><linearGradient id="q58"><stop offset="0.140" stop-color="#313131"/><stop offset="0.754" stop-color="#b5b5b5"/></linearGradient><linearGradient id="q59"><stop offset="0.134" stop-color="#303030"/><stop offset="0.751" stop-color="#b3b3b3"/></linearGradient><linearGradient id="q60"><stop offset="0.128" stop-color="#2e2e2e"/><stop offset="0.743" stop-color="#b2b2b2"/></linearGradient><linearGradient id="q61"><stop offset="0.115" stop-color="#2d2d2d"/><stop offset="0.732" stop-color="#b1b1b1"/></linearGradient><linearGradient id="q62"><stop offset="0.110" stop-color="#2c2c2c"/><stop offset="0.721" stop-color="#afafaf"/></linearGradient><linearGradient id="q63"><stop offset="0.110" stop-color="#2b2b2b"/><stop offset="0.700" stop-color="#aeaeae"/></linearGradient><linearGradient id="q64"><stop offset="0.110" stop-color="#292929"/><stop offset="0.679" stop-color="#adadad"/></linearGradient><linearGradient id="q65"><stop offset="0.110" stop-color="#282828"/><stop offset="0.670" stop-color="#acacac"/></linearGradient><linearGradient id="q66"><stop offset="0.110" stop-color="#272727"/><stop offset="0.675" stop-color="#aaaaaa"/></linearGradient><linearGradient id="q67"><stop offset="0.110" stop-color="#262626"/><stop offset="0.680" stop-color="#a9a9a9"/></linearGradient><linearGradient id="q68"><stop offset="0.110" stop-color="#242424"/><stop offset="0.675" stop-color="#a8a8a8"/></linearGradient><linearGradient id="q69"><stop offset="0.113" stop-color="#232323"/><stop offset="0.670" stop-color="#a7a7a7"/></linearGradient><linearGradient id="q70"><stop offset="0.124" stop-color="#222222"/><stop offset="0.668" stop-color="#a5a5a5"/></linearGradient><linearGradient id="q71"><stop offset="0.135" stop-color="#202020"/><stop offset="0.668" stop-color="#a4a4a4"/></linearGradient><linearGradient id="q72"><stop offset="0.147" stop-color="#1f1f1f"/><stop offset="0.668" stop-color="#a3a3a3"/></linearGradient><linearGradient id="q73"><stop offset="0.156" stop-color="#1e1e1e"/><stop offset="0.678" stop-color="#a2a2a2"/></linearGradient><linearGradient id="q74"><stop offset="0.165" stop-color="#1d1d1d"/><stop offset="0.687" stop-color="#a0a0a0"/></linearGradient><linearGradient id="q75"><stop offset="0.174" stop-color="#1b1b1b"/><stop offset="0.699" stop-color="#9f9f9f"/></linearGradient><linearGradient id="q76"><stop offset="0.183" stop-color="#1a1a1a"/><stop offset="0.713" stop-color="#9e9e9e"/></linearGradient><linearGradient id="q77"><stop offset="0.192" stop-color="#191919"/><stop offset="0.727" stop-color="#9c9c9c"/></linearGradient><linearGradient id="q78"><stop offset="0.197" stop-color="#181818"/><stop offset="0.740" stop-color="#9b9b9b"/></linearGradient><linearGradient id="q79"><stop offset="0.203" stop-color="#161616"/><stop offset="0.754" stop-color="#9a9a9a"/></linearGradient><linearGradient id="q80"><stop offset="0.209" stop-color="#151515"/><stop offset="0.765" stop-color="#999999"/></linearGradient><linearGradient id="q81"><stop offset="0.215" stop-color="#141414"/><stop offset="0.775" stop-color="#979797"/></linearGradient><linearGradient id="q82"><stop offset="0.220" stop-color="#121212"/><stop offset="0.784" stop-color="#969696"/></linearGradient><linearGradient id="q83"><stop offset="0.221" stop-color="#111111"/><stop offset="0.794" stop-color="#959595"/></linearGradient><linearGradient id="q84"><stop offset="0.221" stop-color="#101010"/><stop offset="0.803" stop-color="#949494"/></linearGradient><linearGradient id="q85"><stop offset="0.221" stop-color="#0f0f0f"/><stop offset="0.814" stop-color="#929292"/></linearGradient><linearGradient id="q86"><stop offset="0.221" stop-color="#0d0d0d"/><stop offset="0.828" stop-color="#919191"/></linearGradient><linearGradient id="q87"><stop offset="0.222" stop-color="#0c0c0c"/><stop offset="0.841" stop-color="#909090"/></linearGradient><linearGradient id="q88"><stop offset="0.221" stop-color="#0b0b0b"/><stop offset="0.841" stop-color="#8e8e8e"/></linearGradient><linearGradient id="q89"><stop offset="0.219" stop-color="#0a0a0a"/><stop offset="0.841" stop-color="#8d8d8d"/></linearGradient><linearGradient id="q90"><stop offset="0.218" stop-color="#080808"/><stop offset="0.842" stop-color="#8c8c8c"/></linearGradient><linearGradient id="q91"><stop offset="0.217" stop-color="#070707"/><stop offset="0.843" stop-color="#8b8b8b"/></linearGradient><linearGradient id="q92"><stop offset="0.216" stop-color="#060606"/><stop offset="0.844" stop-color="#898989"/></linearGradient><linearGradient id="q93"><stop offset="0.220" stop-color="#040404"/><stop offset="0.845" stop-color="#888888"/></linearGradient><linearGradient id="q94"><stop offset="0.224" stop-color="#030303"/><stop offset="0.846" stop-color="#878787"/></linearGradient><linearGradient id="q95"><stop offset="0.229" stop-color="#020202"/><stop offset="0.847" stop-color="#868686"/></linearGradient><linearGradient id="q96"><stop offset="0.233" stop-color="#010101"/><stop offset="0.848" stop-color="#848484"/></linearGradient><g id="hfb" shape-rendering="crispEdges"><rect x="-8" y="-0.5" width="68.1" height="3.0" fill="url(#q0)"/><rect x="-8" y="1.5" width="68.1" height="3.0" fill="url(#q1)"/><rect x="-8" y="3.5" width="68.1" height="3.0" fill="url(#q2)"/><rect x="-8" y="5.5" width="68.1" height="3.0" fill="url(#q3)"/><rect x="-8" y="7.5" width="68.1" height="3.0" fill="url(#q4)"/><rect x="-8" y="9.5" width="68.1" height="3.0" fill="url(#q5)"/><rect x="-8" y="11.5" width="68.1" height="3.0" fill="url(#q6)"/><rect x="-8" y="13.5" width="68.1" height="3.0" fill="url(#q7)"/><rect x="-8" y="15.5" width="68.1" height="3.0" fill="url(#q8)"/><rect x="-8" y="17.5" width="68.1" height="3.0" fill="url(#q9)"/><rect x="-8" y="19.5" width="68.1" height="3.0" fill="url(#q10)"/><rect x="-8" y="21.5" width="68.1" height="3.0" fill="url(#q11)"/><rect x="-8" y="23.5" width="68.1" height="3.0" fill="url(#q12)"/><rect x="-8" y="25.5" width="68.1" height="3.0" fill="url(#q13)"/><rect x="-8" y="27.5" width="68.1" height="3.0" fill="url(#q14)"/><rect x="-8" y="29.5" width="68.1" height="3.0" fill="url(#q15)"/><rect x="-8" y="31.5" width="68.1" height="3.0" fill="url(#q16)"/><rect x="-8" y="33.5" width="68.1" height="3.0" fill="url(#q17)"/><rect x="-8" y="35.5" width="68.1" height="3.0" fill="url(#q18)"/><rect x="-8" y="37.5" width="68.1" height="3.0" fill="url(#q19)"/><rect x="-8" y="39.5" width="68.1" height="3.0" fill="url(#q20)"/><rect x="-8" y="41.5" width="68.1" height="3.0" fill="url(#q21)"/><rect x="-8" y="43.5" width="68.1" height="3.0" fill="url(#q22)"/><rect x="-8" y="45.5" width="68.1" height="3.0" fill="url(#q23)"/><rect x="-8" y="47.5" width="68.1" height="3.0" fill="url(#q24)"/><rect x="-8" y="49.5" width="68.1" height="3.0" fill="url(#q25)"/><rect x="-8" y="51.5" width="68.1" height="3.0" fill="url(#q26)"/><rect x="-8" y="53.5" width="68.1" height="3.0" fill="url(#q27)"/><rect x="-8" y="55.5" width="68.1" height="3.0" fill="url(#q28)"/><rect x="-8" y="57.5" width="68.1" height="3.0" fill="url(#q29)"/><rect x="-8" y="59.5" width="68.1" height="3.0" fill="url(#q30)"/><rect x="-8" y="61.5" width="68.1" height="3.0" fill="url(#q31)"/><rect x="-8" y="63.5" width="68.1" height="3.0" fill="url(#q32)"/><rect x="-8" y="65.5" width="68.1" height="3.0" fill="url(#q33)"/><rect x="-8" y="67.5" width="68.1" height="3.0" fill="url(#q34)"/><rect x="-8" y="69.5" width="68.1" height="3.0" fill="url(#q35)"/><rect x="-8" y="71.5" width="68.1" height="3.0" fill="url(#q36)"/><rect x="-8" y="73.5" width="68.1" height="3.0" fill="url(#q37)"/><rect x="-8" y="75.5" width="68.1" height="3.0" fill="url(#q38)"/><rect x="-8" y="77.5" width="68.1" height="3.0" fill="url(#q39)"/><rect x="-8" y="79.5" width="68.1" height="3.0" fill="url(#q40)"/><rect x="-8" y="81.5" width="68.1" height="3.0" fill="url(#q41)"/><rect x="-8" y="83.5" width="68.1" height="3.0" fill="url(#q42)"/><rect x="-8" y="85.5" width="68.1" height="3.0" fill="url(#q43)"/><rect x="-8" y="87.5" width="68.1" height="3.0" fill="url(#q44)"/><rect x="-8" y="89.5" width="68.1" height="3.0" fill="url(#q45)"/><rect x="-8" y="91.5" width="68.1" height="3.0" fill="url(#q46)"/><rect x="-8" y="93.5" width="68.1" height="3.0" fill="url(#q47)"/><rect x="-8" y="95.5" width="68.1" height="3.0" fill="url(#q48)"/><rect x="-8" y="97.5" width="68.1" height="3.0" fill="url(#q49)"/><rect x="-8" y="99.5" width="68.1" height="3.0" fill="url(#q50)"/><rect x="-8" y="101.5" width="68.1" height="3.0" fill="url(#q51)"/><rect x="-8" y="103.5" width="68.1" height="3.0" fill="url(#q52)"/><rect x="-8" y="105.5" width="68.1" height="3.0" fill="url(#q53)"/><rect x="-8" y="107.5" width="68.1" height="3.0" fill="url(#q54)"/><rect x="-8" y="109.5" width="68.1" height="3.0" fill="url(#q55)"/><rect x="-8" y="111.5" width="68.1" height="3.0" fill="url(#q56)"/><rect x="-8" y="113.5" width="68.1" height="3.0" fill="url(#q57)"/><rect x="-8" y="115.5" width="68.1" height="3.0" fill="url(#q58)"/><rect x="-8" y="117.5" width="68.1" height="3.0" fill="url(#q59)"/><rect x="-8" y="119.5" width="68.1" height="3.0" fill="url(#q60)"/><rect x="-8" y="121.5" width="68.1" height="3.0" fill="url(#q61)"/><rect x="-8" y="123.5" width="68.1" height="3.0" fill="url(#q62)"/><rect x="-8" y="125.5" width="68.1" height="3.0" fill="url(#q63)"/><rect x="-8" y="127.5" width="68.1" height="3.0" fill="url(#q64)"/><rect x="-8" y="129.5" width="68.1" height="3.0" fill="url(#q65)"/><rect x="-8" y="131.5" width="68.1" height="3.0" fill="url(#q66)"/><rect x="-8" y="133.5" width="68.1" height="3.0" fill="url(#q67)"/><rect x="-8" y="135.5" width="68.1" height="3.0" fill="url(#q68)"/><rect x="-8" y="137.5" width="68.1" height="3.0" fill="url(#q69)"/><rect x="-8" y="139.5" width="68.1" height="3.0" fill="url(#q70)"/><rect x="-8" y="141.5" width="68.1" height="3.0" fill="url(#q71)"/><rect x="-8" y="143.5" width="68.1" height="3.0" fill="url(#q72)"/><rect x="-8" y="145.5" width="68.1" height="3.0" fill="url(#q73)"/><rect x="-8" y="147.5" width="68.1" height="3.0" fill="url(#q74)"/><rect x="-8" y="149.5" width="68.1" height="3.0" fill="url(#q75)"/><rect x="-8" y="151.5" width="68.1" height="3.0" fill="url(#q76)"/><rect x="-8" y="153.5" width="68.1" height="3.0" fill="url(#q77)"/><rect x="-8" y="155.5" width="68.1" height="3.0" fill="url(#q78)"/><rect x="-8" y="157.5" width="68.1" height="3.0" fill="url(#q79)"/><rect x="-8" y="159.5" width="68.1" height="3.0" fill="url(#q80)"/><rect x="-8" y="161.5" width="68.1" height="3.0" fill="url(#q81)"/><rect x="-8" y="163.5" width="68.1" height="3.0" fill="url(#q82)"/><rect x="-8" y="165.5" width="68.1" height="3.0" fill="url(#q83)"/><rect x="-8" y="167.5" width="68.1" height="3.0" fill="url(#q84)"/><rect x="-8" y="169.5" width="68.1" height="3.0" fill="url(#q85)"/><rect x="-8" y="171.5" width="68.1" height="3.0" fill="url(#q86)"/><rect x="-8" y="173.5" width="68.1" height="3.0" fill="url(#q87)"/><rect x="-8" y="175.5" width="68.1" height="3.0" fill="url(#q88)"/><rect x="-8" y="177.5" width="68.1" height="3.0" fill="url(#q89)"/><rect x="-8" y="179.5" width="68.1" height="3.0" fill="url(#q90)"/><rect x="-8" y="181.5" width="68.1" height="3.0" fill="url(#q91)"/><rect x="-8" y="183.5" width="68.1" height="3.0" fill="url(#q92)"/><rect x="-8" y="185.5" width="68.1" height="3.0" fill="url(#q93)"/><rect x="-8" y="187.5" width="68.1" height="3.0" fill="url(#q94)"/><rect x="-8" y="189.5" width="68.1" height="3.0" fill="url(#q95)"/><rect x="-8" y="191.5" width="68.1" height="3.0" fill="url(#q96)"/></g><linearGradient id="cbg" x1="0" y1="0" x2="0" y2="1"><stop offset="0.000" stop-color="#800000"/><stop offset="0.031" stop-color="#9f0000"/><stop offset="0.062" stop-color="#bf0000"/><stop offset="0.094" stop-color="#df0000"/><stop offset="0.125" stop-color="#ff0000"/><stop offset="0.156" stop-color="#ff2000"/><stop offset="0.188" stop-color="#ff4000"/><stop offset="0.219" stop-color="#ff6000"/><stop offset="0.250" stop-color="#ff8000"/><stop offset="0.281" stop-color="#ff9f00"/><stop offset="0.312" stop-color="#ffbf00"/><stop offset="0.344" stop-color="#ffdf00"/><stop offset="0.375" stop-color="#ffff00"/><stop offset="0.406" stop-color="#dfff20"/><stop offset="0.438" stop-color="#bfff40"/><stop offset="0.469" stop-color="#9fff60"/><stop offset="0.500" stop-color="#80ff80"/><stop offset="0.531" stop-color="#60ff9f"/><stop offset="0.562" stop-color="#40ffbf"/><stop offset="0.594" stop-color="#20ffdf"/><stop offset="0.625" stop-color="#00ffff"/><stop offset="0.656" stop-color="#00dfff"/><stop offset="0.688" stop-color="#00bfff"/><stop offset="0.719" stop-color="#009fff"/><stop offset="0.750" stop-color="#0080ff"/><stop offset="0.781" stop-color="#0060ff"/><stop offset="0.812" stop-color="#0040ff"/><stop offset="0.844" stop-color="#0020ff"/><stop offset="0.875" stop-color="#0000ff"/><stop offset="0.906" stop-color="#0000df"/><stop offset="0.938" stop-color="#0000bf"/><stop offset="0.969" stop-color="#00009f"/><stop offset="1.000" stop-color="#000080"/></linearGradient><filter id="fc" x="0" y="0" width="1" height="1" color-interpolation-filters="sRGB"><feTurbulence type="fractalNoise" baseFrequency="0.35" numOctaves="2" seed="11" result="t"/><feDisplacementMap in="SourceGraphic" in2="t" scale="3" xChannelSelector="R" yChannelSelector="G" result="s"/><feComponentTransfer in="s"><feFuncR type="table" tableValues="0 0 0 0 0 0 0 0 0 0 0 0 0 0 0 0 0 0 0 0 0 0 0 0 0 0 0 0 0 0 0 0 0 0 0 0 0 0 0 0 0 0 0 0 0 0 0 0 0 0.03 0.06 0.09 0.12 0.16 0.19 0.22 0.25 0.28 0.31 0.34 0.38 0.41 0.44 0.47 0.5 0.53 0.56 0.59 0.62 0.66 0.69 0.72 0.75 0.78 0.81 0.84 0.88 0.91 0.94 0.97 1 1 1 1 1 1 1 1 1 1 1 1 1 1 1 1 1 1 1 1 1 1 1 1 1 1 1 1 1 1 1 1 1 0.97 0.94 0.91 0.88 0.84 0.81 0.78 0.75 0.72 0.69 0.66 0.62 0.59 0.56 0.53 0.5"/><feFuncG type="table" tableValues="0 0 0 0 0 0 0 0 0 0 0 0 0 0 0 0 0 0.03 0.06 0.09 0.12 0.16 0.19 0.22 0.25 0.28 0.31 0.34 0.38 0.41 0.44 0.47 0.5 0.53 0.56 0.59 0.62 0.66 0.69 0.72 0.75 0.78 0.81 0.84 0.88 0.91 0.94 0.97 1 1 1 1 1 1 1 1 1 1 1 1 1 1 1 1 1 1 1 1 1 1 1 1 1 1 1 1 1 1 1 1 1 0.97 0.94 0.91 0.88 0.86 0.83 0.81 0.78 0.76 0.73 0.71 0.68 0.65 0.62 0.58 0.54 0.51 0.47 0.43 0.39 0.35 0.32 0.28 0.25 0.22 0.19 0.16 0.12 0.09 0.06 0.03 0 0 0 0 0 0 0 0 0 0 0 0 0 0 0 0 0"/><feFuncB type="table" tableValues="0.5 0.53 0.56 0.59 0.62 0.66 0.69 0.72 0.75 0.78 0.81 0.84 0.88 0.91 0.94 0.97 1 1 1 1 1 1 1 1 1 1 1 1 1 1 1 1 1 1 1 1 1 1 1 1 1 1 1 1 1 1 1 1 1 0.97 0.94 0.91 0.88 0.84 0.81 0.78 0.75 0.72 0.69 0.66 0.62 0.59 0.56 0.53 0.5 0.47 0.44 0.41 0.38 0.34 0.31 0.28 0.25 0.22 0.19 0.16 0.12 0.09 0.06 0.03 0 0 0 0 0 0 0 0 0 0 0 0 0 0 0 0 0 0 0 0 0 0 0 0 0 0 0 0 0 0 0 0 0 0 0 0 0 0 0 0 0 0 0 0 0 0 0 0 0"/></feComponentTransfer></filter><filter id="fe" x="0" y="0" width="1" height="1" color-interpolation-filters="sRGB"><feTurbulence type="fractalNoise" baseFrequency="0.35" numOctaves="2" seed="11" result="t"/><feDisplacementMap in="SourceGraphic" in2="t" scale="3" xChannelSelector="R" yChannelSelector="G" result="s"/><feComponentTransfer in="s"><feFuncR type="table" tableValues="0 0 0 0 0 0 0 0 0 0 0 0 0 0 0 0 0 0 0 0 0 0 0 0 0 0 0 0 0 0 0 0 0 0 0 0 0 0 0 0 0 0 0 0 0 0 0 0 0 0.03 0.06 0.09 0.12 0.16 0.19 0.22 0.25 0.28 0.31 0.34 0.38 0.41 0.44 0.47 0.5 0.53 0.56 0.59 0.62 0.66 0.69 0.72 0.75 0.78 0.81 0.84 0.88 0.91 0.94 0.97 1 1 1 1 1 1 1 1 1 1 1 1 1 1 1 1 1 1 1 1 1 1 1 1 1 1 1 1 1 1 1 1 1 0.97 0.94 0.91 0.88 0.84 0.81 0.78 0.75 0.72 0.69 0.66 0.62 0.59 0.56 0.53 0.5"/><feFuncG type="table" tableValues="0 0 0 0 0 0 0 0 0 0 0 0 0 0 0 0 0 0.03 0.06 0.09 0.12 0.16 0.19 0.22 0.25 0.28 0.31 0.34 0.38 0.41 0.44 0.47 0.5 0.53 0.56 0.59 0.62 0.66 0.69 0.72 0.75 0.78 0.81 0.84 0.88 0.91 0.94 0.97 1 1 1 1 1 1 1 1 1 1 1 1 1 1 1 1 1 1 1 1 1 1 1 1 1 1 1 1 1 1 1 1 1 0.97 0.94 0.91 0.88 0.86 0.83 0.81 0.78 0.76 0.73 0.71 0.68 0.65 0.62 0.58 0.54 0.51 0.47 0.43 0.39 0.35 0.32 0.28 0.25 0.22 0.19 0.16 0.12 0.09 0.06 0.03 0 0 0 0 0 0 0 0 0 0 0 0 0 0 0 0 0"/><feFuncB type="table" tableValues="0.5 0.53 0.56 0.59 0.62 0.66 0.69 0.72 0.75 0.78 0.81 0.84 0.88 0.91 0.94 0.97 1 1 1 1 1 1 1 1 1 1 1 1 1 1 1 1 1 1 1 1 1 1 1 1 1 1 1 1 1 1 1 1 1 0.97 0.94 0.91 0.88 0.84 0.81 0.78 0.75 0.72 0.69 0.66 0.62 0.59 0.56 0.53 0.5 0.47 0.44 0.41 0.38 0.34 0.31 0.28 0.25 0.22 0.19 0.16 0.12 0.09 0.06 0.03 0 0 0 0 0 0 0 0 0 0 0 0 0 0 0 0 0 0 0 0 0 0 0 0 0 0 0 0 0 0 0 0 0 0 0 0 0 0 0 0 0 0 0 0 0 0 0 0 0"/></feComponentTransfer></filter><filter id="fd" x="0" y="0" width="1" height="1" color-interpolation-filters="sRGB"><feTurbulence type="fractalNoise" baseFrequency="0.35" numOctaves="2" seed="11" result="t"/><feDisplacementMap in="SourceGraphic" in2="t" scale="3" xChannelSelector="R" yChannelSelector="G" result="s"/><feComponentTransfer in="s"><feFuncR type="table" tableValues="0 0 0 0 0 0 0 0 0 0 0 0 0 0 0 0 0 0 0 0 0 0 0 0 0 0 0 0 0 0 0 0 0 0 0 0 0 0 0 0 0 0 0 0 0 0 0 0.02 0.04 0.07 0.1 0.13 0.17 0.2 0.23 0.26 0.29 0.32 0.35 0.38 0.41 0.44 0.47 0.5 0.53 0.56 0.59 0.62 0.65 0.68 0.71 0.74 0.77 0.8 0.83 0.86 0.89 0.92 0.95 0.98 1 1 1 1 1 1 1 1 1 1 1 1 1 1 1 1 1 1 1 1 1 1 1 1 1 1 1 1 1 1 1 1 1 0.97 0.94 0.91 0.88 0.84 0.81 0.78 0.75 0.72 0.69 0.66 0.62 0.59 0.56 0.53 0.5"/><feFuncG type="table" tableValues="0 0 0 0 0 0.03 0.06 0.08 0.11 0.13 0.16 0.19 0.21 0.24 0.26 0.29 0.31 0.34 0.36 0.39 0.41 0.43 0.46 0.48 0.5 0.53 0.55 0.57 0.59 0.61 0.63 0.65 0.67 0.68 0.7 0.72 0.74 0.77 0.79 0.82 0.84 0.87 0.89 0.92 0.94 0.97 0.99 1 1 1 1 1 1 1 1 1 1 1 1 1 1 1 1 1 1 1 1 1 1 1 1 1 1 1 1 1 1 1 1 1 1 0.97 0.94 0.91 0.88 0.86 0.83 0.81 0.78 0.76 0.73 0.71 0.68 0.65 0.62 0.58 0.54 0.51 0.47 0.43 0.39 0.35 0.32 0.28 0.25 0.22 0.19 0.16 0.12 0.09 0.06 0.03 0 0 0 0 0 0 0 0 0 0 0 0 0 0 0 0 0"/><feFuncB type="table" tableValues="0.9 0.93 0.95 0.98 1 1 1 1 1 1 1 1 1 1 1 1 1 1 1 1 1 1 1 1 1 1 1 1 1 1 1 1 1 1 1 1 1 1 1 1 1 1 1 1 1 1 1 0.98 0.96 0.93 0.9 0.87 0.83 0.8 0.77 0.74 0.71 0.68 0.65 0.62 0.59 0.56 0.53 0.5 0.47 0.44 0.41 0.38 0.35 0.32 0.29 0.26 0.23 0.2 0.17 0.14 0.11 0.08 0.05 0.02 0 0 0 0 0 0 0 0 0 0 0 0 0 0 0 0 0 0 0 0 0 0 0 0 0 0 0 0 0 0 0 0 0 0 0 0 0 0 0 0 0 0 0 0 0 0 0 0 0"/></feComponentTransfer></filter><filter id="fa" x="0" y="0" width="1" height="1" color-interpolation-filters="sRGB"><feTurbulence type="fractalNoise" baseFrequency="0.03" numOctaves="2" seed="4" result="t"/><feDisplacementMap in="SourceGraphic" in2="t" scale="12" xChannelSelector="R" yChannelSelector="G" result="d"/><feTurbulence type="fractalNoise" baseFrequency="0.9" numOctaves="1" seed="7" result="n"/><feColorMatrix in="n" type="matrix" values="1 0 0 0 0 1 0 0 0 0 1 0 0 0 0 0 0 0 0 1" result="ng"/><feComposite in="d" in2="ng" operator="arithmetic" k2="1" k3="0.03" k4="-0.015" result="s"/><feComponentTransfer in="s"><feFuncR type="table" tableValues="0 0 0 0 0 0 0 0 0 0 0 0 0 0 0 0 0 0 0 0 0 0 0 0 0 0.06 0.12 0.19 0.25 0.31 0.38 0.44 0.5 0.56 0.62 0.69 0.75 0.81 0.88 0.94 1 1 1 1 1 1 1 1 1 1 1 1 1 1 1 1 1 0.94 0.88 0.81 0.75 0.69 0.62 0.56 0.5"/><feFuncG type="table" tableValues="0 0 0 0 0 0 0 0 0 0.06 0.12 0.19 0.25 0.31 0.38 0.44 0.5 0.56 0.62 0.69 0.75 0.81 0.88 0.94 1 1 1 1 1 1 1 1 1 1 1 1 1 1 1 1 1 0.94 0.88 0.81 0.75 0.69 0.62 0.56 0.5 0.44 0.38 0.31 0.25 0.19 0.12 0.06 0 0 0 0 0 0 0 0 0"/><feFuncB type="table" tableValues="0.5 0.56 0.62 0.69 0.75 0.81 0.88 0.94 1 1 1 1 1 1 1 1 1 1 1 1 1 1 1 1 1 0.94 0.88 0.81 0.75 0.69 0.62 0.56 0.5 0.44 0.38 0.31 0.25 0.19 0.12 0.06 0 0 0 0 0 0 0 0 0 0 0 0 0 0 0 0 0 0 0 0 0 0 0 0 0"/></feComponentTransfer></filter><filter id="fb" x="0" y="0" width="1" height="1" color-interpolation-filters="sRGB"><feTurbulence type="fractalNoise" baseFrequency="0.025" numOctaves="2" seed="4" result="t"/><feDisplacementMap in="SourceGraphic" in2="t" scale="10" xChannelSelector="R" yChannelSelector="G" result="d"/><feTurbulence type="fractalNoise" baseFrequency="0.9" numOctaves="1" seed="7" result="n"/><feColorMatrix in="n" type="matrix" values="1 0 0 0 0 1 0 0 0 0 1 0 0 0 0 0 0 0 0 1" result="ng"/><feComposite in="d" in2="ng" operator="arithmetic" k2="1" k3="0.05" k4="-0.025" result="s"/><feComponentTransfer in="s"><feFuncR type="table" tableValues="0 0 0 0 0.09 0.18 0.28 0.38 0.48 0.57 0.67 0.77 0.86 0.96 1 1 1 1 1 1 1 1 1 1 0.97 0.88 0.78 0.68 0.59 0 0 0 0 0 0 0 0 0 0 0 0 0 0 0 0 0.06 0.16 0.25 0.35 0.45 0.54 0.64 0.74 0.83 0.93 1 1 1 1 1 1 1 1 1 1 1 0.91 0.81 0.71 0.62 0.52 0 0 0 0 0 0 0 0 0 0 0 0 0 0 0 0.03 0.13 0.22 0.32 0.42 0.52 0.61 0.71 0.81 0.9 1 1 1 1 1 1 1 1 1 1 1 0.93 0.84 0.74 0.64 0.55 0 0 0 0 0 0 0 0 0 0 0 0 0 0 0 0 0.1 0.2 0.29 0.39 0.49 0.58 0.68 0.78 0.88 0.97 1 1 1 1 1 1 1 1 1 1 0.96 0.87 0.77 0.67 0.58 0 0 0 0 0 0 0 0 0 0 0 0 0 0 0 0 0.07 0.17 0.27 0.36 0.46 0.56 0.65 0.75 0.85 0.94 1 1 1 1 1 1 1 1 1 1 0.99 0.89 0.8 0.7 0.6 0.51 0 0 0 0 0 0 0 0 0 0 0 0 0 0 0 0.04 0.14 0.24 0.33 0.43 0.53 0.62 0.72 0.82 0.92 1 1 1 1 1 1 1 1 1 1 1 0.92 0.82 0.73 0.63 0.53 0 0 0 0 0 0 0 0 0 0 0 0 0 0 0 0.02 0.11 0.21 0.31 0.4 0.5"/><feFuncG type="table" tableValues="0.7 0.8 0.89 0.99 1 1 1 1 1 1 1 1 1 1 0.94 0.85 0.75 0.65 0.56 0.46 0.36 0.27 0.17 0.07 0 0 0 0 0 0 0 0 0 0 0 0.09 0.19 0.28 0.38 0.48 0.58 0.67 0.77 0.87 0.96 1 1 1 1 1 1 1 1 1 1 0.97 0.88 0.78 0.68 0.58 0.49 0.39 0.29 0.2 0.1 0 0 0 0 0 0 0 0 0 0 0 0.06 0.16 0.26 0.35 0.45 0.55 0.64 0.74 0.84 0.93 1 1 1 1 1 1 1 1 1 1 1 0.9 0.81 0.71 0.61 0.52 0.42 0.32 0.22 0.13 0.03 0 0 0 0 0 0 0 0 0 0 0.03 0.13 0.23 0.32 0.42 0.52 0.62 0.71 0.81 0.91 1 1 1 1 1 1 1 1 1 1 1 0.93 0.83 0.74 0.64 0.54 0.45 0.35 0.25 0.16 0.06 0 0 0 0 0 0 0 0 0 0 0.01 0.1 0.2 0.3 0.39 0.49 0.59 0.68 0.78 0.88 0.98 1 1 1 1 1 1 1 1 1 1 0.96 0.86 0.77 0.67 0.57 0.48 0.38 0.28 0.18 0.09 0 0 0 0 0 0 0 0 0 0 0 0.07 0.17 0.27 0.37 0.46 0.56 0.66 0.75 0.85 0.95 1 1 1 1 1 1 1 1 1 1 0.99 0.89 0.79 0.7 0.6 0.5 0.41 0.31 0.21 0.12 0.02 0 0 0 0 0 0 0 0 0 0 0.05 0.14 0.24 0.34 0.43 0.53 0.63 0.73 0.82 0.92 1 1 1 1 1 1"/><feFuncB type="table" tableValues="1 1 1 1 0.91 0.82 0.72 0.62 0.52 0.43 0.33 0.23 0.14 0.04 0 0 0 0 0 0 0 0 0 0 0 0 0 0 0 0.51 0.61 0.7 0.8 0.9 0.99 1 1 1 1 1 1 1 1 1 1 0.94 0.84 0.75 0.65 0.55 0.46 0.36 0.26 0.17 0.07 0 0 0 0 0 0 0 0 0 0 0 0 0 0 0 0 0.58 0.68 0.77 0.87 0.97 1 1 1 1 1 1 1 1 1 1 0.97 0.87 0.78 0.68 0.58 0.48 0.39 0.29 0.19 0.1 0 0 0 0 0 0 0 0 0 0 0 0 0 0 0 0 0.55 0.65 0.74 0.84 0.94 1 1 1 1 1 1 1 1 1 1 1 0.9 0.8 0.71 0.61 0.51 0.42 0.32 0.22 0.12 0.03 0 0 0 0 0 0 0 0 0 0 0 0 0 0 0 0.52 0.62 0.72 0.81 0.91 1 1 1 1 1 1 1 1 1 1 1 0.93 0.83 0.73 0.64 0.54 0.44 0.35 0.25 0.15 0.06 0 0 0 0 0 0 0 0 0 0 0 0 0 0 0 0 0.59 0.69 0.78 0.88 0.98 1 1 1 1 1 1 1 1 1 1 0.96 0.86 0.76 0.67 0.57 0.47 0.38 0.28 0.18 0.08 0 0 0 0 0 0 0 0 0 0 0 0 0 0 0 0 0.56 0.66 0.76 0.85 0.95 1 1 1 1 1 1 1 1 1 1 0.98 0.89 0.79 0.69 0.6 0.5"/></feComponentTransfer></filter><filter id="fn" x="0" y="0" width="1" height="1" color-interpolation-filters="sRGB"><feTurbulence type="fractalNoise" baseFrequency="0.7" numOctaves="1" seed="21" result="n"/><feColorMatrix in="n" type="matrix" values="1 0 0 0 0 0 0 0 0 0.5 0 0 1 0 0 0 0 0 0 1" result="na"/><feComposite in="SourceGraphic" in2="na" operator="arithmetic" k2="1" k3="0.4" k4="-0.2"/></filter><filter id="gb" x="0" y="0" width="1" height="1"><feConvolveMatrix order="3" kernelMatrix="1 2 1 2 8 2 1 2 1" divisor="20" edgeMode="duplicate"/></filter></defs>
<g filter="url(#gb)"><rect width="550" height="413" fill="#fff"/>
<svg x="9.50" y="4.90" width="49.20" height="193.80" viewBox="0 0 49.20 193.80"><linearGradient id="ga" gradientUnits="userSpaceOnUse" x1="0" y1="0" x2="4.20" y2="-2.20" spreadMethod="repeat"><stop offset="0" stop-color="#000"/><stop offset="1" stop-color="#fff"/></linearGradient><g filter="url(#fa)"><rect x="-10" y="-10" width="69.2" height="213.8" fill="url(#ga)"/></g><polygon points="51.2,-1.0 36.6,-1.0 36.6,0.0 32.7,5.0 33.3,10.0 34.9,15.0 36.6,20.0 40.7,25.0 43.5,30.0 45.2,35.0 42.8,40.0 39.9,45.0 36.6,49.9 34.9,54.9 34.9,59.9 36.6,64.9 38.3,69.9 40.1,74.9 41.3,79.9 42.6,84.9 43.3,89.9 43.5,94.9 43.0,99.9 42.4,104.9 41.3,109.9 40.7,114.9 40.1,119.9 38.3,124.9 34.9,129.9 35.7,134.9 34.9,139.9 34.9,144.9 36.5,149.8 38.7,154.8 40.9,159.8 42.4,164.8 43.9,169.8 46.1,174.8 46.1,179.8 46.6,193.8 46.6,194.8 51.2,194.8" fill="#8afd6c"/><polygon points="-2.0,-1.0 -0.9,-1.0 -0.9,0.0 -0.9,8.0 0.5,12.0 3.0,15.0 4.2,25.3 7.2,35.0 9.6,44.0 9.6,45.0 7.7,54.6 6.0,64.9 3.0,75.2 1.1,84.9 0.5,93.9 1.1,94.9 2.0,104.6 2.3,114.9 0.9,121.9 -0.9,124.9 -0.9,135.9 2.4,144.9 5.2,154.5 7.1,164.8 7.2,175.1 6.8,184.8 8.0,193.8 8.0,194.8 -2.0,194.8" fill="#8afd6c"/><rect x="23.4" y="180.8" width="25.8" height="13.0" fill="#d4d4d4" fill-opacity="0.87"/><text class="l" x="36.3" y="190.8">(a)</text></svg>
<rect x="73.10" y="4.90" width="8.10" height="193.80" fill="url(#cbg)"/>
<text class="t" x="84.5" y="17.6">3</text>
<text class="t" x="84.5" y="45.0">2</text>
<text class="t" x="84.5" y="75.9">1</text>
<text class="t" x="84.5" y="106.6">0</text>
<text class="t" x="84.5" y="137.9">-1</text>
<text class="t" x="84.5" y="169.5">-2</text>
<text class="t" x="84.5" y="197.7">-3</text>
<svg x="120.70" y="4.90" width="49.20" height="193.80" viewBox="0 0 49.20 193.80"><g filter="url(#fb)"><g transform="scale(0.9443,0.9990)"><use href="#hfb"/></g></g><polygon points="51.2,-1.0 36.6,-1.0 36.6,0.0 32.7,5.0 33.3,10.0 34.9,15.0 36.6,20.0 40.7,25.0 43.5,30.0 45.2,35.0 42.8,40.0 39.9,45.0 36.6,49.9 34.9,54.9 34.9,59.9 36.6,64.9 38.3,69.9 40.1,74.9 41.3,79.9 42.6,84.9 43.3,89.9 43.5,94.9 43.0,99.9 42.4,104.9 41.3,109.9 40.7,114.9 40.1,119.9 38.3,124.9 34.9,129.9 35.7,134.9 34.9,139.9 34.9,144.9 36.5,149.8 38.7,154.8 40.9,159.8 42.4,164.8 43.9,169.8 46.1,174.8 46.1,179.8 46.6,193.8 46.6,194.8 51.2,194.8" fill="#8afd6c"/><polygon points="-2.0,-1.0 -0.9,-1.0 -0.9,0.0 -0.9,8.0 0.5,12.0 3.0,15.0 4.2,25.3 7.2,35.0 9.6,44.0 9.6,45.0 7.7,54.6 6.0,64.9 3.0,75.2 1.1,84.9 0.5,93.9 1.1,94.9 2.0,104.6 2.3,114.9 0.9,121.9 -0.9,124.9 -0.9,135.9 2.4,144.9 5.2,154.5 7.1,164.8 7.2,175.1 6.8,184.8 8.0,193.8 8.0,194.8 -2.0,194.8" fill="#8afd6c"/><rect x="23.7" y="181.0" width="25.5" height="12.8" fill="#d4d4d4" fill-opacity="0.87"/><text class="l" x="36.5" y="190.8">(b)</text></svg>
<rect x="184.20" y="4.90" width="8.00" height="193.80" fill="url(#cbg)"/>
<text class="t" x="195.5" y="17.8">3</text>
<text class="t" x="195.5" y="45.2">2</text>
<text class="t" x="195.5" y="76.0">1</text>
<text class="t" x="195.5" y="106.6">0</text>
<text class="t" x="195.5" y="137.9">-1</text>
<text class="t" x="195.5" y="169.5">-2</text>
<text class="t" x="195.5" y="197.7">-3</text>
<svg x="224.70" y="4.90" width="52.10" height="193.80" viewBox="0 0 52.10 193.80"><g filter="url(#fc)"><g transform="scale(1.0000,0.9990)"><use href="#hf"/></g><polygon points="54.1,-1.0 38.8,-1.0 38.8,0.0 34.6,5.0 35.3,10.0 37.0,15.0 38.8,20.0 43.1,25.0 46.1,30.0 47.9,35.0 45.3,40.0 42.3,45.0 38.8,49.9 37.0,54.9 37.0,59.9 38.8,64.9 40.6,69.9 42.5,74.9 43.7,79.9 45.1,84.9 45.8,89.9 46.1,94.9 45.5,99.9 44.9,104.9 43.7,109.9 43.1,114.9 42.5,119.9 40.6,124.9 37.0,129.9 37.8,134.9 37.0,139.9 37.0,144.9 38.6,149.8 41.0,154.8 43.3,159.8 44.9,164.8 46.5,169.8 48.8,174.8 48.8,179.8 49.3,193.8 49.3,194.8 54.1,194.8" fill="#181818" shape-rendering="crispEdges"/></g><rect x="29.1" y="180.2" width="23.0" height="13.6" fill="#d4d4d4" fill-opacity="0.87"/><text class="l" x="40.6" y="190.8">(c)</text></svg>
<rect x="289.20" y="4.90" width="8.00" height="193.80" fill="url(#cbg)"/>
<text class="t" x="301.0" y="18.4">1400</text>
<text class="t" x="301.0" y="40.5">1200</text>
<text class="t" x="301.0" y="64.9">1000</text>
<text class="t" x="301.0" y="89.9">800</text>
<text class="t" x="301.0" y="115.0">600</text>
<text class="t" x="301.0" y="140.1">400</text>
<text class="t" x="301.0" y="165.4">200</text>
<text class="t" x="301.0" y="190.8">0</text>
<svg x="337.90" y="4.90" width="52.00" height="193.80" viewBox="0 0 52.00 193.80"><g filter="url(#fd)"><g transform="scale(0.9981,0.9990)"><use href="#hf"/></g><polygon points="54.0,-1.0 38.7,-1.0 38.7,0.0 34.5,5.0 35.2,10.0 36.9,15.0 38.7,20.0 43.0,25.0 46.0,30.0 47.8,35.0 45.2,40.0 42.2,45.0 38.7,49.9 36.9,54.9 36.9,59.9 38.7,64.9 40.5,69.9 42.4,74.9 43.6,79.9 45.0,84.9 45.7,89.9 46.0,94.9 45.4,99.9 44.8,104.9 43.6,109.9 43.0,114.9 42.4,119.9 40.5,124.9 36.9,129.9 37.7,134.9 36.9,139.9 36.9,144.9 38.5,149.8 40.9,154.8 43.2,159.8 44.8,164.8 46.4,169.8 48.7,174.8 48.7,179.8 49.2,193.8 49.2,194.8 54.0,194.8" fill="#080808" shape-rendering="crispEdges"/></g><rect x="28.5" y="181.3" width="23.5" height="12.5" fill="#d4d4d4" fill-opacity="0.87"/><text class="l" x="40.2" y="190.8">(d)</text></svg>
<rect x="402.50" y="4.90" width="7.90" height="193.80" fill="url(#cbg)"/>
<text class="t" x="410.1" y="24.0">1400</text>
<text class="t" x="410.1" y="46.1">1200</text>
<text class="t" x="410.1" y="68.1">1000</text>
<text class="t" x="410.1" y="90.0">800</text>
<text class="t" x="410.1" y="112.8">600</text>
<text class="t" x="410.1" y="134.6">400</text>
<text class="t" x="410.1" y="156.4">200</text>
<text class="t" x="410.1" y="178.2">0</text>
<text class="t" x="410.1" y="196.4">-200</text>
<svg x="448.50" y="4.90" width="52.10" height="193.80" viewBox="0 0 52.10 193.80"><g filter="url(#fe)"><g transform="scale(1.0000,0.9990)"><use href="#hfe"/></g><polygon points="54.1,-1.0 38.8,-1.0 38.8,0.0 34.6,5.0 35.3,10.0 37.0,15.0 38.8,20.0 43.1,25.0 46.1,30.0 47.9,35.0 45.3,40.0 42.3,45.0 38.8,49.9 37.0,54.9 37.0,59.9 38.8,64.9 40.6,69.9 42.5,74.9 43.7,79.9 45.1,84.9 45.8,89.9 46.1,94.9 45.5,99.9 44.9,104.9 43.7,109.9 43.1,114.9 42.5,119.9 40.6,124.9 37.0,129.9 37.8,134.9 37.0,139.9 37.0,144.9 38.6,149.8 41.0,154.8 43.3,159.8 44.9,164.8 46.5,169.8 48.8,174.8 48.8,179.8 49.3,193.8 49.3,194.8 54.1,194.8" fill="#050505" shape-rendering="crispEdges"/></g><rect x="28.3" y="181.3" width="23.8" height="12.5" fill="#d4d4d4" fill-opacity="0.87"/><text class="l" x="40.2" y="190.8">(e)</text></svg>
<rect x="512.90" y="4.90" width="8.10" height="193.80" fill="url(#cbg)"/>
<text class="t" x="522.6" y="30.2">1200</text>
<text class="t" x="522.6" y="58.4">1000</text>
<text class="t" x="522.6" y="87.5">800</text>
<text class="t" x="522.6" y="116.5">600</text>
<text class="t" x="522.6" y="145.5">400</text>
<text class="t" x="522.6" y="174.6">200</text>
<text class="t" x="522.6" y="195.2">0</text>
<svg x="2.90" y="214.90" width="52.30" height="193.80" viewBox="0 0 52.30 193.80"><g filter="url(#fe)"><g transform="scale(1.0038,0.9990)"><use href="#hfe"/></g><polygon points="54.3,-1.0 38.9,-1.0 38.9,0.0 34.7,5.0 35.4,10.0 37.1,15.0 38.9,20.0 43.3,25.0 46.3,30.0 48.1,35.0 45.5,40.0 42.5,45.0 38.9,49.9 37.1,54.9 37.1,59.9 38.9,64.9 40.8,69.9 42.7,74.9 43.9,79.9 45.3,84.9 46.0,89.9 46.3,94.9 45.7,99.9 45.1,104.9 43.9,109.9 43.3,114.9 42.7,119.9 40.8,124.9 37.1,129.9 37.9,134.9 37.1,139.9 37.1,144.9 38.7,149.8 41.2,154.8 43.5,159.8 45.1,164.8 46.7,169.8 49.0,174.8 49.0,179.8 49.5,193.8 49.5,194.8 54.3,194.8" fill="#050505" shape-rendering="crispEdges"/></g><rect x="26.8" y="180.8" width="25.5" height="13.0" fill="#d4d4d4" fill-opacity="0.87"/><text class="l" x="39.6" y="190.8">(f)</text></svg>
<rect x="66.80" y="214.90" width="8.20" height="193.80" fill="url(#cbg)"/>
<text class="t" x="77.1" y="243.7">1200</text>
<text class="t" x="77.1" y="272.4">1000</text>
<text class="t" x="77.1" y="301.0">800</text>
<text class="t" x="77.1" y="328.9">600</text>
<text class="t" x="77.1" y="357.2">400</text>
<text class="t" x="77.1" y="385.8">200</text>
<text class="t" x="77.1" y="405.7">0</text>
<svg x="115.30" y="214.90" width="52.30" height="193.80" viewBox="0 0 52.30 193.80"><g filter="url(#fn)"><rect width="60" height="200" fill="#d6ff29"/><polygon points="0.1,0.1 31.6,0.1 31.0,5.4 29.7,10.2 28.5,15.1 27.3,19.9 24.9,24.7 21.9,28.3 18.3,32.0 16.4,34.4 15.8,40.1 15.8,47.4 18.3,54.6 18.3,58.2 15.8,64.3 12.2,70.3 7.4,76.4 3.7,82.4 0.7,85.6 0.7,82.4 1.3,76.4 2.5,70.3 4.4,64.3 6.2,58.2 8.6,54.6 9.0,47.1 9.2,36.8 12.8,34.4 11.6,30.7 9.2,27.1 5.6,22.3 2.5,17.4 0.7,10.2 0.0,0.1" fill="#ffcf00"/><polygon points="9.2,36.8 15.2,36.8 15.8,47.4 17.7,53.1 9.2,53.1 8.7,47.1" fill="#ffa300"/><linearGradient id="gl" gradientUnits="userSpaceOnUse" x1="15.7" x2="28.7"><stop offset="0" stop-color="#0094ff"/><stop offset="0.4" stop-color="#00c7ff"/><stop offset="0.5" stop-color="#1affe5"/><stop offset="1" stop-color="#80ff80"/></linearGradient><polygon points="19.5,33.1 25.5,33.1 27.2,37.1 28.7,42.1 27.2,47.1 25.5,50.1 21.9,54.6 19.7,56.6 18.3,54.6 16.1,49.8 15.7,43.1 15.8,39.1" fill="url(#gl)"/><ellipse cx="35.7" cy="19.1" rx="1.8" ry="3" fill="#80f0b0"/></g><rect x="26.5" y="181.0" width="25.8" height="12.8" fill="#d4d4d4" fill-opacity="0.87"/><text class="l" x="39.4" y="190.8">(g)</text></svg>
<rect x="179.50" y="214.90" width="8.50" height="193.80" fill="url(#cbg)"/>
<text class="t" x="191.0" y="238.3">400</text>
<text class="t" x="191.0" y="268.8">200</text>
<text class="t" x="191.0" y="299.4">0</text>
<text class="t" x="191.0" y="330.1">-200</text>
<text class="t" x="191.0" y="360.4">-400</text>
<text class="t" x="191.0" y="391.4">-600</text>
<svg x="225.70" y="214.90" width="53.00" height="193.80" viewBox="0 0 53.00 193.80"><g filter="url(#fn)"><rect width="60" height="200" fill="#d9ff26"/><polygon points="-0.7,-0.9 54.3,-0.9 54.3,28.1 43.8,30.1 42.3,45.1 44.3,70.1 44.5,95.1 37.3,126.6 39.7,143.5 44.5,162.9 48.1,179.8 50.3,195.1 5.8,195.1 7.0,172.6 11.8,155.6 7.0,143.5 3.3,100.1 7.0,77.1 11.8,60.1 15.3,45.5 13.0,33.4 2.1,16.5 -0.7,13.1" fill="#f8ff07"/><polyline points="2.1,16.5 13.0,33.4 15.3,45.5 11.8,60.1 7.0,77.1 4.6,97.1" fill="none" stroke="#ff9e00" stroke-width="0.6" opacity="0.6"/><polyline points="44.5,95.1 37.3,126.6 39.7,143.5 44.5,162.9 48.1,179.8 50.3,195.1" fill="none" stroke="#80ff80" stroke-width="0.6" opacity="0.5"/><polygon points="14.6,0.1 38.3,0.1 36.4,3.9 35.0,7.8 35.0,11.7 36.4,15.5 38.3,19.4 40.3,23.3 41.3,26.1 40.3,27.6 37.4,25.2 33.5,22.3 29.6,19.4 25.8,17.5 19.9,15.5 16.6,12.6 15.6,7.8" fill="#8cf08c"/><polygon points="39.8,34.6 42.3,37.1 42.5,41.1 41.3,44.1 39.8,46.1 37.8,46.1 36.5,43.1 36.8,39.1 38.3,36.1" fill="#8cf08c"/><ellipse cx="31.6" cy="5.8" rx="0.9" ry="1.6" fill="#50e8c0"/><polygon points="36.3,62.1 38.8,63.1 39.4,67.1 38.8,71.1 38.2,73.7 35.8,70.1 34.6,66.1" fill="#8cf08c"/><polyline points="38.8,46.1 38.3,53.1 37.8,59.1 37.3,63.1" fill="none" stroke="#a8f070" stroke-width="1"/><polygon points="36.2,140.1 40.2,140.1 39.3,146.1 37.3,153.1 36.5,147.1" fill="#8cf08c"/><polyline points="20.3,33.1 24.3,28.1" fill="none" stroke="#2effd1" stroke-width="0.8"/><ellipse cx="16.8" cy="42.1" rx="1" ry="2.2" fill="#0000fa"/><ellipse cx="16.1" cy="48.1" rx="0.8" ry="2.5" fill="#004dff"/><circle cx="17.6" cy="54.1" r="0.8" fill="#ff1a00"/><ellipse cx="20.3" cy="117.1" rx="1.6" ry="5" fill="#ffbd00" opacity="0.8"/><ellipse cx="16.3" cy="165.1" rx="0.8" ry="2" fill="#ff9e00"/><ellipse cx="22.3" cy="178.1" rx="0.8" ry="2" fill="#ff9e00"/><polyline points="3.3,100.1 7.0,143.5 11.8,155.6 7.0,172.6 5.8,195.1" fill="none" stroke="#ff9e00" stroke-width="0.6" opacity="0.6"/></g><rect x="28.3" y="180.5" width="24.7" height="13.3" fill="#d4d4d4" fill-opacity="0.87"/><text class="l" x="40.6" y="190.8">(h)</text></svg>
<rect x="290.50" y="214.90" width="8.50" height="193.80" fill="url(#cbg)"/>
<text class="t" x="302.5" y="238.5">400</text>
<text class="t" x="302.5" y="268.8">200</text>
<text class="t" x="302.5" y="299.2">0</text>
<text class="t" x="302.5" y="330.0">-200</text>
<text class="t" x="302.5" y="360.4">-400</text>
<text class="t" x="302.5" y="391.3">-600</text>
<svg x="337.90" y="214.90" width="51.90" height="193.80" viewBox="0 0 51.90 193.80"><g filter="url(#fn)"><rect width="60" height="200" fill="#7ef87c"/><linearGradient id="il" gradientUnits="userSpaceOnUse" x1="15.6" x2="22.3"><stop offset="0" stop-color="#002eff"/><stop offset="0.6" stop-color="#0061ff"/><stop offset="0.85" stop-color="#00b2ff"/><stop offset="1" stop-color="#05fffa"/></linearGradient><polygon points="21.8,33.8 22.3,36.1 21.8,38.9 20.9,43.5 20.4,48.1 20.0,52.7 19.5,55.1 19.1,55.9 17.6,54.6 16.3,52.7 15.6,48.1 15.8,43.5 17.2,38.9 19.6,35.6" fill="url(#il)"/></g><rect x="28.3" y="181.8" width="23.6" height="12.0" fill="#d4d4d4" fill-opacity="0.87"/><text class="l" x="40.1" y="190.8">(i)</text></svg>
<rect x="402.50" y="214.90" width="7.90" height="193.80" fill="url(#cbg)"/>
<text class="t" x="413.5" y="236.5">500</text>
<text class="t" x="413.5" y="253.3">400</text>
<text class="t" x="413.5" y="269.6">300</text>
<text class="t" x="413.5" y="286.2">200</text>
<text class="t" x="413.5" y="302.5">100</text>
<text class="t" x="413.5" y="319.0">0</text>
<text class="t" x="413.5" y="335.5">-100</text>
<text class="t" x="413.5" y="352.0">-200</text>
<text class="t" x="413.5" y="368.5">-300</text>
<text class="t" x="413.5" y="385.0">-400</text>
<text class="t" x="413.5" y="401.5">-500</text>
<svg x="449.20" y="214.90" width="52.10" height="193.80" viewBox="0 0 52.10 193.80"><g filter="url(#fn)"><rect width="60" height="200" fill="#7ef87c"/><circle cx="21.8" cy="33.1" r="1" fill="#ff8000"/><ellipse cx="15.3" cy="46.1" rx="0.7" ry="2.5" fill="#0080ff"/><circle cx="15.6" cy="42.1" r="0.7" fill="#ff8000"/><polyline points="0.8,13.1 5.8,21.1 12.8,29.1 16.8,35.1" fill="none" stroke="#1affe5" stroke-width="0.7" opacity="0.6"/><polyline points="37.8,21.1 42.8,29.1 47.8,39.1 42.8,50.1 37.8,63.1 40.8,85.1 43.8,115.1 41.8,145.1" fill="none" stroke="#bdff42" stroke-width="0.7" opacity="0.5"/></g><rect x="28.1" y="181.5" width="24.0" height="12.3" fill="#d4d4d4" fill-opacity="0.87"/><text class="l" x="40.1" y="190.8">(j)</text></svg>
<rect x="513.00" y="214.90" width="8.20" height="193.80" fill="url(#cbg)"/>
<text class="t" x="524.5" y="236.5">500</text>
<text class="t" x="524.5" y="253.3">400</text>
<text class="t" x="524.5" y="269.6">300</text>
<text class="t" x="524.5" y="286.2">200</text>
<text class="t" x="524.5" y="302.5">100</text>
<text class="t" x="524.5" y="319.0">0</text>
<text class="t" x="524.5" y="335.5">-100</text>
<text class="t" x="524.5" y="352.0">-200</text>
<text class="t" x="524.5" y="368.5">-300</text>
<text class="t" x="524.5" y="385.0">-400</text>
<text class="t" x="524.5" y="401.5">-500</text>
</g></svg></body></html>
